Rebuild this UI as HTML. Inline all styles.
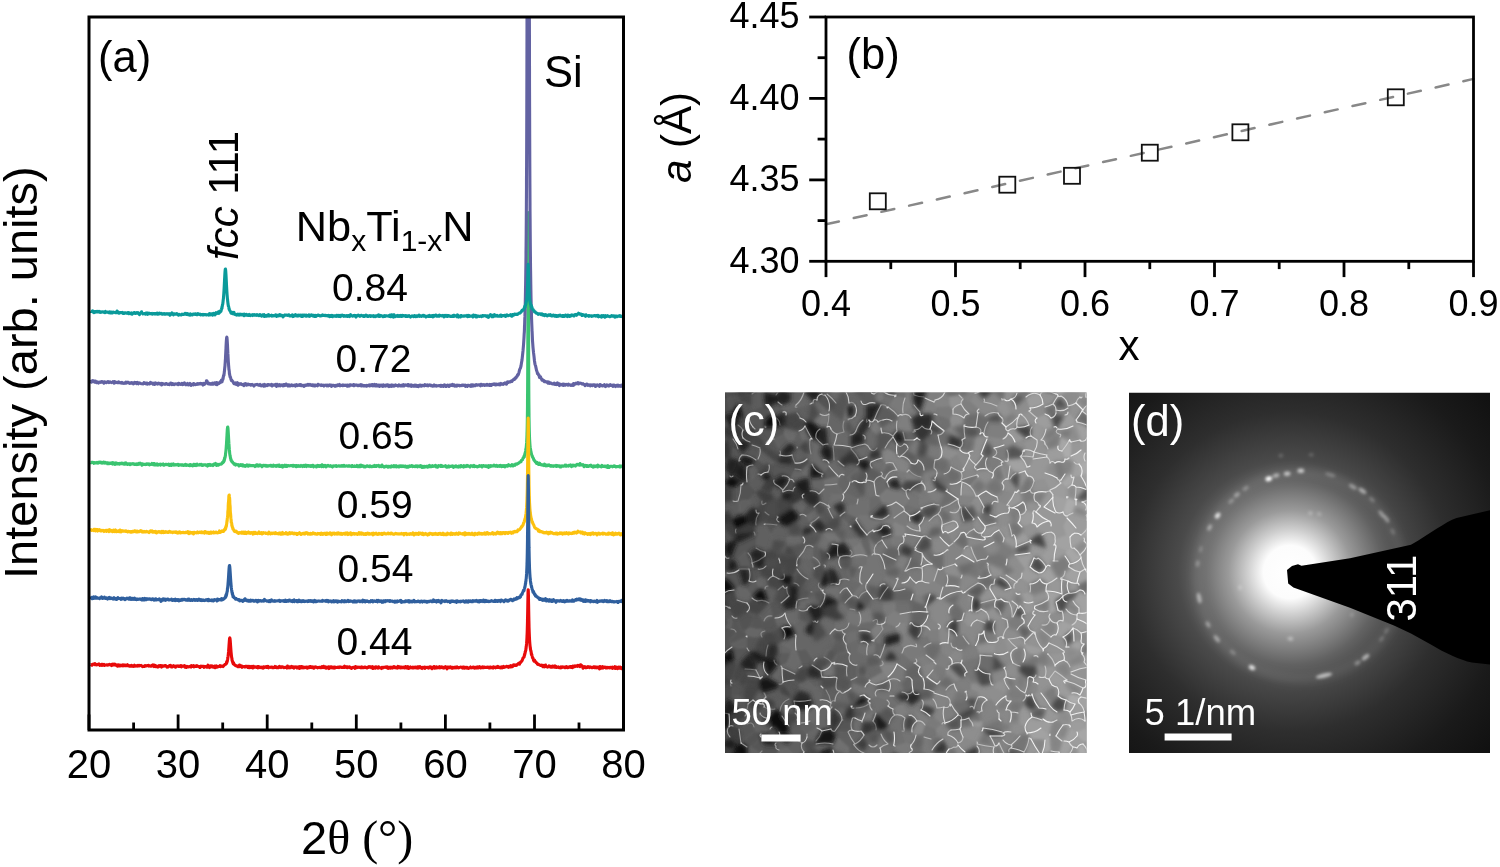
<!DOCTYPE html>
<html><head><meta charset="utf-8"><style>
html,body{margin:0;padding:0;background:#fff;}
svg{display:block;}
text{font-family:"Liberation Sans",Arial,sans-serif;}
</style></head><body>
<svg width="1500" height="867" viewBox="0 0 1500 867">
<rect width="1500" height="867" fill="#fff"/>
<defs>
<clipPath id="ca"><rect x="89" y="17" width="534.5" height="713"/></clipPath>
<clipPath id="cc"><rect x="725" y="392.5" width="361.5" height="360.5"/></clipPath>
<clipPath id="cd"><rect x="1129" y="392.5" width="361" height="360.5"/></clipPath>
<filter id="tb" x="0" y="0" width="1" height="1"><feGaussianBlur stdDeviation="1.2"/></filter>
<filter id="tb2" x="-5%" y="-5%" width="110%" height="110%"><feGaussianBlur stdDeviation="2.2"/></filter>
<filter id="tb3" x="-5%" y="-5%" width="110%" height="110%"><feGaussianBlur stdDeviation="0.5"/></filter>
<filter id="sb" x="-10%" y="-10%" width="120%" height="120%"><feGaussianBlur stdDeviation="1.4"/></filter>
<filter id="rb" x="-20%" y="-20%" width="140%" height="140%"><feGaussianBlur stdDeviation="3.5"/></filter>
<radialGradient id="glow" gradientUnits="userSpaceOnUse" cx="1290" cy="572" r="280">
<stop offset="0" stop-color="#fff"/>
<stop offset="0.095" stop-color="#fcfcfc"/>
<stop offset="0.15" stop-color="#d0d0d0"/>
<stop offset="0.22" stop-color="#9a9a9a"/>
<stop offset="0.33" stop-color="#626262"/>
<stop offset="0.40" stop-color="#4a4a4a"/>
<stop offset="0.571" stop-color="#2e2e2e"/>
<stop offset="0.786" stop-color="#1a1a1a"/>
<stop offset="1" stop-color="#0e0e0e"/>
</radialGradient>
</defs>
<!-- panel a -->
<g clip-path="url(#ca)" fill="none" stroke-width="3.1" stroke-linejoin="round">
<path d="M90.5,462.6 L91.0,462.8 L91.5,462.5 L92.0,462.3 L92.5,462.5 L93.0,462.3 L93.5,462.8 L94.0,463.4 L94.5,462.5 L95.0,462.5 L95.5,463.0 L96.0,463.0 L96.5,462.9 L97.0,462.4 L97.5,462.9 L98.0,463.2 L98.5,462.3 L99.0,462.7 L99.5,462.1 L100.0,462.4 L100.5,462.2 L101.0,462.9 L101.5,462.4 L102.0,463.2 L102.5,463.1 L103.0,463.0 L103.5,462.0 L104.0,462.9 L104.5,463.1 L105.0,463.2 L105.5,462.5 L106.0,463.0 L106.5,462.7 L107.0,462.8 L107.5,463.7 L108.0,462.9 L108.5,463.2 L109.0,463.7 L109.5,463.0 L110.0,463.3 L110.5,463.4 L111.0,463.4 L111.5,462.8 L112.0,463.4 L112.5,464.0 L113.0,462.7 L113.5,463.8 L114.0,463.5 L114.5,463.2 L115.0,464.4 L115.5,463.8 L116.0,462.9 L116.5,463.5 L117.0,463.8 L117.5,463.4 L118.0,463.9 L118.5,463.5 L119.0,463.9 L119.5,464.2 L120.0,463.3 L120.5,463.7 L121.0,463.4 L121.5,463.7 L122.0,463.1 L122.5,463.4 L123.0,463.6 L123.5,464.1 L124.0,464.2 L124.5,463.1 L125.0,463.4 L125.5,464.1 L126.0,462.9 L126.5,463.6 L127.0,463.8 L127.5,464.4 L128.0,464.1 L128.5,463.7 L129.0,463.7 L129.5,463.8 L130.0,464.6 L130.5,463.7 L131.0,463.8 L131.5,464.1 L132.0,463.9 L132.5,463.9 L133.0,463.5 L133.5,464.0 L134.0,463.8 L134.5,464.5 L135.0,464.3 L135.5,464.0 L136.0,464.3 L136.5,463.9 L137.0,464.5 L137.5,464.1 L138.0,464.3 L138.5,463.5 L139.0,464.3 L139.5,463.4 L140.0,463.2 L140.5,464.0 L141.0,463.7 L141.5,464.2 L142.0,465.2 L142.5,463.8 L143.0,463.9 L143.5,464.3 L144.0,464.4 L144.5,464.2 L145.0,464.2 L145.5,464.6 L146.0,464.5 L146.5,463.8 L147.0,464.3 L147.5,464.3 L148.0,463.8 L148.5,464.4 L149.0,463.9 L149.5,464.8 L150.0,464.4 L150.5,464.4 L151.0,464.1 L151.5,464.3 L152.0,463.5 L152.5,463.9 L153.0,464.6 L153.5,463.5 L154.0,464.8 L154.5,463.7 L155.0,464.8 L155.5,464.1 L156.0,464.8 L156.5,464.5 L157.0,463.8 L157.5,465.1 L158.0,465.2 L158.5,464.5 L159.0,464.4 L159.5,464.5 L160.0,464.1 L160.5,465.1 L161.0,464.3 L161.5,464.6 L162.0,464.2 L162.5,464.3 L163.0,464.0 L163.5,465.2 L164.0,464.6 L164.5,465.1 L165.0,464.7 L165.5,464.3 L166.0,464.5 L166.5,464.4 L167.0,464.7 L167.5,464.5 L168.0,464.6 L168.5,464.1 L169.0,464.4 L169.5,465.5 L170.0,464.4 L170.5,464.3 L171.0,464.9 L171.5,465.4 L172.0,464.1 L172.5,464.7 L173.0,464.5 L173.5,464.0 L174.0,465.1 L174.5,464.8 L175.0,464.8 L175.5,464.5 L176.0,465.0 L176.5,464.6 L177.0,464.8 L177.5,464.4 L178.0,464.3 L178.5,465.5 L179.0,464.6 L179.5,465.0 L180.0,464.9 L180.5,464.7 L181.0,464.7 L181.5,465.2 L182.0,464.8 L182.5,464.9 L183.0,464.9 L183.5,465.5 L184.0,465.3 L184.5,465.1 L185.0,464.7 L185.5,464.3 L186.0,465.4 L186.5,465.4 L187.0,464.9 L187.5,465.2 L188.0,465.3 L188.5,465.4 L189.0,465.4 L189.5,464.8 L190.0,465.7 L190.5,464.5 L191.0,465.4 L191.5,465.3 L192.0,465.4 L192.5,465.9 L193.0,465.7 L193.5,464.5 L194.0,464.3 L194.5,465.4 L195.0,464.6 L195.5,465.1 L196.0,465.5 L196.5,464.3 L197.0,464.1 L197.5,465.2 L198.0,465.1 L198.5,465.0 L199.0,465.1 L199.5,464.7 L200.0,464.4 L200.5,465.0 L201.0,464.7 L201.5,464.4 L202.0,465.4 L202.5,465.1 L203.0,465.3 L203.5,464.7 L204.0,464.8 L204.5,464.7 L205.0,464.7 L205.5,465.2 L206.0,464.8 L206.5,465.3 L207.0,465.3 L207.5,466.0 L208.0,464.5 L208.5,465.5 L209.0,465.1 L209.5,465.1 L210.0,464.4 L210.5,464.9 L211.0,465.4 L211.5,465.0 L212.0,465.1 L212.5,464.9 L213.0,465.5 L213.5,465.0 L214.0,464.0 L214.5,464.6 L215.0,464.0 L215.5,463.4 L216.0,464.6 L216.5,465.4 L217.0,464.8 L217.5,464.2 L218.0,464.2 L218.5,465.1 L219.0,464.5 L219.5,464.4 L220.0,464.2 L220.5,464.1 L221.0,464.2 L221.5,463.9 L222.0,463.4 L222.5,462.4 L223.0,462.6 L223.5,461.4 L223.7,461.8 L223.8,460.5 L223.9,460.8 L224.0,460.7 L224.0,460.1 L224.1,461.2 L224.2,460.8 L224.3,459.7 L224.4,460.0 L224.5,459.6 L224.5,458.1 L224.6,459.1 L224.7,458.6 L224.8,458.3 L224.9,457.3 L225.0,457.4 L225.0,457.3 L225.1,457.4 L225.2,456.5 L225.3,455.7 L225.4,455.8 L225.5,454.4 L225.5,454.2 L225.6,452.8 L225.7,452.8 L225.8,451.9 L225.9,451.0 L226.0,450.3 L226.0,449.9 L226.1,448.8 L226.2,447.6 L226.3,446.2 L226.4,444.8 L226.5,443.8 L226.5,443.3 L226.6,441.7 L226.7,440.0 L226.8,438.3 L226.9,436.5 L227.0,435.2 L227.0,434.7 L227.1,433.0 L227.2,431.4 L227.3,429.9 L227.4,428.7 L227.5,428.0 L227.5,427.8 L227.6,427.2 L227.7,427.0 L227.8,427.2 L227.9,427.8 L228.0,428.4 L228.0,428.7 L228.1,430.0 L228.2,431.4 L228.3,433.0 L228.4,434.8 L228.5,436.0 L228.5,436.5 L228.6,438.3 L228.7,440.1 L228.8,441.8 L228.9,443.4 L229.0,444.4 L229.0,444.9 L229.1,446.3 L229.2,447.6 L229.3,448.9 L229.4,450.0 L229.5,450.7 L229.5,451.0 L229.6,452.0 L229.7,453.6 L229.8,454.1 L229.9,454.9 L230.0,455.2 L230.0,455.2 L230.1,455.9 L230.2,456.3 L230.3,456.8 L230.4,457.4 L230.5,458.4 L230.5,458.1 L230.6,458.3 L230.7,458.4 L230.8,458.8 L230.9,460.1 L231.0,459.8 L231.0,459.7 L231.1,459.8 L231.2,459.8 L231.3,460.5 L231.4,461.1 L231.5,460.7 L231.5,460.9 L231.6,461.1 L232.0,461.9 L232.5,461.8 L233.0,462.9 L233.5,463.1 L234.0,464.2 L234.5,463.7 L235.0,464.5 L235.5,465.1 L236.0,464.4 L236.5,464.4 L237.0,464.8 L237.5,464.8 L238.0,464.5 L238.5,465.2 L239.0,466.0 L239.5,465.0 L240.0,465.1 L240.5,464.7 L241.0,465.4 L241.5,464.7 L242.0,464.8 L242.5,465.9 L243.0,464.9 L243.5,465.9 L244.0,466.1 L244.5,465.5 L245.0,465.7 L245.5,466.3 L246.0,465.4 L246.5,465.2 L247.0,464.9 L247.5,465.5 L248.0,466.2 L248.5,466.0 L249.0,465.1 L249.5,465.2 L250.0,465.3 L250.5,465.7 L251.0,465.5 L251.5,465.7 L252.0,465.7 L252.5,465.5 L253.0,465.6 L253.5,465.7 L254.0,465.6 L254.5,465.9 L255.0,466.5 L255.5,465.9 L256.0,465.7 L256.5,464.9 L257.0,465.9 L257.5,464.8 L258.0,465.1 L258.5,466.1 L259.0,466.0 L259.5,465.7 L260.0,465.0 L260.5,465.6 L261.0,465.4 L261.5,466.0 L262.0,466.8 L262.5,465.9 L263.0,465.4 L263.5,465.2 L264.0,465.7 L264.5,465.7 L265.0,465.3 L265.5,465.8 L266.0,465.3 L266.5,466.3 L267.0,466.3 L267.5,466.3 L268.0,465.6 L268.5,466.0 L269.0,465.8 L269.5,465.6 L270.0,465.7 L270.5,465.2 L271.0,465.2 L271.5,466.2 L272.0,465.8 L272.5,465.9 L273.0,466.3 L273.5,465.1 L274.0,465.5 L274.5,465.9 L275.0,466.0 L275.5,465.7 L276.0,466.3 L276.5,466.0 L277.0,465.3 L277.5,465.5 L278.0,466.2 L278.5,466.1 L279.0,465.0 L279.5,466.5 L280.0,466.2 L280.5,466.5 L281.0,465.7 L281.5,465.8 L282.0,465.4 L282.5,467.1 L283.0,465.8 L283.5,466.6 L284.0,465.6 L284.5,466.0 L285.0,465.2 L285.5,465.8 L286.0,466.4 L286.5,465.4 L287.0,466.4 L287.5,466.1 L288.0,465.5 L288.5,465.7 L289.0,465.7 L289.5,465.9 L290.0,465.7 L290.5,465.6 L291.0,465.8 L291.5,465.5 L292.0,465.4 L292.5,466.0 L293.0,466.4 L293.5,465.3 L294.0,466.0 L294.5,465.7 L295.0,465.6 L295.5,466.4 L296.0,465.8 L296.5,466.7 L297.0,465.7 L297.5,466.2 L298.0,465.9 L298.5,465.7 L299.0,466.3 L299.5,465.9 L300.0,466.3 L300.5,466.0 L301.0,465.5 L301.5,466.0 L302.0,466.1 L302.5,466.5 L303.0,465.6 L303.5,466.0 L304.0,465.3 L304.5,466.3 L305.0,465.6 L305.5,465.2 L306.0,466.0 L306.5,466.5 L307.0,465.4 L307.5,465.6 L308.0,465.7 L308.5,465.6 L309.0,466.2 L309.5,465.7 L310.0,465.7 L310.5,466.3 L311.0,465.7 L311.5,466.3 L312.0,465.6 L312.5,465.5 L313.0,465.3 L313.5,466.9 L314.0,465.9 L314.5,466.2 L315.0,466.1 L315.5,466.2 L316.0,466.1 L316.5,467.0 L317.0,465.6 L317.5,465.4 L318.0,465.6 L318.5,465.5 L319.0,466.4 L319.5,466.5 L320.0,465.7 L320.5,465.5 L321.0,466.0 L321.5,466.7 L322.0,464.8 L322.5,466.4 L323.0,465.6 L323.5,466.6 L324.0,465.6 L324.5,466.0 L325.0,465.4 L325.5,465.7 L326.0,466.8 L326.5,466.5 L327.0,466.0 L327.5,465.7 L328.0,465.3 L328.5,466.0 L329.0,466.1 L329.5,466.1 L330.0,466.1 L330.5,465.6 L331.0,466.1 L331.5,466.1 L332.0,466.7 L332.5,467.0 L333.0,466.1 L333.5,465.8 L334.0,466.1 L334.5,465.9 L335.0,465.8 L335.5,466.1 L336.0,465.7 L336.5,466.4 L337.0,466.1 L337.5,466.3 L338.0,466.1 L338.5,465.8 L339.0,465.8 L339.5,466.1 L340.0,465.9 L340.5,466.3 L341.0,466.2 L341.5,465.6 L342.0,466.2 L342.5,465.6 L343.0,465.9 L343.5,466.1 L344.0,465.3 L344.5,466.2 L345.0,466.3 L345.5,466.1 L346.0,466.0 L346.5,466.0 L347.0,465.8 L347.5,466.1 L348.0,466.0 L348.5,466.2 L349.0,465.7 L349.5,466.3 L350.0,466.3 L350.5,466.1 L351.0,466.0 L351.5,466.5 L352.0,465.5 L352.5,466.4 L353.0,466.3 L353.5,466.3 L354.0,466.4 L354.5,465.9 L355.0,466.1 L355.5,466.5 L356.0,466.4 L356.5,466.3 L357.0,465.5 L357.5,466.5 L358.0,466.8 L358.5,466.7 L359.0,466.3 L359.5,465.5 L360.0,466.7 L360.5,466.2 L361.0,465.1 L361.5,466.4 L362.0,465.6 L362.5,465.7 L363.0,466.0 L363.5,466.8 L364.0,466.1 L364.5,466.4 L365.0,467.0 L365.5,467.0 L366.0,466.2 L366.5,466.1 L367.0,465.7 L367.5,465.9 L368.0,466.4 L368.5,466.4 L369.0,466.3 L369.5,466.7 L370.0,465.9 L370.5,466.2 L371.0,466.6 L371.5,466.5 L372.0,466.7 L372.5,466.4 L373.0,466.1 L373.5,466.4 L374.0,465.8 L374.5,465.5 L375.0,466.5 L375.5,466.2 L376.0,466.4 L376.5,465.5 L377.0,466.1 L377.5,466.0 L378.0,465.9 L378.5,465.3 L379.0,466.1 L379.5,466.7 L380.0,466.5 L380.5,466.0 L381.0,466.3 L381.5,466.6 L382.0,465.0 L382.5,466.2 L383.0,466.5 L383.5,466.6 L384.0,467.1 L384.5,466.8 L385.0,466.4 L385.5,466.4 L386.0,466.6 L386.5,466.1 L387.0,466.3 L387.5,466.7 L388.0,467.2 L388.5,466.2 L389.0,466.3 L389.5,466.4 L390.0,466.9 L390.5,466.3 L391.0,467.0 L391.5,465.9 L392.0,466.2 L392.5,466.2 L393.0,466.7 L393.5,466.8 L394.0,465.6 L394.5,465.9 L395.0,466.5 L395.5,466.0 L396.0,465.6 L396.5,466.8 L397.0,466.5 L397.5,466.5 L398.0,466.1 L398.5,466.8 L399.0,466.2 L399.5,466.8 L400.0,465.9 L400.5,465.9 L401.0,466.4 L401.5,466.0 L402.0,466.6 L402.5,466.4 L403.0,465.9 L403.5,466.4 L404.0,466.2 L404.5,466.7 L405.0,466.0 L405.5,466.1 L406.0,466.9 L406.5,467.3 L407.0,467.2 L407.5,466.4 L408.0,466.4 L408.5,467.0 L409.0,466.3 L409.5,465.9 L410.0,466.4 L410.5,466.5 L411.0,466.0 L411.5,465.6 L412.0,465.7 L412.5,466.6 L413.0,466.0 L413.5,466.3 L414.0,466.4 L414.5,466.6 L415.0,466.2 L415.5,466.6 L416.0,465.9 L416.5,466.2 L417.0,465.9 L417.5,466.8 L418.0,466.3 L418.5,466.0 L419.0,466.2 L419.5,466.2 L420.0,466.7 L420.5,465.6 L421.0,465.9 L421.5,466.2 L422.0,467.5 L422.5,466.8 L423.0,466.3 L423.5,466.7 L424.0,467.3 L424.5,466.2 L425.0,466.2 L425.5,466.9 L426.0,466.6 L426.5,466.6 L427.0,466.1 L427.5,467.2 L428.0,467.1 L428.5,466.6 L429.0,466.7 L429.5,465.4 L430.0,466.6 L430.5,466.3 L431.0,466.5 L431.5,466.7 L432.0,466.2 L432.5,465.6 L433.0,466.5 L433.5,466.0 L434.0,466.2 L434.5,466.1 L435.0,466.2 L435.5,465.3 L436.0,466.9 L436.5,466.5 L437.0,466.8 L437.5,467.2 L438.0,466.4 L438.5,465.5 L439.0,465.9 L439.5,465.8 L440.0,466.1 L440.5,466.4 L441.0,465.4 L441.5,466.5 L442.0,465.7 L442.5,466.5 L443.0,466.3 L443.5,466.2 L444.0,466.3 L444.5,466.1 L445.0,466.1 L445.5,465.6 L446.0,466.3 L446.5,467.2 L447.0,467.2 L447.5,466.9 L448.0,466.7 L448.5,466.0 L449.0,467.0 L449.5,466.3 L450.0,466.3 L450.5,466.2 L451.0,466.4 L451.5,466.1 L452.0,466.3 L452.5,465.9 L453.0,466.2 L453.5,467.4 L454.0,466.3 L454.5,466.2 L455.0,466.6 L455.5,466.7 L456.0,465.8 L456.5,466.2 L457.0,466.8 L457.5,466.5 L458.0,466.4 L458.5,467.0 L459.0,466.0 L459.5,466.4 L460.0,466.1 L460.5,467.0 L461.0,465.5 L461.5,466.0 L462.0,466.1 L462.5,466.6 L463.0,466.6 L463.5,467.0 L464.0,465.6 L464.5,466.7 L465.0,466.2 L465.5,466.0 L466.0,466.6 L466.5,465.9 L467.0,465.4 L467.5,466.2 L468.0,465.6 L468.5,466.0 L469.0,466.5 L469.5,466.5 L470.0,467.0 L470.5,466.2 L471.0,465.6 L471.5,466.0 L472.0,465.9 L472.5,465.8 L473.0,466.5 L473.5,466.0 L474.0,465.4 L474.5,466.6 L475.0,466.2 L475.5,466.5 L476.0,466.3 L476.5,466.6 L477.0,466.3 L477.5,466.8 L478.0,466.5 L478.5,466.5 L479.0,466.5 L479.5,465.6 L480.0,466.2 L480.5,466.2 L481.0,466.4 L481.5,465.7 L482.0,467.0 L482.5,466.3 L483.0,465.7 L483.5,465.5 L484.0,466.1 L484.5,466.2 L485.0,465.9 L485.5,466.3 L486.0,465.9 L486.5,466.5 L487.0,465.9 L487.5,466.2 L488.0,466.6 L488.5,467.4 L489.0,465.7 L489.5,466.0 L490.0,465.8 L490.5,466.5 L491.0,465.7 L491.5,465.9 L492.0,466.1 L492.5,465.7 L493.0,465.7 L493.5,465.9 L494.0,465.2 L494.5,465.5 L495.0,465.9 L495.5,466.2 L496.0,466.0 L496.5,465.3 L497.0,465.9 L497.5,466.4 L498.0,466.3 L498.5,466.0 L499.0,465.6 L499.5,466.3 L500.0,465.7 L500.5,465.4 L501.0,465.6 L501.5,466.6 L502.0,466.0 L502.5,466.4 L503.0,465.7 L503.5,466.3 L504.0,465.6 L504.5,465.7 L505.0,466.9 L505.5,466.1 L506.0,465.5 L506.5,465.6 L507.0,465.8 L507.5,466.2 L508.0,465.3 L508.5,464.7 L509.0,465.4 L509.5,465.4 L510.0,465.4 L510.5,465.9 L511.0,465.4 L511.5,465.6 L512.0,464.6 L512.5,465.4 L513.0,465.9 L513.5,465.2 L514.0,464.9 L514.5,464.7 L515.0,465.3 L515.5,464.0 L516.0,464.2 L516.5,464.3 L517.0,464.2 L517.5,463.5 L518.0,463.6 L518.5,463.1 L519.0,463.0 L519.5,462.5 L520.0,461.7 L520.5,461.8 L521.0,461.7 L521.5,460.3 L522.0,460.0 L522.5,459.7 L523.0,458.1 L523.5,457.7 L524.0,456.1 L524.2,456.6 L524.3,456.9 L524.4,456.5 L524.5,455.2 L524.5,455.5 L524.6,455.1 L524.7,454.7 L524.8,455.1 L524.9,453.5 L525.0,454.2 L525.0,453.6 L525.1,454.0 L525.2,453.0 L525.3,452.2 L525.4,452.2 L525.5,452.0 L525.5,451.5 L525.6,451.4 L525.7,450.4 L525.8,449.1 L525.9,449.9 L526.0,449.1 L526.0,448.7 L526.1,448.1 L526.2,447.8 L526.3,446.4 L526.4,445.4 L526.5,444.2 L526.5,443.8 L526.6,442.9 L526.7,441.3 L526.8,439.4 L526.9,437.2 L527.0,434.5 L527.0,433.6 L527.1,431.2 L527.2,427.0 L527.3,421.6 L527.4,414.6 L527.5,405.2 L527.5,401.7 L527.6,392.3 L527.7,374.5 L527.8,349.6 L527.9,315.7 L528.0,273.3 L528.0,260.0 L528.1,231.9 L528.2,212.5 L528.3,229.3 L528.4,269.8 L528.5,312.6 L528.5,324.0 L528.6,347.3 L528.7,372.8 L528.8,391.1 L528.9,404.3 L529.0,413.9 L529.0,416.3 L529.1,421.1 L529.2,426.6 L529.3,430.9 L529.4,434.3 L529.5,437.0 L529.5,437.7 L529.6,439.3 L529.7,441.2 L529.8,442.7 L529.9,444.1 L530.0,445.3 L530.0,445.6 L530.1,446.3 L530.2,447.2 L530.3,447.8 L530.4,448.5 L530.5,449.4 L530.5,450.2 L530.6,449.4 L530.7,451.2 L530.8,450.9 L530.9,451.1 L531.0,452.7 L531.0,452.2 L531.1,451.9 L531.2,452.8 L531.3,453.7 L531.4,454.2 L531.5,453.8 L531.5,454.3 L531.6,454.7 L531.7,454.4 L531.8,455.1 L531.9,455.3 L532.0,455.3 L532.0,455.4 L532.1,455.9 L532.5,456.9 L533.0,457.7 L533.5,458.7 L534.0,460.2 L534.5,460.4 L535.0,461.3 L535.5,462.0 L536.0,462.2 L536.5,463.3 L537.0,462.3 L537.5,463.4 L538.0,463.1 L538.5,464.4 L539.0,464.5 L539.5,463.1 L540.0,463.7 L540.5,464.6 L541.0,464.8 L541.5,464.9 L542.0,464.6 L542.5,465.0 L543.0,465.2 L543.5,464.9 L544.0,465.5 L544.5,464.1 L545.0,465.5 L545.5,464.8 L546.0,465.8 L546.5,465.3 L547.0,465.0 L547.5,465.7 L548.0,465.1 L548.5,465.2 L549.0,464.9 L549.5,465.6 L550.0,465.9 L550.5,466.2 L551.0,465.7 L551.5,466.2 L552.0,465.8 L552.5,465.8 L553.0,466.1 L553.5,466.3 L554.0,465.7 L554.5,465.8 L555.0,465.8 L555.5,466.0 L556.0,465.5 L556.5,466.4 L557.0,465.8 L557.5,466.2 L558.0,465.6 L558.5,466.2 L559.0,466.2 L559.5,465.8 L560.0,466.9 L560.5,466.2 L561.0,466.8 L561.5,466.5 L562.0,465.8 L562.5,465.9 L563.0,466.3 L563.5,466.1 L564.0,466.1 L564.5,465.9 L565.0,465.2 L565.5,466.0 L566.0,465.1 L566.5,466.2 L567.0,465.7 L567.5,465.7 L568.0,465.9 L568.5,466.1 L569.0,465.3 L569.5,465.2 L570.0,465.5 L570.5,465.0 L571.0,465.5 L571.5,466.6 L572.0,465.3 L572.5,466.0 L573.0,465.1 L573.5,465.8 L574.0,465.4 L574.5,465.4 L575.0,465.6 L575.5,466.0 L576.0,465.1 L576.5,465.0 L577.0,464.3 L577.5,464.9 L578.0,464.4 L578.5,464.8 L579.0,464.3 L579.5,465.2 L580.0,463.6 L580.5,464.5 L581.0,465.1 L581.5,464.7 L582.0,464.7 L582.5,465.1 L583.0,464.7 L583.5,465.5 L584.0,466.7 L584.5,466.2 L585.0,465.3 L585.5,465.4 L586.0,465.7 L586.5,466.4 L587.0,465.6 L587.5,465.7 L588.0,466.5 L588.5,466.5 L589.0,465.9 L589.5,465.6 L590.0,465.5 L590.5,465.9 L591.0,465.2 L591.5,466.5 L592.0,465.9 L592.5,466.5 L593.0,467.1 L593.5,466.8 L594.0,465.8 L594.5,466.7 L595.0,466.8 L595.5,466.0 L596.0,465.9 L596.5,466.3 L597.0,465.6 L597.5,467.0 L598.0,465.2 L598.5,465.8 L599.0,466.2 L599.5,466.2 L600.0,466.4 L600.5,466.5 L601.0,466.3 L601.5,466.9 L602.0,465.4 L602.5,466.4 L603.0,466.1 L603.5,466.4 L604.0,466.5 L604.5,466.0 L605.0,466.1 L605.5,466.7 L606.0,466.5 L606.5,466.1 L607.0,467.3 L607.5,467.4 L608.0,465.7 L608.5,466.5 L609.0,467.5 L609.5,466.8 L610.0,466.5 L610.5,466.3 L611.0,466.2 L611.5,466.3 L612.0,466.2 L612.5,466.8 L613.0,466.2 L613.5,466.2 L614.0,465.9 L614.5,466.4 L615.0,466.0 L615.5,466.3 L616.0,466.9 L616.5,466.6 L617.0,466.7 L617.5,466.6 L618.0,466.5 L618.5,466.4 L619.0,466.3 L619.5,466.8 L620.0,465.9 L620.5,467.0 L621.0,466.5 L621.5,466.1 L622.0,466.2 L622.5,466.1" stroke="#3ac470"/><path d="M90.5,381.7 L91.0,381.3 L91.5,382.2 L92.0,381.3 L92.5,380.7 L93.0,381.4 L93.5,380.8 L94.0,381.7 L94.5,382.2 L95.0,382.1 L95.5,381.2 L96.0,381.5 L96.5,382.7 L97.0,382.0 L97.5,381.9 L98.0,382.4 L98.5,383.0 L99.0,382.5 L99.5,382.0 L100.0,382.1 L100.5,382.3 L101.0,381.7 L101.5,381.6 L102.0,382.1 L102.5,381.7 L103.0,382.1 L103.5,382.2 L104.0,383.2 L104.5,381.8 L105.0,382.1 L105.5,382.1 L106.0,382.4 L106.5,382.7 L107.0,382.0 L107.5,381.9 L108.0,381.5 L108.5,381.9 L109.0,382.6 L109.5,382.4 L110.0,381.9 L110.5,382.2 L111.0,382.4 L111.5,382.6 L112.0,382.2 L112.5,382.3 L113.0,381.6 L113.5,381.9 L114.0,383.2 L114.5,381.5 L115.0,382.4 L115.5,382.6 L116.0,382.4 L116.5,382.2 L117.0,382.6 L117.5,382.6 L118.0,382.6 L118.5,381.8 L119.0,382.6 L119.5,382.3 L120.0,382.4 L120.5,382.8 L121.0,383.0 L121.5,383.1 L122.0,382.5 L122.5,383.2 L123.0,383.3 L123.5,383.3 L124.0,383.4 L124.5,382.7 L125.0,382.7 L125.5,383.2 L126.0,382.2 L126.5,383.0 L127.0,382.6 L127.5,382.7 L128.0,382.1 L128.5,382.5 L129.0,382.9 L129.5,383.4 L130.0,383.4 L130.5,382.9 L131.0,382.9 L131.5,382.6 L132.0,383.2 L132.5,382.9 L133.0,383.3 L133.5,383.9 L134.0,383.1 L134.5,382.4 L135.0,382.7 L135.5,382.5 L136.0,382.6 L136.5,383.7 L137.0,383.3 L137.5,382.5 L138.0,383.5 L138.5,383.8 L139.0,383.0 L139.5,382.9 L140.0,383.1 L140.5,383.4 L141.0,383.6 L141.5,383.8 L142.0,383.8 L142.5,383.8 L143.0,383.9 L143.5,383.6 L144.0,382.6 L144.5,383.3 L145.0,383.5 L145.5,383.2 L146.0,383.8 L146.5,383.2 L147.0,383.0 L147.5,384.1 L148.0,383.7 L148.5,383.5 L149.0,383.9 L149.5,383.9 L150.0,383.6 L150.5,382.4 L151.0,383.2 L151.5,383.3 L152.0,383.1 L152.5,383.6 L153.0,384.1 L153.5,383.3 L154.0,383.1 L154.5,384.5 L155.0,383.4 L155.5,383.0 L156.0,383.7 L156.5,383.8 L157.0,383.3 L157.5,384.0 L158.0,383.4 L158.5,383.2 L159.0,383.8 L159.5,384.0 L160.0,383.4 L160.5,383.8 L161.0,383.7 L161.5,385.0 L162.0,383.4 L162.5,384.4 L163.0,383.7 L163.5,383.7 L164.0,384.1 L164.5,384.2 L165.0,384.4 L165.5,383.9 L166.0,383.5 L166.5,383.6 L167.0,384.1 L167.5,384.1 L168.0,384.5 L168.5,384.0 L169.0,384.3 L169.5,384.6 L170.0,384.0 L170.5,383.2 L171.0,383.4 L171.5,383.3 L172.0,384.6 L172.5,383.5 L173.0,384.5 L173.5,384.2 L174.0,384.7 L174.5,384.4 L175.0,383.9 L175.5,383.9 L176.0,384.0 L176.5,384.1 L177.0,383.8 L177.5,384.0 L178.0,384.7 L178.5,383.3 L179.0,384.1 L179.5,383.6 L180.0,384.1 L180.5,384.4 L181.0,384.0 L181.5,384.4 L182.0,383.4 L182.5,384.6 L183.0,383.8 L183.5,384.4 L184.0,384.2 L184.5,382.9 L185.0,383.8 L185.5,384.2 L186.0,384.8 L186.5,384.3 L187.0,384.3 L187.5,383.5 L188.0,384.8 L188.5,385.0 L189.0,384.2 L189.5,384.1 L190.0,383.4 L190.5,384.6 L191.0,385.4 L191.5,384.5 L192.0,384.8 L192.5,384.4 L193.0,383.8 L193.5,384.8 L194.0,383.7 L194.5,384.1 L195.0,384.3 L195.5,384.6 L196.0,384.4 L196.5,384.4 L197.0,383.9 L197.5,383.6 L198.0,384.3 L198.5,383.9 L199.0,383.6 L199.5,383.7 L200.0,384.0 L200.5,383.4 L201.0,383.6 L201.5,383.5 L202.0,384.3 L202.5,384.3 L203.0,385.0 L203.5,383.4 L204.0,383.7 L204.5,384.3 L205.0,383.6 L205.5,383.1 L206.0,383.0 L206.5,380.7 L207.0,381.0 L207.5,382.3 L208.0,383.7 L208.5,383.9 L209.0,383.3 L209.5,383.5 L210.0,384.3 L210.5,384.3 L211.0,383.7 L211.5,384.3 L212.0,384.3 L212.5,383.2 L213.0,383.8 L213.5,384.1 L214.0,383.7 L214.5,382.9 L215.0,383.7 L215.5,384.1 L216.0,384.4 L216.5,382.6 L217.0,384.7 L217.5,382.9 L218.0,383.7 L218.5,383.7 L219.0,383.4 L219.5,382.8 L220.0,381.9 L220.5,382.4 L221.0,381.4 L221.5,380.1 L222.0,381.8 L222.5,379.9 L222.8,379.6 L222.9,378.1 L223.0,379.0 L223.0,379.0 L223.1,378.7 L223.2,377.6 L223.3,376.8 L223.4,376.9 L223.5,375.7 L223.5,375.8 L223.6,376.2 L223.7,375.2 L223.8,375.1 L223.9,374.6 L224.0,375.2 L224.0,374.7 L224.1,373.5 L224.2,373.4 L224.3,371.8 L224.4,371.2 L224.5,371.3 L224.5,369.9 L224.6,369.5 L224.7,368.0 L224.8,367.6 L224.9,366.4 L225.0,365.7 L225.0,365.2 L225.1,363.9 L225.2,362.5 L225.3,360.9 L225.4,359.3 L225.5,358.3 L225.5,357.5 L225.6,355.7 L225.7,353.8 L225.8,351.8 L225.9,349.7 L226.0,348.5 L226.0,347.7 L226.1,345.7 L226.2,343.7 L226.3,341.9 L226.4,340.3 L226.5,339.5 L226.5,339.0 L226.6,338.0 L226.7,337.4 L226.8,337.2 L226.9,337.4 L227.0,337.8 L227.0,338.1 L227.1,339.1 L227.2,340.4 L227.3,342.0 L227.4,343.8 L227.5,345.0 L227.5,345.8 L227.6,347.8 L227.7,349.9 L227.8,351.9 L227.9,353.9 L228.0,355.1 L228.0,355.8 L228.1,357.7 L228.2,359.4 L228.3,361.0 L228.4,362.6 L228.5,363.4 L228.5,364.0 L228.6,365.3 L228.7,366.5 L228.8,367.7 L228.9,369.5 L229.0,369.0 L229.0,369.8 L229.1,370.2 L229.2,370.9 L229.3,371.6 L229.4,373.6 L229.5,374.4 L229.5,373.8 L229.6,373.9 L229.7,375.1 L229.8,375.1 L229.9,376.1 L230.0,376.2 L230.0,376.3 L230.1,376.9 L230.2,376.8 L230.3,377.2 L230.4,377.0 L230.5,377.7 L230.5,377.4 L230.6,378.3 L230.7,378.2 L231.0,379.4 L231.5,380.5 L232.0,380.4 L232.5,381.3 L233.0,381.7 L233.5,382.8 L234.0,383.6 L234.5,383.4 L235.0,383.1 L235.5,384.1 L236.0,382.9 L236.5,384.4 L237.0,383.5 L237.5,382.7 L238.0,385.2 L238.5,384.8 L239.0,383.7 L239.5,384.3 L240.0,384.2 L240.5,384.3 L241.0,383.7 L241.5,384.1 L242.0,384.6 L242.5,384.6 L243.0,385.0 L243.5,384.5 L244.0,385.6 L244.5,384.2 L245.0,384.7 L245.5,383.7 L246.0,384.1 L246.5,385.2 L247.0,384.2 L247.5,384.9 L248.0,384.7 L248.5,384.2 L249.0,384.6 L249.5,384.5 L250.0,384.5 L250.5,385.1 L251.0,385.1 L251.5,384.5 L252.0,384.4 L252.5,384.9 L253.0,384.8 L253.5,385.3 L254.0,386.0 L254.5,385.2 L255.0,384.8 L255.5,384.8 L256.0,384.5 L256.5,384.5 L257.0,384.4 L257.5,384.7 L258.0,384.7 L258.5,385.2 L259.0,384.7 L259.5,384.8 L260.0,384.4 L260.5,385.7 L261.0,385.2 L261.5,385.8 L262.0,385.3 L262.5,385.6 L263.0,384.9 L263.5,385.3 L264.0,386.2 L264.5,384.4 L265.0,385.5 L265.5,385.8 L266.0,385.2 L266.5,385.4 L267.0,385.6 L267.5,384.7 L268.0,385.2 L268.5,384.6 L269.0,384.7 L269.5,384.8 L270.0,385.0 L270.5,385.1 L271.0,385.3 L271.5,384.4 L272.0,386.0 L272.5,385.6 L273.0,385.4 L273.5,384.9 L274.0,385.0 L274.5,385.3 L275.0,385.3 L275.5,384.3 L276.0,385.4 L276.5,386.4 L277.0,384.3 L277.5,385.6 L278.0,385.3 L278.5,385.1 L279.0,385.8 L279.5,384.6 L280.0,385.2 L280.5,385.8 L281.0,385.0 L281.5,384.9 L282.0,385.2 L282.5,384.9 L283.0,385.9 L283.5,384.7 L284.0,385.6 L284.5,384.6 L285.0,385.5 L285.5,385.1 L286.0,384.0 L286.5,385.2 L287.0,384.7 L287.5,385.0 L288.0,385.9 L288.5,384.7 L289.0,384.7 L289.5,385.9 L290.0,385.3 L290.5,385.9 L291.0,385.4 L291.5,384.8 L292.0,385.2 L292.5,385.8 L293.0,385.7 L293.5,385.2 L294.0,385.2 L294.5,385.2 L295.0,385.0 L295.5,386.1 L296.0,385.2 L296.5,384.7 L297.0,385.0 L297.5,385.6 L298.0,385.5 L298.5,385.2 L299.0,384.9 L299.5,385.3 L300.0,384.5 L300.5,384.7 L301.0,385.6 L301.5,385.0 L302.0,385.4 L302.5,385.8 L303.0,385.6 L303.5,385.3 L304.0,386.3 L304.5,385.6 L305.0,385.1 L305.5,385.6 L306.0,385.5 L306.5,384.9 L307.0,385.3 L307.5,385.2 L308.0,384.4 L308.5,385.2 L309.0,385.2 L309.5,385.1 L310.0,384.5 L310.5,385.1 L311.0,385.3 L311.5,385.4 L312.0,384.8 L312.5,385.6 L313.0,384.8 L313.5,385.2 L314.0,385.9 L314.5,385.0 L315.0,385.1 L315.5,385.8 L316.0,385.2 L316.5,385.2 L317.0,385.4 L317.5,385.8 L318.0,384.3 L318.5,385.0 L319.0,384.9 L319.5,384.9 L320.0,385.0 L320.5,385.0 L321.0,385.5 L321.5,384.9 L322.0,385.4 L322.5,385.5 L323.0,385.0 L323.5,385.4 L324.0,386.1 L324.5,385.5 L325.0,385.1 L325.5,385.3 L326.0,385.0 L326.5,385.5 L327.0,385.8 L327.5,385.0 L328.0,385.3 L328.5,385.9 L329.0,385.2 L329.5,385.5 L330.0,384.9 L330.5,385.0 L331.0,385.2 L331.5,386.4 L332.0,385.2 L332.5,385.2 L333.0,385.2 L333.5,385.3 L334.0,385.7 L334.5,385.5 L335.0,386.3 L335.5,385.5 L336.0,386.1 L336.5,385.5 L337.0,385.7 L337.5,384.8 L338.0,385.4 L338.5,385.4 L339.0,385.3 L339.5,384.5 L340.0,385.8 L340.5,385.3 L341.0,385.2 L341.5,385.3 L342.0,385.3 L342.5,385.6 L343.0,384.9 L343.5,385.0 L344.0,385.6 L344.5,385.5 L345.0,385.3 L345.5,385.2 L346.0,385.1 L346.5,385.4 L347.0,386.0 L347.5,385.0 L348.0,386.1 L348.5,385.8 L349.0,385.3 L349.5,385.8 L350.0,384.8 L350.5,384.7 L351.0,384.9 L351.5,385.3 L352.0,385.3 L352.5,385.2 L353.0,385.5 L353.5,384.5 L354.0,385.7 L354.5,384.8 L355.0,385.2 L355.5,385.3 L356.0,385.0 L356.5,384.9 L357.0,385.0 L357.5,385.5 L358.0,385.7 L358.5,385.7 L359.0,385.0 L359.5,385.1 L360.0,385.1 L360.5,385.7 L361.0,384.6 L361.5,386.0 L362.0,385.3 L362.5,385.1 L363.0,385.6 L363.5,386.0 L364.0,385.6 L364.5,386.0 L365.0,385.6 L365.5,386.0 L366.0,386.1 L366.5,385.5 L367.0,386.1 L367.5,385.6 L368.0,385.5 L368.5,385.1 L369.0,385.4 L369.5,385.9 L370.0,384.9 L370.5,385.8 L371.0,385.7 L371.5,385.6 L372.0,384.5 L372.5,385.5 L373.0,385.8 L373.5,385.2 L374.0,385.6 L374.5,384.4 L375.0,385.8 L375.5,385.2 L376.0,385.9 L376.5,384.7 L377.0,385.8 L377.5,385.4 L378.0,385.9 L378.5,385.1 L379.0,385.2 L379.5,386.5 L380.0,385.1 L380.5,385.2 L381.0,385.4 L381.5,385.1 L382.0,386.1 L382.5,386.3 L383.0,385.2 L383.5,384.8 L384.0,386.1 L384.5,386.0 L385.0,385.9 L385.5,386.1 L386.0,385.1 L386.5,385.5 L387.0,384.9 L387.5,384.9 L388.0,386.0 L388.5,385.2 L389.0,386.6 L389.5,385.6 L390.0,385.2 L390.5,385.9 L391.0,386.3 L391.5,385.8 L392.0,385.0 L392.5,385.7 L393.0,386.2 L393.5,385.3 L394.0,385.2 L394.5,386.0 L395.0,385.6 L395.5,385.0 L396.0,385.4 L396.5,385.2 L397.0,385.7 L397.5,385.6 L398.0,386.1 L398.5,385.9 L399.0,384.8 L399.5,385.7 L400.0,385.9 L400.5,385.8 L401.0,386.0 L401.5,385.3 L402.0,385.1 L402.5,386.0 L403.0,385.1 L403.5,384.6 L404.0,386.0 L404.5,385.2 L405.0,385.4 L405.5,384.9 L406.0,385.0 L406.5,385.0 L407.0,385.4 L407.5,385.7 L408.0,384.5 L408.5,385.9 L409.0,385.0 L409.5,385.1 L410.0,385.9 L410.5,385.5 L411.0,384.9 L411.5,386.4 L412.0,385.2 L412.5,385.7 L413.0,385.6 L413.5,386.2 L414.0,385.3 L414.5,386.0 L415.0,385.2 L415.5,386.1 L416.0,385.2 L416.5,385.4 L417.0,386.4 L417.5,385.7 L418.0,385.6 L418.5,386.6 L419.0,385.7 L419.5,385.2 L420.0,385.9 L420.5,385.0 L421.0,386.1 L421.5,386.1 L422.0,385.3 L422.5,385.3 L423.0,385.6 L423.5,385.6 L424.0,385.1 L424.5,385.8 L425.0,384.6 L425.5,385.3 L426.0,385.4 L426.5,385.4 L427.0,385.7 L427.5,385.0 L428.0,385.8 L428.5,385.5 L429.0,385.2 L429.5,384.9 L430.0,385.0 L430.5,385.7 L431.0,385.1 L431.5,385.6 L432.0,386.0 L432.5,386.0 L433.0,386.2 L433.5,385.4 L434.0,385.0 L434.5,386.0 L435.0,385.7 L435.5,386.0 L436.0,385.5 L436.5,386.1 L437.0,385.9 L437.5,385.8 L438.0,385.8 L438.5,385.7 L439.0,385.6 L439.5,385.6 L440.0,386.0 L440.5,385.3 L441.0,386.3 L441.5,385.5 L442.0,386.0 L442.5,385.5 L443.0,385.4 L443.5,386.4 L444.0,385.4 L444.5,384.9 L445.0,385.2 L445.5,385.4 L446.0,386.5 L446.5,385.6 L447.0,385.9 L447.5,385.0 L448.0,385.7 L448.5,385.8 L449.0,386.3 L449.5,385.2 L450.0,385.8 L450.5,385.6 L451.0,385.0 L451.5,385.5 L452.0,385.4 L452.5,384.4 L453.0,385.7 L453.5,385.7 L454.0,385.3 L454.5,384.9 L455.0,386.1 L455.5,385.6 L456.0,385.9 L456.5,386.1 L457.0,385.2 L457.5,385.8 L458.0,385.3 L458.5,385.4 L459.0,385.4 L459.5,385.4 L460.0,385.9 L460.5,385.5 L461.0,385.4 L461.5,385.3 L462.0,385.6 L462.5,385.0 L463.0,385.2 L463.5,385.4 L464.0,385.1 L464.5,385.3 L465.0,385.1 L465.5,386.3 L466.0,386.0 L466.5,385.6 L467.0,385.3 L467.5,386.3 L468.0,385.5 L468.5,385.3 L469.0,385.5 L469.5,385.5 L470.0,386.0 L470.5,385.3 L471.0,386.3 L471.5,384.9 L472.0,385.6 L472.5,384.8 L473.0,386.1 L473.5,385.1 L474.0,385.3 L474.5,385.7 L475.0,385.8 L475.5,384.8 L476.0,385.1 L476.5,384.6 L477.0,385.3 L477.5,385.2 L478.0,385.1 L478.5,384.9 L479.0,385.0 L479.5,384.8 L480.0,385.4 L480.5,385.8 L481.0,384.3 L481.5,385.1 L482.0,384.9 L482.5,385.3 L483.0,384.7 L483.5,385.0 L484.0,384.6 L484.5,385.4 L485.0,385.1 L485.5,384.9 L486.0,385.2 L486.5,384.9 L487.0,384.3 L487.5,385.2 L488.0,385.1 L488.5,384.8 L489.0,385.3 L489.5,385.4 L490.0,384.4 L490.5,384.5 L491.0,385.5 L491.5,385.4 L492.0,384.4 L492.5,384.2 L493.0,384.4 L493.5,384.4 L494.0,383.9 L494.5,384.6 L495.0,384.0 L495.5,384.0 L496.0,384.9 L496.5,384.1 L497.0,384.4 L497.5,384.6 L498.0,384.7 L498.5,384.1 L499.0,384.2 L499.5,383.8 L500.0,384.9 L500.5,384.3 L501.0,383.5 L501.5,383.9 L502.0,384.2 L502.5,384.0 L503.0,384.5 L503.5,384.2 L504.0,383.3 L504.5,383.4 L505.0,382.8 L505.5,383.4 L506.0,383.2 L506.5,384.2 L507.0,382.9 L507.5,381.8 L508.0,382.3 L508.5,382.5 L509.0,381.7 L509.5,381.7 L510.0,381.8 L510.5,381.9 L511.0,381.4 L511.5,380.8 L512.0,381.3 L512.5,380.4 L513.0,380.1 L513.5,379.4 L514.0,379.3 L514.5,379.5 L515.0,378.0 L515.5,378.2 L516.0,378.0 L516.5,376.8 L517.0,376.4 L517.5,374.9 L518.0,375.1 L518.5,374.0 L519.0,372.4 L519.5,370.1 L520.0,368.8 L520.5,367.9 L521.0,366.0 L521.5,362.8 L522.0,360.1 L522.5,355.5 L523.0,350.9 L523.5,345.1 L524.0,337.5 L524.2,333.5 L524.3,332.6 L524.4,330.6 L524.5,327.1 L524.5,326.3 L524.6,325.3 L524.7,322.2 L524.8,318.6 L524.9,316.9 L525.0,313.3 L525.0,311.9 L525.1,310.5 L525.2,305.7 L525.3,300.9 L525.4,296.6 L525.5,290.9 L525.5,289.3 L525.6,285.7 L525.7,278.9 L525.8,271.8 L525.9,264.8 L526.0,255.4 L526.0,252.4 L526.1,245.0 L526.2,233.3 L526.3,219.7 L526.4,204.2 L526.5,186.2 L526.5,180.1 L526.6,164.9 L526.7,139.6 L526.8,109.3 L526.9,72.5 L527.0,27.2 L527.0,11.6 L527.1,10.0 L527.2,10.0 L527.3,10.0 L527.4,10.0 L527.5,10.0 L527.5,10.0 L527.6,10.0 L527.7,10.0 L527.8,10.0 L527.9,10.0 L528.0,10.0 L528.0,10.0 L528.1,10.0 L528.2,10.0 L528.3,10.0 L528.4,10.0 L528.5,10.0 L528.5,10.0 L528.6,10.0 L528.7,10.0 L528.8,10.0 L528.9,10.0 L529.0,10.0 L529.0,10.0 L529.1,10.0 L529.2,10.0 L529.3,10.0 L529.4,23.2 L529.5,69.3 L529.5,81.3 L529.6,106.7 L529.7,137.5 L529.8,163.1 L529.9,184.6 L530.0,202.9 L530.0,207.9 L530.1,218.6 L530.2,232.1 L530.3,244.6 L530.4,254.2 L530.5,264.2 L530.5,265.5 L530.6,271.3 L530.7,278.0 L530.8,284.9 L530.9,291.1 L531.0,296.8 L531.0,297.3 L531.1,300.9 L531.2,305.1 L531.3,308.9 L531.4,312.4 L531.5,316.3 L531.5,316.5 L531.6,319.5 L531.7,322.3 L531.8,324.7 L531.9,327.0 L532.0,329.2 L532.0,331.3 L532.1,331.4 L532.5,340.6 L533.0,347.3 L533.5,352.4 L534.0,356.4 L534.5,361.0 L535.0,364.3 L535.5,365.5 L536.0,367.9 L536.5,370.3 L537.0,371.5 L537.5,373.6 L538.0,373.6 L538.5,375.1 L539.0,375.1 L539.5,377.4 L540.0,376.9 L540.5,376.8 L541.0,378.3 L541.5,378.8 L542.0,380.2 L542.5,379.6 L543.0,380.1 L543.5,380.7 L544.0,381.5 L544.5,381.0 L545.0,381.8 L545.5,381.8 L546.0,381.6 L546.5,382.0 L547.0,382.2 L547.5,381.9 L548.0,383.1 L548.5,382.0 L549.0,383.3 L549.5,383.4 L550.0,383.0 L550.5,382.8 L551.0,383.2 L551.5,383.6 L552.0,383.8 L552.5,383.7 L553.0,384.1 L553.5,383.5 L554.0,383.9 L554.5,383.2 L555.0,384.3 L555.5,384.1 L556.0,383.9 L556.5,384.6 L557.0,384.5 L557.5,382.9 L558.0,384.3 L558.5,383.6 L559.0,384.8 L559.5,385.5 L560.0,384.2 L560.5,384.5 L561.0,384.4 L561.5,384.7 L562.0,384.8 L562.5,385.1 L563.0,384.1 L563.5,385.3 L564.0,384.2 L564.5,384.8 L565.0,385.2 L565.5,385.0 L566.0,384.3 L566.5,384.4 L567.0,384.5 L567.5,384.7 L568.0,385.2 L568.5,384.1 L569.0,384.9 L569.5,385.0 L570.0,385.0 L570.5,384.9 L571.0,385.4 L571.5,384.9 L572.0,385.0 L572.5,384.8 L573.0,385.3 L573.5,383.6 L574.0,385.0 L574.5,384.2 L575.0,384.1 L575.5,383.6 L576.0,383.1 L576.5,383.6 L577.0,383.3 L577.5,383.7 L578.0,382.7 L578.5,384.0 L579.0,383.4 L579.5,383.2 L580.0,383.1 L580.5,383.2 L581.0,383.2 L581.5,383.6 L582.0,384.0 L582.5,384.1 L583.0,383.7 L583.5,384.3 L584.0,384.2 L584.5,384.7 L585.0,385.6 L585.5,385.1 L586.0,384.8 L586.5,384.2 L587.0,384.4 L587.5,384.3 L588.0,385.4 L588.5,384.8 L589.0,385.2 L589.5,384.9 L590.0,385.3 L590.5,385.9 L591.0,384.9 L591.5,385.1 L592.0,384.9 L592.5,385.7 L593.0,384.9 L593.5,384.8 L594.0,384.7 L594.5,384.7 L595.0,385.6 L595.5,386.5 L596.0,385.0 L596.5,385.8 L597.0,385.5 L597.5,384.9 L598.0,385.3 L598.5,385.3 L599.0,385.1 L599.5,386.3 L600.0,384.6 L600.5,385.6 L601.0,385.6 L601.5,385.2 L602.0,385.6 L602.5,385.9 L603.0,385.6 L603.5,385.7 L604.0,385.8 L604.5,384.6 L605.0,386.2 L605.5,386.6 L606.0,386.0 L606.5,386.0 L607.0,384.9 L607.5,385.5 L608.0,385.2 L608.5,385.3 L609.0,386.0 L609.5,385.2 L610.0,385.5 L610.5,384.7 L611.0,385.5 L611.5,385.6 L612.0,385.3 L612.5,385.3 L613.0,386.4 L613.5,385.0 L614.0,385.1 L614.5,385.2 L615.0,386.1 L615.5,386.5 L616.0,385.8 L616.5,385.3 L617.0,385.4 L617.5,386.1 L618.0,385.2 L618.5,386.3 L619.0,386.3 L619.5,385.7 L620.0,385.9 L620.5,386.0 L621.0,386.3 L621.5,385.2 L622.0,386.2 L622.5,385.5" stroke="#6262a2"/><path d="M90.5,311.2 L91.0,311.6 L91.5,311.5 L92.0,311.1 L92.5,310.9 L93.0,311.2 L93.5,312.3 L94.0,312.6 L94.5,312.0 L95.0,312.3 L95.5,311.5 L96.0,311.7 L96.5,311.9 L97.0,311.3 L97.5,311.4 L98.0,311.9 L98.5,311.7 L99.0,311.4 L99.5,312.1 L100.0,311.8 L100.5,312.4 L101.0,312.0 L101.5,311.9 L102.0,312.1 L102.5,312.0 L103.0,311.8 L103.5,311.9 L104.0,312.4 L104.5,312.4 L105.0,312.7 L105.5,311.4 L106.0,312.0 L106.5,312.0 L107.0,312.3 L107.5,312.0 L108.0,312.0 L108.5,312.6 L109.0,312.4 L109.5,311.8 L110.0,312.9 L110.5,312.8 L111.0,312.1 L111.5,312.8 L112.0,312.1 L112.5,312.9 L113.0,312.4 L113.5,312.1 L114.0,312.3 L114.5,312.2 L115.0,312.6 L115.5,312.6 L116.0,312.6 L116.5,312.3 L117.0,311.0 L117.5,312.7 L118.0,311.8 L118.5,312.8 L119.0,313.2 L119.5,312.8 L120.0,312.5 L120.5,312.6 L121.0,312.7 L121.5,312.5 L122.0,312.5 L122.5,312.4 L123.0,313.4 L123.5,312.8 L124.0,313.3 L124.5,312.8 L125.0,312.9 L125.5,312.8 L126.0,313.1 L126.5,313.3 L127.0,313.1 L127.5,312.7 L128.0,312.6 L128.5,313.7 L129.0,312.9 L129.5,312.9 L130.0,313.7 L130.5,313.5 L131.0,313.3 L131.5,312.9 L132.0,314.2 L132.5,313.3 L133.0,313.4 L133.5,313.1 L134.0,312.5 L134.5,312.6 L135.0,313.4 L135.5,313.4 L136.0,313.1 L136.5,312.7 L137.0,312.6 L137.5,313.1 L138.0,312.6 L138.5,313.7 L139.0,313.8 L139.5,314.6 L140.0,313.7 L140.5,313.1 L141.0,313.0 L141.5,311.8 L142.0,313.1 L142.5,313.3 L143.0,313.9 L143.5,313.7 L144.0,313.7 L144.5,313.6 L145.0,313.8 L145.5,314.1 L146.0,313.0 L146.5,313.3 L147.0,312.9 L147.5,314.3 L148.0,314.1 L148.5,313.9 L149.0,313.0 L149.5,313.7 L150.0,313.5 L150.5,313.7 L151.0,313.6 L151.5,313.9 L152.0,313.5 L152.5,314.1 L153.0,313.8 L153.5,313.6 L154.0,313.7 L154.5,313.5 L155.0,314.1 L155.5,313.6 L156.0,313.9 L156.5,313.6 L157.0,313.1 L157.5,314.2 L158.0,313.3 L158.5,314.1 L159.0,314.0 L159.5,313.1 L160.0,313.4 L160.5,313.6 L161.0,313.5 L161.5,313.4 L162.0,314.2 L162.5,313.8 L163.0,314.1 L163.5,313.7 L164.0,314.1 L164.5,313.6 L165.0,313.9 L165.5,314.2 L166.0,314.0 L166.5,313.8 L167.0,313.5 L167.5,314.1 L168.0,314.2 L168.5,313.9 L169.0,313.7 L169.5,314.3 L170.0,315.2 L170.5,313.9 L171.0,314.2 L171.5,314.3 L172.0,312.9 L172.5,314.2 L173.0,313.8 L173.5,314.8 L174.0,314.0 L174.5,313.8 L175.0,314.1 L175.5,314.2 L176.0,313.9 L176.5,314.2 L177.0,313.6 L177.5,314.1 L178.0,314.6 L178.5,315.1 L179.0,314.6 L179.5,314.4 L180.0,314.8 L180.5,314.7 L181.0,315.0 L181.5,314.8 L182.0,314.2 L182.5,314.4 L183.0,314.4 L183.5,314.4 L184.0,314.4 L184.5,314.0 L185.0,313.4 L185.5,314.0 L186.0,313.4 L186.5,314.4 L187.0,314.4 L187.5,313.6 L188.0,314.7 L188.5,314.8 L189.0,314.4 L189.5,315.1 L190.0,315.2 L190.5,313.9 L191.0,314.9 L191.5,314.6 L192.0,314.6 L192.5,314.9 L193.0,314.1 L193.5,314.2 L194.0,314.1 L194.5,314.1 L195.0,314.4 L195.5,313.8 L196.0,314.0 L196.5,314.7 L197.0,314.4 L197.5,314.6 L198.0,313.6 L198.5,314.1 L199.0,314.2 L199.5,314.5 L200.0,314.2 L200.5,314.9 L201.0,314.5 L201.5,314.5 L202.0,314.5 L202.5,314.8 L203.0,314.3 L203.5,315.0 L204.0,314.7 L204.5,314.6 L205.0,314.5 L205.5,314.7 L206.0,314.9 L206.5,314.9 L207.0,314.6 L207.5,314.8 L208.0,314.5 L208.5,315.0 L209.0,314.4 L209.5,313.5 L210.0,315.0 L210.5,314.4 L211.0,313.8 L211.5,314.2 L212.0,313.9 L212.5,315.2 L213.0,314.4 L213.5,313.4 L214.0,314.3 L214.5,313.8 L215.0,314.8 L215.5,313.4 L216.0,312.7 L216.5,313.6 L217.0,313.3 L217.5,313.1 L218.0,312.1 L218.5,313.0 L219.0,313.3 L219.5,311.3 L220.0,312.2 L220.5,310.8 L221.0,311.2 L221.4,309.5 L221.5,309.0 L221.5,309.5 L221.6,309.0 L221.7,308.2 L221.8,308.5 L221.9,307.6 L222.0,306.7 L222.0,308.4 L222.1,306.9 L222.2,306.4 L222.3,306.4 L222.4,305.1 L222.5,304.7 L222.5,305.0 L222.6,304.5 L222.7,304.2 L222.8,304.0 L222.9,302.6 L223.0,302.4 L223.0,302.3 L223.1,300.8 L223.2,300.5 L223.3,299.0 L223.4,298.9 L223.5,297.5 L223.5,297.3 L223.6,296.2 L223.7,294.9 L223.8,293.5 L223.9,292.0 L224.0,290.6 L224.0,290.4 L224.1,288.8 L224.2,287.0 L224.3,285.1 L224.4,283.2 L224.5,281.4 L224.5,281.2 L224.6,279.2 L224.7,277.3 L224.8,275.4 L224.9,273.6 L225.0,272.2 L225.0,272.1 L225.1,270.8 L225.2,269.8 L225.3,269.2 L225.4,269.0 L225.5,269.2 L225.5,269.2 L225.6,269.8 L225.7,270.7 L225.8,272.0 L225.9,273.6 L226.0,275.1 L226.0,275.3 L226.1,277.2 L226.2,279.2 L226.3,281.1 L226.4,283.1 L226.5,284.9 L226.5,285.1 L226.6,286.9 L226.7,288.7 L226.8,290.4 L226.9,292.0 L227.0,293.3 L227.0,293.5 L227.1,294.9 L227.2,296.1 L227.3,297.3 L227.4,298.4 L227.5,299.6 L227.5,299.5 L227.6,299.8 L227.7,301.3 L227.8,301.7 L227.9,303.2 L228.0,303.4 L228.0,303.2 L228.1,304.6 L228.2,305.1 L228.3,305.0 L228.4,306.3 L228.5,306.1 L228.5,306.2 L228.6,306.8 L228.7,306.8 L228.8,307.3 L228.9,307.8 L229.0,308.9 L229.0,308.9 L229.1,308.4 L229.2,309.6 L229.3,309.1 L229.5,309.8 L230.0,311.0 L230.5,311.5 L231.0,313.1 L231.5,312.5 L232.0,312.3 L232.5,313.7 L233.0,313.2 L233.5,313.4 L234.0,312.4 L234.5,314.3 L235.0,314.4 L235.5,314.5 L236.0,314.7 L236.5,315.1 L237.0,314.4 L237.5,314.9 L238.0,314.2 L238.5,314.4 L239.0,315.1 L239.5,314.8 L240.0,314.1 L240.5,314.9 L241.0,314.7 L241.5,314.4 L242.0,315.0 L242.5,314.7 L243.0,314.2 L243.5,314.4 L244.0,315.7 L244.5,314.2 L245.0,315.0 L245.5,315.2 L246.0,315.3 L246.5,314.4 L247.0,314.9 L247.5,315.1 L248.0,315.4 L248.5,314.8 L249.0,314.5 L249.5,315.5 L250.0,315.6 L250.5,315.3 L251.0,314.8 L251.5,315.3 L252.0,315.2 L252.5,315.5 L253.0,314.6 L253.5,315.2 L254.0,315.1 L254.5,314.7 L255.0,315.3 L255.5,315.2 L256.0,315.0 L256.5,315.4 L257.0,314.6 L257.5,315.2 L258.0,315.4 L258.5,315.4 L259.0,315.7 L259.5,314.7 L260.0,314.6 L260.5,315.4 L261.0,315.5 L261.5,316.2 L262.0,315.6 L262.5,314.9 L263.0,315.7 L263.5,314.9 L264.0,314.7 L264.5,316.5 L265.0,315.5 L265.5,315.7 L266.0,315.6 L266.5,316.2 L267.0,315.5 L267.5,315.9 L268.0,314.9 L268.5,314.7 L269.0,316.0 L269.5,316.0 L270.0,315.6 L270.5,315.5 L271.0,315.5 L271.5,315.1 L272.0,316.1 L272.5,315.7 L273.0,315.6 L273.5,315.6 L274.0,315.9 L274.5,315.7 L275.0,315.8 L275.5,314.9 L276.0,315.7 L276.5,316.4 L277.0,315.2 L277.5,315.4 L278.0,315.9 L278.5,315.9 L279.0,315.7 L279.5,314.7 L280.0,315.7 L280.5,314.9 L281.0,315.1 L281.5,315.7 L282.0,315.4 L282.5,315.9 L283.0,316.9 L283.5,315.9 L284.0,315.8 L284.5,315.1 L285.0,315.2 L285.5,315.0 L286.0,315.3 L286.5,315.0 L287.0,315.2 L287.5,315.4 L288.0,315.1 L288.5,314.9 L289.0,314.9 L289.5,315.8 L290.0,315.6 L290.5,316.0 L291.0,316.0 L291.5,315.4 L292.0,315.9 L292.5,314.9 L293.0,316.6 L293.5,316.1 L294.0,315.5 L294.5,315.1 L295.0,315.8 L295.5,314.7 L296.0,315.2 L296.5,315.9 L297.0,315.6 L297.5,315.4 L298.0,316.0 L298.5,315.1 L299.0,315.7 L299.5,315.4 L300.0,315.2 L300.5,315.8 L301.0,315.2 L301.5,316.5 L302.0,315.4 L302.5,316.5 L303.0,315.1 L303.5,315.9 L304.0,315.1 L304.5,315.0 L305.0,315.7 L305.5,316.0 L306.0,315.1 L306.5,316.2 L307.0,315.3 L307.5,315.7 L308.0,315.8 L308.5,315.9 L309.0,314.9 L309.5,316.4 L310.0,315.9 L310.5,315.5 L311.0,315.2 L311.5,314.9 L312.0,315.1 L312.5,315.9 L313.0,315.5 L313.5,315.2 L314.0,315.5 L314.5,316.4 L315.0,315.6 L315.5,315.4 L316.0,316.3 L316.5,315.9 L317.0,315.7 L317.5,315.4 L318.0,315.0 L318.5,315.2 L319.0,315.5 L319.5,315.6 L320.0,315.9 L320.5,316.0 L321.0,315.8 L321.5,315.8 L322.0,315.3 L322.5,314.8 L323.0,315.5 L323.5,315.3 L324.0,315.5 L324.5,315.6 L325.0,315.2 L325.5,315.3 L326.0,315.7 L326.5,315.8 L327.0,315.5 L327.5,316.0 L328.0,315.7 L328.5,315.3 L329.0,315.8 L329.5,316.6 L330.0,315.5 L330.5,316.3 L331.0,316.4 L331.5,316.5 L332.0,315.4 L332.5,316.7 L333.0,315.8 L333.5,315.7 L334.0,315.7 L334.5,316.1 L335.0,315.8 L335.5,315.7 L336.0,316.4 L336.5,315.5 L337.0,315.3 L337.5,316.2 L338.0,316.1 L338.5,316.3 L339.0,315.3 L339.5,316.3 L340.0,316.0 L340.5,316.6 L341.0,315.3 L341.5,315.9 L342.0,315.7 L342.5,315.1 L343.0,315.5 L343.5,316.3 L344.0,315.6 L344.5,315.5 L345.0,316.2 L345.5,316.3 L346.0,316.3 L346.5,315.5 L347.0,315.8 L347.5,316.3 L348.0,315.6 L348.5,315.5 L349.0,316.2 L349.5,316.6 L350.0,315.3 L350.5,314.7 L351.0,315.2 L351.5,315.4 L352.0,315.8 L352.5,316.1 L353.0,315.8 L353.5,315.6 L354.0,315.9 L354.5,315.4 L355.0,315.9 L355.5,315.6 L356.0,317.1 L356.5,316.2 L357.0,315.5 L357.5,315.4 L358.0,315.7 L358.5,315.1 L359.0,315.6 L359.5,315.6 L360.0,316.3 L360.5,315.7 L361.0,315.5 L361.5,315.3 L362.0,315.4 L362.5,315.9 L363.0,315.8 L363.5,316.4 L364.0,315.6 L364.5,316.4 L365.0,316.0 L365.5,315.9 L366.0,315.0 L366.5,315.3 L367.0,316.2 L367.5,316.5 L368.0,316.0 L368.5,316.3 L369.0,315.7 L369.5,315.7 L370.0,315.6 L370.5,316.4 L371.0,316.1 L371.5,315.8 L372.0,315.8 L372.5,316.2 L373.0,316.1 L373.5,315.6 L374.0,316.7 L374.5,316.0 L375.0,315.9 L375.5,316.6 L376.0,316.4 L376.5,315.9 L377.0,316.2 L377.5,315.5 L378.0,315.7 L378.5,314.9 L379.0,316.5 L379.5,315.1 L380.0,316.3 L380.5,315.6 L381.0,315.5 L381.5,315.9 L382.0,316.1 L382.5,316.2 L383.0,316.7 L383.5,316.1 L384.0,316.3 L384.5,315.7 L385.0,316.3 L385.5,316.0 L386.0,315.7 L386.5,315.9 L387.0,315.9 L387.5,316.0 L388.0,316.1 L388.5,315.7 L389.0,315.6 L389.5,316.3 L390.0,315.2 L390.5,315.7 L391.0,316.7 L391.5,314.8 L392.0,315.7 L392.5,316.3 L393.0,315.2 L393.5,317.1 L394.0,314.8 L394.5,316.6 L395.0,316.7 L395.5,316.4 L396.0,315.9 L396.5,316.1 L397.0,315.6 L397.5,316.3 L398.0,315.5 L398.5,315.9 L399.0,316.4 L399.5,315.5 L400.0,315.8 L400.5,316.1 L401.0,315.4 L401.5,316.5 L402.0,316.1 L402.5,315.3 L403.0,316.0 L403.5,315.6 L404.0,315.7 L404.5,316.0 L405.0,315.7 L405.5,316.4 L406.0,315.7 L406.5,316.4 L407.0,316.0 L407.5,316.4 L408.0,315.8 L408.5,315.8 L409.0,315.5 L409.5,316.3 L410.0,316.4 L410.5,317.0 L411.0,316.6 L411.5,316.1 L412.0,315.9 L412.5,316.2 L413.0,316.0 L413.5,316.7 L414.0,316.4 L414.5,315.6 L415.0,315.7 L415.5,316.6 L416.0,316.2 L416.5,315.9 L417.0,316.5 L417.5,315.8 L418.0,315.9 L418.5,315.8 L419.0,315.1 L419.5,316.4 L420.0,315.5 L420.5,315.8 L421.0,315.7 L421.5,316.3 L422.0,316.0 L422.5,316.0 L423.0,315.3 L423.5,316.0 L424.0,315.4 L424.5,316.2 L425.0,316.2 L425.5,316.0 L426.0,316.9 L426.5,316.3 L427.0,316.3 L427.5,316.1 L428.0,315.9 L428.5,316.5 L429.0,316.5 L429.5,315.4 L430.0,316.5 L430.5,316.3 L431.0,316.5 L431.5,316.2 L432.0,315.5 L432.5,315.5 L433.0,316.9 L433.5,316.1 L434.0,315.4 L434.5,316.2 L435.0,315.9 L435.5,315.2 L436.0,315.0 L436.5,315.3 L437.0,316.2 L437.5,316.0 L438.0,315.9 L438.5,316.2 L439.0,316.3 L439.5,315.1 L440.0,315.9 L440.5,315.7 L441.0,315.5 L441.5,315.8 L442.0,316.0 L442.5,315.9 L443.0,315.4 L443.5,315.8 L444.0,316.9 L444.5,315.6 L445.0,315.3 L445.5,316.2 L446.0,316.3 L446.5,316.2 L447.0,315.5 L447.5,316.5 L448.0,315.7 L448.5,315.5 L449.0,315.8 L449.5,316.0 L450.0,316.4 L450.5,316.3 L451.0,316.0 L451.5,316.5 L452.0,316.1 L452.5,316.4 L453.0,315.4 L453.5,315.3 L454.0,316.4 L454.5,315.4 L455.0,315.9 L455.5,316.0 L456.0,315.8 L456.5,315.8 L457.0,316.7 L457.5,314.9 L458.0,316.4 L458.5,317.1 L459.0,316.0 L459.5,316.0 L460.0,316.4 L460.5,316.9 L461.0,315.5 L461.5,316.1 L462.0,315.9 L462.5,316.3 L463.0,316.1 L463.5,316.3 L464.0,315.8 L464.5,316.1 L465.0,315.7 L465.5,315.7 L466.0,316.0 L466.5,316.0 L467.0,315.5 L467.5,316.7 L468.0,316.0 L468.5,315.4 L469.0,316.5 L469.5,315.7 L470.0,316.2 L470.5,316.0 L471.0,316.1 L471.5,316.1 L472.0,315.8 L472.5,316.0 L473.0,316.9 L473.5,315.0 L474.0,316.0 L474.5,316.2 L475.0,315.5 L475.5,315.4 L476.0,317.0 L476.5,315.8 L477.0,316.9 L477.5,316.2 L478.0,316.0 L478.5,316.2 L479.0,316.3 L479.5,316.5 L480.0,316.2 L480.5,316.1 L481.0,316.1 L481.5,316.6 L482.0,316.3 L482.5,315.5 L483.0,315.7 L483.5,316.1 L484.0,315.7 L484.5,315.8 L485.0,315.5 L485.5,315.8 L486.0,316.1 L486.5,316.4 L487.0,315.9 L487.5,316.9 L488.0,315.9 L488.5,317.4 L489.0,316.4 L489.5,316.1 L490.0,315.7 L490.5,314.6 L491.0,315.8 L491.5,316.0 L492.0,316.8 L492.5,315.3 L493.0,316.7 L493.5,315.8 L494.0,316.2 L494.5,314.7 L495.0,315.9 L495.5,315.7 L496.0,316.1 L496.5,315.9 L497.0,315.3 L497.5,316.2 L498.0,316.1 L498.5,316.1 L499.0,316.2 L499.5,316.3 L500.0,315.7 L500.5,315.1 L501.0,315.1 L501.5,316.3 L502.0,316.0 L502.5,315.7 L503.0,315.5 L503.5,315.7 L504.0,315.6 L504.5,315.5 L505.0,315.3 L505.5,316.5 L506.0,315.6 L506.5,315.2 L507.0,314.9 L507.5,315.1 L508.0,315.7 L508.5,315.7 L509.0,315.2 L509.5,315.3 L510.0,315.1 L510.5,314.7 L511.0,315.7 L511.5,315.3 L512.0,316.2 L512.5,314.6 L513.0,314.8 L513.5,315.2 L514.0,314.6 L514.5,314.0 L515.0,314.1 L515.5,314.5 L516.0,314.5 L516.5,314.1 L517.0,314.5 L517.5,314.3 L518.0,313.8 L518.5,313.5 L519.0,313.1 L519.5,313.2 L520.0,313.1 L520.5,312.4 L521.0,312.2 L521.5,311.4 L522.0,310.4 L522.5,310.0 L523.0,310.2 L523.5,309.3 L524.0,309.0 L524.2,308.0 L524.3,308.2 L524.4,308.2 L524.5,307.8 L524.5,307.0 L524.6,307.1 L524.7,307.0 L524.8,306.3 L524.9,306.7 L525.0,306.7 L525.0,306.0 L525.1,306.9 L525.2,305.7 L525.3,305.4 L525.4,305.2 L525.5,304.7 L525.5,305.1 L525.6,304.7 L525.7,305.1 L525.8,304.3 L525.9,304.0 L526.0,303.2 L526.0,302.6 L526.1,302.9 L526.2,302.1 L526.3,302.1 L526.4,301.5 L526.5,301.0 L526.5,300.8 L526.6,300.4 L526.7,299.7 L526.8,298.8 L526.9,297.9 L527.0,296.8 L527.0,296.5 L527.1,295.6 L527.2,294.1 L527.3,292.3 L527.4,290.1 L527.5,287.6 L527.5,286.7 L527.6,284.5 L527.7,280.8 L527.8,276.7 L527.9,272.4 L528.0,268.3 L528.0,267.3 L528.1,265.3 L528.2,264.2 L528.3,265.2 L528.4,268.0 L528.5,272.0 L528.5,273.3 L528.6,276.4 L528.7,280.5 L528.8,284.2 L528.9,287.3 L529.0,290.0 L529.0,290.7 L529.1,292.1 L529.2,294.0 L529.3,295.5 L529.4,296.8 L529.5,297.8 L529.5,298.1 L529.6,298.8 L529.7,299.6 L529.8,300.3 L529.9,300.9 L530.0,301.5 L530.0,301.7 L530.1,302.0 L530.2,302.5 L530.3,303.3 L530.4,303.3 L530.5,304.4 L530.5,304.1 L530.6,304.4 L530.7,304.5 L530.8,304.8 L530.9,305.3 L531.0,305.7 L531.0,305.0 L531.1,305.7 L531.2,307.0 L531.3,306.0 L531.4,306.2 L531.5,306.2 L531.5,305.9 L531.6,307.3 L531.7,307.0 L531.8,307.3 L531.9,308.2 L532.0,308.7 L532.0,307.2 L532.1,308.2 L532.5,308.8 L533.0,309.5 L533.5,310.2 L534.0,310.6 L534.5,311.9 L535.0,311.9 L535.5,312.2 L536.0,313.0 L536.5,313.2 L537.0,313.3 L537.5,313.5 L538.0,314.3 L538.5,314.0 L539.0,313.9 L539.5,313.7 L540.0,314.1 L540.5,313.9 L541.0,314.5 L541.5,314.7 L542.0,313.8 L542.5,314.8 L543.0,315.1 L543.5,315.0 L544.0,314.6 L544.5,315.6 L545.0,314.8 L545.5,314.6 L546.0,314.7 L546.5,315.3 L547.0,315.8 L547.5,315.9 L548.0,315.5 L548.5,314.9 L549.0,315.2 L549.5,315.1 L550.0,315.4 L550.5,314.7 L551.0,315.6 L551.5,315.9 L552.0,315.5 L552.5,315.8 L553.0,315.2 L553.5,315.0 L554.0,315.4 L554.5,316.2 L555.0,316.2 L555.5,315.5 L556.0,316.3 L556.5,315.6 L557.0,316.4 L557.5,316.0 L558.0,315.6 L558.5,316.1 L559.0,315.4 L559.5,315.4 L560.0,315.1 L560.5,315.9 L561.0,315.8 L561.5,315.8 L562.0,315.6 L562.5,316.5 L563.0,315.6 L563.5,315.5 L564.0,316.4 L564.5,316.4 L565.0,316.0 L565.5,315.0 L566.0,315.5 L566.5,316.1 L567.0,315.8 L567.5,316.5 L568.0,315.1 L568.5,316.0 L569.0,315.4 L569.5,316.3 L570.0,315.6 L570.5,316.1 L571.0,315.3 L571.5,314.9 L572.0,315.0 L572.5,315.2 L573.0,315.0 L573.5,315.9 L574.0,315.9 L574.5,315.3 L575.0,314.6 L575.5,314.9 L576.0,314.5 L576.5,315.3 L577.0,314.6 L577.5,314.5 L578.0,314.0 L578.5,313.2 L579.0,313.7 L579.5,313.6 L580.0,314.3 L580.5,314.3 L581.0,314.1 L581.5,314.4 L582.0,315.5 L582.5,314.5 L583.0,314.7 L583.5,315.1 L584.0,315.0 L584.5,315.2 L585.0,315.7 L585.5,316.3 L586.0,314.8 L586.5,315.6 L587.0,315.7 L587.5,315.7 L588.0,315.7 L588.5,315.6 L589.0,316.3 L589.5,315.6 L590.0,315.8 L590.5,315.9 L591.0,316.0 L591.5,315.8 L592.0,316.4 L592.5,315.9 L593.0,316.0 L593.5,316.0 L594.0,315.5 L594.5,315.6 L595.0,315.5 L595.5,316.1 L596.0,315.7 L596.5,315.5 L597.0,316.1 L597.5,316.3 L598.0,315.3 L598.5,316.8 L599.0,316.1 L599.5,316.0 L600.0,316.5 L600.5,316.1 L601.0,315.8 L601.5,317.1 L602.0,315.6 L602.5,316.0 L603.0,316.5 L603.5,315.6 L604.0,316.0 L604.5,316.3 L605.0,317.2 L605.5,315.7 L606.0,316.1 L606.5,316.4 L607.0,316.1 L607.5,315.6 L608.0,316.3 L608.5,316.2 L609.0,316.3 L609.5,316.6 L610.0,316.6 L610.5,316.3 L611.0,316.3 L611.5,315.6 L612.0,316.1 L612.5,316.2 L613.0,315.9 L613.5,316.2 L614.0,315.8 L614.5,316.8 L615.0,317.1 L615.5,316.0 L616.0,316.3 L616.5,316.0 L617.0,316.7 L617.5,316.3 L618.0,316.2 L618.5,316.0 L619.0,316.2 L619.5,315.7 L620.0,316.4 L620.5,315.8 L621.0,316.4 L621.5,316.2 L622.0,316.6 L622.5,316.1" stroke="#0a9a9a"/><path d="M90.5,530.6 L91.0,529.7 L91.5,530.4 L92.0,530.1 L92.5,530.3 L93.0,530.2 L93.5,530.6 L94.0,529.3 L94.5,530.4 L95.0,529.6 L95.5,530.8 L96.0,529.4 L96.5,529.9 L97.0,529.6 L97.5,531.1 L98.0,529.8 L98.5,530.5 L99.0,530.2 L99.5,529.6 L100.0,530.3 L100.5,530.8 L101.0,530.4 L101.5,530.9 L102.0,530.4 L102.5,530.6 L103.0,530.4 L103.5,530.7 L104.0,531.5 L104.5,530.8 L105.0,530.7 L105.5,530.4 L106.0,530.3 L106.5,531.3 L107.0,530.2 L107.5,530.3 L108.0,530.7 L108.5,530.6 L109.0,531.7 L109.5,529.7 L110.0,531.0 L110.5,531.1 L111.0,530.3 L111.5,530.6 L112.0,531.1 L112.5,531.6 L113.0,530.5 L113.5,530.2 L114.0,531.4 L114.5,531.6 L115.0,530.8 L115.5,530.0 L116.0,531.6 L116.5,530.9 L117.0,531.5 L117.5,531.0 L118.0,530.9 L118.5,530.9 L119.0,531.7 L119.5,531.7 L120.0,530.1 L120.5,530.7 L121.0,531.9 L121.5,531.0 L122.0,530.6 L122.5,531.2 L123.0,531.1 L123.5,531.2 L124.0,531.0 L124.5,531.1 L125.0,531.0 L125.5,531.4 L126.0,530.9 L126.5,531.2 L127.0,531.2 L127.5,531.9 L128.0,531.5 L128.5,531.3 L129.0,531.6 L129.5,531.6 L130.0,531.9 L130.5,531.6 L131.0,532.2 L131.5,532.0 L132.0,531.4 L132.5,531.3 L133.0,531.9 L133.5,531.7 L134.0,531.4 L134.5,530.8 L135.0,530.7 L135.5,531.7 L136.0,531.9 L136.5,531.9 L137.0,531.0 L137.5,532.0 L138.0,531.3 L138.5,531.8 L139.0,531.8 L139.5,531.3 L140.0,531.4 L140.5,530.7 L141.0,531.2 L141.5,530.9 L142.0,531.9 L142.5,531.7 L143.0,532.1 L143.5,531.9 L144.0,531.4 L144.5,531.9 L145.0,531.6 L145.5,532.0 L146.0,531.9 L146.5,531.3 L147.0,531.8 L147.5,531.8 L148.0,531.7 L148.5,532.2 L149.0,532.6 L149.5,531.7 L150.0,531.7 L150.5,530.9 L151.0,531.8 L151.5,531.7 L152.0,530.9 L152.5,532.0 L153.0,532.2 L153.5,531.6 L154.0,531.8 L154.5,531.5 L155.0,532.3 L155.5,531.3 L156.0,531.8 L156.5,532.9 L157.0,532.0 L157.5,532.2 L158.0,531.9 L158.5,531.5 L159.0,532.0 L159.5,532.2 L160.0,531.6 L160.5,532.2 L161.0,532.6 L161.5,532.6 L162.0,531.4 L162.5,531.7 L163.0,531.4 L163.5,532.6 L164.0,532.4 L164.5,532.5 L165.0,531.8 L165.5,531.6 L166.0,532.2 L166.5,532.2 L167.0,531.8 L167.5,532.3 L168.0,532.5 L168.5,532.3 L169.0,531.7 L169.5,531.3 L170.0,532.1 L170.5,532.3 L171.0,532.1 L171.5,532.1 L172.0,532.0 L172.5,532.6 L173.0,532.3 L173.5,532.3 L174.0,531.9 L174.5,532.0 L175.0,532.4 L175.5,531.9 L176.0,531.8 L176.5,532.2 L177.0,532.9 L177.5,532.4 L178.0,533.0 L178.5,532.3 L179.0,532.2 L179.5,531.8 L180.0,532.1 L180.5,533.0 L181.0,532.6 L181.5,532.7 L182.0,532.7 L182.5,532.4 L183.0,532.3 L183.5,532.5 L184.0,532.7 L184.5,532.7 L185.0,532.7 L185.5,532.5 L186.0,532.1 L186.5,532.4 L187.0,532.1 L187.5,532.9 L188.0,531.6 L188.5,532.4 L189.0,533.6 L189.5,532.4 L190.0,532.0 L190.5,532.5 L191.0,533.1 L191.5,532.5 L192.0,532.8 L192.5,532.6 L193.0,532.4 L193.5,534.0 L194.0,532.6 L194.5,532.3 L195.0,532.4 L195.5,532.8 L196.0,532.8 L196.5,532.9 L197.0,532.7 L197.5,532.0 L198.0,532.8 L198.5,532.5 L199.0,532.5 L199.5,532.0 L200.0,532.4 L200.5,532.3 L201.0,532.6 L201.5,532.0 L202.0,532.7 L202.5,532.7 L203.0,532.1 L203.5,532.4 L204.0,532.3 L204.5,533.1 L205.0,531.5 L205.5,532.5 L206.0,531.9 L206.5,532.5 L207.0,533.0 L207.5,532.4 L208.0,532.7 L208.5,532.3 L209.0,533.5 L209.5,533.0 L210.0,533.1 L210.5,532.0 L211.0,532.1 L211.5,533.1 L212.0,532.5 L212.5,532.5 L213.0,532.7 L213.5,532.0 L214.0,532.9 L214.5,532.6 L215.0,532.7 L215.5,532.2 L216.0,532.7 L216.5,532.1 L217.0,532.8 L217.5,532.9 L218.0,532.7 L218.5,532.5 L219.0,532.5 L219.5,530.9 L220.0,532.5 L220.5,531.9 L221.0,531.9 L221.5,531.6 L222.0,530.9 L222.5,531.1 L223.0,531.4 L223.5,531.4 L224.0,530.1 L224.5,529.4 L225.0,529.8 L225.2,528.5 L225.2,529.6 L225.3,528.5 L225.4,527.9 L225.5,528.6 L225.6,528.8 L225.7,527.1 L225.8,528.2 L225.8,527.1 L225.9,527.6 L226.0,526.6 L226.1,525.9 L226.2,526.5 L226.2,526.3 L226.3,526.4 L226.4,525.8 L226.5,525.1 L226.6,524.4 L226.7,523.7 L226.8,523.3 L226.8,522.4 L226.9,522.0 L227.0,520.6 L227.1,521.4 L227.2,520.5 L227.2,519.7 L227.3,518.7 L227.4,517.7 L227.5,517.2 L227.6,516.6 L227.7,515.4 L227.8,514.1 L227.8,512.7 L227.9,511.2 L228.0,510.4 L228.1,509.6 L228.2,507.9 L228.2,506.2 L228.3,504.5 L228.4,502.7 L228.5,501.8 L228.6,501.0 L228.7,499.4 L228.8,498.0 L228.8,496.8 L228.9,495.8 L229.0,495.5 L229.1,495.2 L229.2,495.0 L229.2,495.2 L229.3,495.8 L229.4,496.7 L229.5,497.2 L229.6,497.9 L229.7,499.3 L229.8,500.9 L229.8,502.6 L229.9,504.3 L230.0,505.2 L230.1,506.1 L230.2,507.8 L230.2,509.5 L230.3,511.1 L230.4,512.6 L230.5,513.3 L230.6,514.0 L230.7,515.3 L230.8,516.5 L230.8,517.7 L230.9,518.7 L231.0,519.2 L231.1,519.6 L231.2,520.5 L231.2,522.5 L231.3,522.4 L231.4,522.5 L231.5,523.3 L231.6,522.8 L231.7,523.7 L231.8,523.7 L231.8,525.6 L231.9,525.7 L232.0,525.1 L232.1,525.8 L232.2,526.7 L232.2,526.8 L232.3,527.1 L232.4,526.9 L232.5,527.1 L232.6,527.6 L232.7,528.2 L232.8,527.7 L232.8,527.8 L232.9,529.0 L233.0,528.2 L233.1,529.2 L233.5,529.6 L234.0,530.6 L234.5,531.4 L235.0,531.3 L235.5,531.7 L236.0,531.2 L236.5,531.5 L237.0,532.2 L237.5,532.8 L238.0,532.8 L238.5,533.3 L239.0,532.5 L239.5,532.5 L240.0,533.0 L240.5,532.6 L241.0,532.6 L241.5,532.2 L242.0,533.2 L242.5,532.3 L243.0,533.0 L243.5,532.2 L244.0,533.3 L244.5,532.4 L245.0,533.3 L245.5,532.2 L246.0,532.7 L246.5,533.5 L247.0,532.6 L247.5,533.0 L248.0,532.8 L248.5,532.0 L249.0,533.2 L249.5,533.2 L250.0,532.6 L250.5,533.3 L251.0,532.7 L251.5,532.6 L252.0,533.1 L252.5,532.8 L253.0,534.1 L253.5,532.4 L254.0,533.5 L254.5,533.6 L255.0,532.3 L255.5,532.4 L256.0,533.4 L256.5,533.0 L257.0,533.4 L257.5,533.7 L258.0,533.0 L258.5,532.7 L259.0,532.0 L259.5,533.3 L260.0,532.8 L260.5,533.4 L261.0,533.3 L261.5,532.6 L262.0,534.0 L262.5,533.7 L263.0,533.6 L263.5,532.7 L264.0,533.1 L264.5,533.0 L265.0,533.1 L265.5,532.8 L266.0,533.5 L266.5,533.4 L267.0,533.5 L267.5,533.1 L268.0,533.9 L268.5,533.4 L269.0,532.1 L269.5,533.0 L270.0,533.3 L270.5,533.8 L271.0,533.2 L271.5,533.2 L272.0,533.0 L272.5,533.6 L273.0,533.1 L273.5,533.1 L274.0,533.0 L274.5,533.6 L275.0,533.1 L275.5,532.6 L276.0,533.6 L276.5,533.1 L277.0,533.5 L277.5,533.5 L278.0,533.9 L278.5,533.9 L279.0,533.1 L279.5,533.3 L280.0,532.8 L280.5,534.2 L281.0,533.6 L281.5,534.0 L282.0,533.3 L282.5,532.5 L283.0,534.1 L283.5,533.5 L284.0,533.5 L284.5,533.5 L285.0,533.7 L285.5,533.7 L286.0,532.7 L286.5,533.9 L287.0,533.2 L287.5,533.2 L288.0,534.2 L288.5,533.9 L289.0,533.3 L289.5,532.6 L290.0,533.5 L290.5,533.7 L291.0,533.4 L291.5,532.9 L292.0,533.1 L292.5,532.9 L293.0,533.6 L293.5,533.8 L294.0,533.9 L294.5,533.2 L295.0,533.6 L295.5,533.7 L296.0,533.3 L296.5,533.4 L297.0,534.5 L297.5,533.6 L298.0,533.9 L298.5,533.3 L299.0,533.5 L299.5,532.7 L300.0,533.5 L300.5,534.1 L301.0,534.5 L301.5,534.1 L302.0,533.8 L302.5,533.6 L303.0,533.3 L303.5,533.5 L304.0,533.8 L304.5,533.2 L305.0,534.0 L305.5,533.1 L306.0,532.7 L306.5,533.1 L307.0,532.8 L307.5,532.9 L308.0,534.1 L308.5,533.5 L309.0,533.7 L309.5,534.1 L310.0,534.1 L310.5,533.3 L311.0,534.2 L311.5,533.7 L312.0,533.6 L312.5,533.8 L313.0,532.9 L313.5,533.2 L314.0,533.5 L314.5,533.9 L315.0,533.4 L315.5,533.5 L316.0,534.0 L316.5,534.2 L317.0,533.9 L317.5,534.2 L318.0,533.4 L318.5,533.5 L319.0,533.7 L319.5,533.5 L320.0,533.4 L320.5,534.4 L321.0,533.5 L321.5,533.2 L322.0,533.8 L322.5,534.4 L323.0,533.7 L323.5,534.2 L324.0,533.4 L324.5,533.4 L325.0,533.3 L325.5,533.6 L326.0,534.5 L326.5,533.1 L327.0,534.4 L327.5,533.2 L328.0,533.5 L328.5,534.0 L329.0,533.9 L329.5,533.8 L330.0,532.9 L330.5,533.8 L331.0,533.2 L331.5,534.8 L332.0,533.6 L332.5,533.7 L333.0,533.1 L333.5,533.4 L334.0,533.1 L334.5,534.1 L335.0,533.5 L335.5,533.9 L336.0,533.4 L336.5,533.4 L337.0,534.2 L337.5,533.2 L338.0,532.9 L338.5,533.9 L339.0,533.2 L339.5,533.5 L340.0,534.1 L340.5,533.3 L341.0,534.1 L341.5,533.4 L342.0,534.4 L342.5,534.3 L343.0,533.5 L343.5,533.6 L344.0,533.3 L344.5,533.8 L345.0,534.2 L345.5,533.0 L346.0,534.1 L346.5,533.1 L347.0,533.3 L347.5,532.9 L348.0,534.6 L348.5,533.7 L349.0,533.8 L349.5,533.4 L350.0,534.2 L350.5,532.8 L351.0,533.7 L351.5,534.7 L352.0,533.5 L352.5,533.7 L353.0,534.0 L353.5,533.4 L354.0,533.7 L354.5,534.2 L355.0,533.8 L355.5,533.9 L356.0,533.6 L356.5,533.9 L357.0,533.8 L357.5,534.4 L358.0,534.1 L358.5,533.6 L359.0,532.6 L359.5,534.1 L360.0,534.1 L360.5,533.3 L361.0,532.8 L361.5,533.2 L362.0,534.2 L362.5,533.3 L363.0,533.5 L363.5,533.8 L364.0,534.3 L364.5,533.7 L365.0,533.7 L365.5,533.5 L366.0,534.5 L366.5,534.2 L367.0,533.7 L367.5,533.1 L368.0,533.4 L368.5,534.0 L369.0,533.4 L369.5,534.2 L370.0,533.9 L370.5,533.9 L371.0,534.1 L371.5,534.0 L372.0,533.4 L372.5,533.6 L373.0,534.8 L373.5,533.2 L374.0,533.6 L374.5,534.2 L375.0,533.7 L375.5,533.4 L376.0,533.2 L376.5,534.0 L377.0,534.2 L377.5,534.4 L378.0,533.8 L378.5,534.2 L379.0,533.3 L379.5,533.9 L380.0,533.5 L380.5,533.9 L381.0,534.1 L381.5,534.3 L382.0,533.3 L382.5,534.4 L383.0,533.6 L383.5,533.3 L384.0,533.7 L384.5,533.1 L385.0,533.8 L385.5,533.9 L386.0,533.7 L386.5,534.0 L387.0,533.7 L387.5,533.8 L388.0,533.1 L388.5,533.8 L389.0,533.4 L389.5,533.6 L390.0,533.8 L390.5,533.9 L391.0,533.1 L391.5,533.1 L392.0,533.7 L392.5,534.0 L393.0,534.0 L393.5,534.2 L394.0,534.4 L394.5,534.0 L395.0,533.8 L395.5,533.3 L396.0,533.4 L396.5,533.6 L397.0,533.9 L397.5,533.9 L398.0,533.8 L398.5,533.7 L399.0,534.1 L399.5,533.9 L400.0,533.9 L400.5,534.0 L401.0,533.6 L401.5,533.4 L402.0,534.0 L402.5,534.0 L403.0,533.7 L403.5,533.6 L404.0,534.8 L404.5,533.5 L405.0,533.7 L405.5,533.9 L406.0,533.3 L406.5,533.9 L407.0,534.6 L407.5,534.2 L408.0,534.1 L408.5,534.1 L409.0,533.9 L409.5,534.3 L410.0,533.8 L410.5,533.6 L411.0,533.9 L411.5,534.2 L412.0,534.0 L412.5,534.1 L413.0,532.9 L413.5,534.4 L414.0,534.9 L414.5,534.4 L415.0,533.7 L415.5,533.4 L416.0,534.0 L416.5,533.4 L417.0,534.2 L417.5,533.6 L418.0,534.3 L418.5,534.4 L419.0,532.9 L419.5,534.0 L420.0,533.5 L420.5,533.2 L421.0,533.6 L421.5,533.7 L422.0,534.3 L422.5,533.2 L423.0,534.3 L423.5,534.7 L424.0,534.1 L424.5,534.1 L425.0,533.8 L425.5,533.3 L426.0,534.1 L426.5,534.0 L427.0,534.2 L427.5,535.0 L428.0,534.2 L428.5,534.0 L429.0,534.5 L429.5,533.2 L430.0,533.3 L430.5,533.7 L431.0,533.5 L431.5,534.2 L432.0,533.7 L432.5,534.6 L433.0,534.5 L433.5,534.2 L434.0,533.7 L434.5,534.1 L435.0,534.2 L435.5,533.4 L436.0,534.0 L436.5,534.2 L437.0,533.9 L437.5,534.5 L438.0,534.4 L438.5,533.5 L439.0,533.9 L439.5,533.5 L440.0,534.1 L440.5,533.5 L441.0,534.3 L441.5,534.0 L442.0,534.3 L442.5,533.8 L443.0,533.2 L443.5,534.6 L444.0,533.8 L444.5,534.5 L445.0,534.0 L445.5,534.1 L446.0,534.7 L446.5,534.0 L447.0,534.5 L447.5,533.2 L448.0,534.2 L448.5,533.7 L449.0,533.8 L449.5,533.8 L450.0,534.0 L450.5,534.6 L451.0,533.0 L451.5,533.9 L452.0,533.5 L452.5,534.4 L453.0,533.6 L453.5,534.0 L454.0,533.7 L454.5,534.1 L455.0,534.3 L455.5,533.7 L456.0,533.9 L456.5,533.2 L457.0,534.0 L457.5,534.2 L458.0,533.6 L458.5,534.3 L459.0,532.9 L459.5,533.0 L460.0,533.2 L460.5,533.6 L461.0,533.8 L461.5,533.8 L462.0,533.8 L462.5,534.1 L463.0,533.6 L463.5,533.2 L464.0,533.3 L464.5,534.8 L465.0,532.8 L465.5,533.7 L466.0,534.5 L466.5,534.0 L467.0,533.4 L467.5,533.8 L468.0,534.2 L468.5,534.3 L469.0,533.4 L469.5,534.1 L470.0,533.9 L470.5,534.3 L471.0,534.4 L471.5,533.6 L472.0,533.1 L472.5,534.0 L473.0,534.6 L473.5,534.1 L474.0,533.9 L474.5,534.9 L475.0,533.3 L475.5,534.2 L476.0,533.5 L476.5,533.8 L477.0,533.8 L477.5,534.4 L478.0,533.3 L478.5,533.5 L479.0,533.0 L479.5,534.0 L480.0,533.5 L480.5,533.9 L481.0,533.3 L481.5,533.6 L482.0,534.2 L482.5,533.7 L483.0,534.0 L483.5,534.0 L484.0,533.6 L484.5,533.0 L485.0,534.2 L485.5,533.8 L486.0,534.1 L486.5,532.8 L487.0,532.9 L487.5,532.7 L488.0,533.3 L488.5,534.1 L489.0,533.9 L489.5,533.6 L490.0,533.7 L490.5,534.0 L491.0,533.5 L491.5,533.8 L492.0,533.7 L492.5,532.6 L493.0,533.4 L493.5,534.2 L494.0,533.4 L494.5,533.5 L495.0,533.3 L495.5,533.3 L496.0,534.0 L496.5,533.4 L497.0,533.0 L497.5,532.1 L498.0,533.2 L498.5,532.6 L499.0,532.6 L499.5,533.8 L500.0,533.7 L500.5,532.5 L501.0,533.8 L501.5,533.6 L502.0,533.0 L502.5,533.6 L503.0,532.6 L503.5,532.7 L504.0,532.6 L504.5,532.7 L505.0,533.6 L505.5,532.5 L506.0,532.6 L506.5,532.6 L507.0,533.1 L507.5,532.8 L508.0,533.3 L508.5,532.6 L509.0,532.3 L509.5,532.6 L510.0,532.7 L510.5,532.2 L511.0,532.7 L511.5,533.3 L512.0,532.2 L512.5,532.3 L513.0,532.8 L513.5,531.8 L514.0,531.6 L514.5,531.4 L515.0,531.9 L515.5,531.8 L516.0,531.3 L516.5,531.2 L517.0,531.6 L517.5,531.1 L518.0,529.9 L518.5,530.2 L519.0,529.9 L519.5,529.8 L520.0,529.0 L520.5,528.3 L521.0,527.8 L521.5,526.6 L522.0,526.7 L522.5,525.6 L523.0,525.1 L523.5,523.3 L524.0,522.3 L524.2,521.6 L524.3,521.2 L524.4,521.7 L524.5,520.8 L524.5,521.2 L524.6,520.2 L524.7,520.4 L524.8,519.2 L524.9,519.4 L525.0,519.0 L525.0,519.3 L525.1,518.9 L525.2,518.3 L525.3,518.3 L525.4,517.5 L525.5,517.1 L525.5,517.0 L525.6,516.3 L525.7,515.6 L525.8,515.2 L525.9,514.2 L526.0,513.8 L526.0,513.9 L526.1,513.2 L526.2,511.8 L526.3,510.9 L526.4,509.8 L526.5,508.6 L526.5,508.2 L526.6,507.2 L526.7,505.6 L526.8,503.7 L526.9,501.5 L527.0,498.9 L527.0,498.1 L527.1,495.9 L527.2,492.3 L527.3,487.9 L527.4,482.6 L527.5,476.2 L527.5,474.0 L527.6,468.5 L527.7,459.5 L527.8,449.2 L527.9,438.4 L528.0,428.3 L528.0,425.7 L528.1,420.9 L528.2,418.0 L528.3,420.5 L528.4,427.6 L528.5,437.6 L528.5,440.8 L528.6,448.4 L528.7,458.7 L528.8,467.9 L528.9,475.6 L529.0,482.1 L529.0,483.8 L529.1,487.5 L529.2,491.9 L529.3,495.6 L529.4,498.7 L529.5,501.3 L529.5,502.0 L529.6,503.5 L529.7,505.4 L529.8,507.1 L529.9,508.5 L530.0,509.7 L530.0,510.1 L530.1,510.9 L530.2,511.9 L530.3,512.2 L530.4,513.6 L530.5,514.3 L530.5,515.0 L530.6,514.9 L530.7,515.6 L530.8,516.6 L530.9,516.6 L531.0,517.3 L531.0,518.3 L531.1,518.5 L531.2,518.6 L531.3,518.9 L531.4,518.7 L531.5,519.8 L531.5,519.7 L531.6,520.1 L531.7,520.1 L531.8,520.7 L531.9,520.9 L532.0,521.5 L532.0,522.1 L532.1,521.8 L532.5,522.2 L533.0,523.7 L533.5,524.5 L534.0,525.7 L534.5,527.1 L535.0,527.8 L535.5,527.9 L536.0,528.8 L536.5,528.8 L537.0,528.9 L537.5,529.3 L538.0,529.9 L538.5,531.2 L539.0,530.2 L539.5,531.6 L540.0,531.8 L540.5,531.4 L541.0,531.6 L541.5,531.5 L542.0,531.9 L542.5,532.3 L543.0,532.1 L543.5,532.7 L544.0,532.9 L544.5,532.6 L545.0,532.6 L545.5,532.5 L546.0,532.8 L546.5,532.2 L547.0,533.0 L547.5,532.9 L548.0,532.5 L548.5,533.9 L549.0,532.5 L549.5,532.6 L550.0,533.2 L550.5,532.2 L551.0,532.8 L551.5,532.5 L552.0,532.7 L552.5,533.1 L553.0,533.4 L553.5,533.7 L554.0,533.6 L554.5,533.8 L555.0,533.6 L555.5,533.1 L556.0,533.9 L556.5,533.1 L557.0,533.1 L557.5,534.1 L558.0,533.8 L558.5,533.5 L559.0,533.8 L559.5,533.8 L560.0,532.8 L560.5,533.4 L561.0,532.9 L561.5,533.5 L562.0,533.2 L562.5,534.1 L563.0,533.7 L563.5,533.1 L564.0,533.5 L564.5,532.9 L565.0,533.5 L565.5,533.7 L566.0,533.6 L566.5,532.6 L567.0,533.3 L567.5,533.7 L568.0,533.6 L568.5,534.0 L569.0,532.9 L569.5,533.6 L570.0,533.1 L570.5,533.4 L571.0,533.5 L571.5,533.6 L572.0,533.0 L572.5,533.3 L573.0,532.6 L573.5,532.4 L574.0,533.2 L574.5,532.9 L575.0,532.0 L575.5,532.3 L576.0,532.5 L576.5,533.1 L577.0,532.7 L577.5,532.4 L578.0,531.1 L578.5,531.8 L579.0,532.0 L579.5,532.0 L580.0,532.1 L580.5,531.9 L581.0,533.0 L581.5,533.0 L582.0,532.5 L582.5,532.2 L583.0,533.7 L583.5,532.7 L584.0,533.6 L584.5,534.0 L585.0,532.8 L585.5,533.4 L586.0,533.2 L586.5,533.6 L587.0,533.6 L587.5,534.4 L588.0,533.8 L588.5,533.5 L589.0,534.1 L589.5,533.5 L590.0,533.5 L590.5,534.6 L591.0,533.3 L591.5,533.5 L592.0,533.7 L592.5,533.2 L593.0,532.8 L593.5,534.2 L594.0,533.4 L594.5,533.5 L595.0,533.6 L595.5,533.3 L596.0,533.3 L596.5,533.8 L597.0,534.9 L597.5,534.1 L598.0,534.1 L598.5,533.1 L599.0,533.8 L599.5,533.3 L600.0,534.2 L600.5,533.7 L601.0,533.8 L601.5,533.8 L602.0,533.6 L602.5,533.1 L603.0,534.1 L603.5,533.2 L604.0,533.3 L604.5,533.7 L605.0,533.5 L605.5,534.0 L606.0,534.3 L606.5,534.0 L607.0,533.9 L607.5,533.9 L608.0,534.3 L608.5,533.0 L609.0,534.0 L609.5,533.5 L610.0,533.3 L610.5,533.9 L611.0,533.7 L611.5,534.1 L612.0,534.4 L612.5,532.8 L613.0,533.9 L613.5,534.8 L614.0,534.3 L614.5,534.5 L615.0,533.9 L615.5,533.2 L616.0,533.4 L616.5,534.2 L617.0,534.3 L617.5,533.6 L618.0,533.8 L618.5,534.0 L619.0,533.1 L619.5,533.7 L620.0,534.6 L620.5,534.9 L621.0,533.9 L621.5,534.7 L622.0,533.7 L622.5,533.5" stroke="#fcc10e"/><path d="M90.5,596.6 L91.0,598.0 L91.5,597.5 L92.0,598.7 L92.5,597.8 L93.0,597.8 L93.5,596.9 L94.0,598.4 L94.5,597.6 L95.0,597.7 L95.5,596.8 L96.0,598.2 L96.5,598.3 L97.0,597.6 L97.5,597.9 L98.0,598.0 L98.5,598.3 L99.0,598.0 L99.5,598.7 L100.0,597.8 L100.5,597.7 L101.0,597.8 L101.5,596.9 L102.0,597.6 L102.5,598.5 L103.0,598.2 L103.5,597.7 L104.0,598.2 L104.5,597.2 L105.0,598.0 L105.5,598.4 L106.0,598.5 L106.5,597.8 L107.0,598.6 L107.5,599.0 L108.0,598.0 L108.5,598.6 L109.0,597.5 L109.5,597.4 L110.0,598.6 L110.5,598.3 L111.0,598.4 L111.5,598.1 L112.0,598.2 L112.5,598.7 L113.0,599.1 L113.5,598.3 L114.0,597.7 L114.5,599.0 L115.0,598.7 L115.5,598.8 L116.0,598.5 L116.5,599.5 L117.0,598.5 L117.5,598.7 L118.0,597.7 L118.5,598.3 L119.0,598.2 L119.5,598.6 L120.0,598.7 L120.5,598.3 L121.0,599.4 L121.5,598.1 L122.0,598.4 L122.5,598.8 L123.0,598.1 L123.5,598.9 L124.0,599.0 L124.5,598.6 L125.0,599.6 L125.5,598.8 L126.0,598.9 L126.5,598.3 L127.0,598.0 L127.5,598.5 L128.0,598.7 L128.5,598.6 L129.0,599.2 L129.5,597.8 L130.0,598.3 L130.5,598.0 L131.0,599.5 L131.5,598.6 L132.0,598.7 L132.5,598.4 L133.0,599.3 L133.5,598.8 L134.0,599.1 L134.5,598.1 L135.0,599.5 L135.5,599.2 L136.0,599.3 L136.5,599.6 L137.0,598.9 L137.5,599.0 L138.0,599.4 L138.5,599.3 L139.0,599.0 L139.5,599.1 L140.0,598.9 L140.5,599.4 L141.0,599.6 L141.5,599.1 L142.0,600.0 L142.5,598.5 L143.0,599.1 L143.5,600.0 L144.0,599.0 L144.5,598.5 L145.0,599.9 L145.5,599.5 L146.0,598.7 L146.5,599.6 L147.0,598.8 L147.5,598.7 L148.0,599.2 L148.5,599.1 L149.0,598.8 L149.5,599.2 L150.0,598.9 L150.5,599.4 L151.0,599.3 L151.5,599.7 L152.0,599.2 L152.5,598.8 L153.0,598.8 L153.5,599.3 L154.0,600.1 L154.5,599.8 L155.0,599.1 L155.5,599.9 L156.0,598.9 L156.5,599.9 L157.0,599.3 L157.5,599.8 L158.0,599.8 L158.5,599.4 L159.0,599.7 L159.5,599.0 L160.0,599.5 L160.5,600.0 L161.0,601.4 L161.5,599.9 L162.0,599.6 L162.5,599.1 L163.0,600.1 L163.5,598.9 L164.0,599.2 L164.5,599.8 L165.0,599.1 L165.5,600.3 L166.0,600.1 L166.5,599.4 L167.0,599.4 L167.5,599.1 L168.0,599.0 L168.5,599.9 L169.0,600.0 L169.5,599.9 L170.0,599.8 L170.5,599.5 L171.0,599.9 L171.5,599.1 L172.0,599.8 L172.5,600.4 L173.0,600.4 L173.5,599.6 L174.0,599.6 L174.5,600.4 L175.0,600.6 L175.5,599.1 L176.0,599.6 L176.5,599.9 L177.0,600.4 L177.5,599.5 L178.0,600.1 L178.5,599.7 L179.0,600.9 L179.5,600.1 L180.0,599.8 L180.5,599.7 L181.0,600.4 L181.5,600.2 L182.0,599.4 L182.5,600.0 L183.0,599.3 L183.5,599.6 L184.0,599.3 L184.5,599.3 L185.0,599.6 L185.5,599.5 L186.0,600.2 L186.5,600.3 L187.0,599.9 L187.5,599.5 L188.0,600.3 L188.5,599.1 L189.0,599.1 L189.5,600.3 L190.0,600.3 L190.5,600.5 L191.0,599.9 L191.5,599.5 L192.0,599.8 L192.5,600.3 L193.0,599.7 L193.5,599.7 L194.0,599.4 L194.5,599.5 L195.0,600.4 L195.5,600.3 L196.0,599.6 L196.5,599.6 L197.0,599.8 L197.5,600.3 L198.0,599.6 L198.5,600.0 L199.0,599.1 L199.5,599.5 L200.0,600.3 L200.5,600.5 L201.0,599.6 L201.5,599.8 L202.0,600.5 L202.5,600.0 L203.0,599.9 L203.5,600.4 L204.0,600.2 L204.5,600.6 L205.0,600.5 L205.5,599.9 L206.0,600.1 L206.5,600.1 L207.0,599.5 L207.5,599.7 L208.0,600.6 L208.5,599.4 L209.0,600.6 L209.5,600.3 L210.0,600.1 L210.5,600.4 L211.0,600.3 L211.5,600.7 L212.0,599.9 L212.5,600.0 L213.0,600.0 L213.5,600.9 L214.0,600.5 L214.5,599.6 L215.0,599.9 L215.5,599.7 L216.0,600.0 L216.5,600.1 L217.0,601.0 L217.5,599.1 L218.0,600.4 L218.5,600.1 L219.0,599.5 L219.5,599.7 L220.0,599.5 L220.5,599.6 L221.0,600.0 L221.5,598.7 L222.0,599.9 L222.5,598.9 L223.0,599.6 L223.5,598.9 L224.0,598.9 L224.5,598.2 L225.0,597.9 L225.5,596.7 L225.5,596.3 L225.6,596.8 L225.7,596.6 L225.8,597.1 L225.9,595.0 L226.0,595.6 L226.0,596.1 L226.1,594.9 L226.2,595.1 L226.3,595.8 L226.4,595.2 L226.5,593.9 L226.5,594.9 L226.6,594.4 L226.7,593.9 L226.8,593.3 L226.9,592.7 L227.0,591.8 L227.0,591.9 L227.1,592.0 L227.2,591.1 L227.3,591.3 L227.4,589.6 L227.5,588.0 L227.5,588.9 L227.6,588.2 L227.7,587.3 L227.8,586.4 L227.9,585.4 L228.0,584.4 L228.0,584.2 L228.1,583.0 L228.2,581.7 L228.3,580.4 L228.4,578.9 L228.5,577.5 L228.5,577.4 L228.6,575.8 L228.7,574.2 L228.8,572.5 L228.9,571.0 L229.0,569.6 L229.0,569.5 L229.1,568.2 L229.2,567.1 L229.3,566.2 L229.4,565.7 L229.5,565.5 L229.5,565.5 L229.6,565.7 L229.7,566.2 L229.8,567.1 L229.9,568.2 L230.0,569.4 L230.0,569.5 L230.1,571.0 L230.2,572.5 L230.3,574.2 L230.4,575.8 L230.5,577.2 L230.5,577.4 L230.6,578.9 L230.7,580.4 L230.8,581.8 L230.9,583.0 L231.0,584.1 L231.0,584.3 L231.1,585.4 L231.2,586.4 L231.3,587.4 L231.4,588.2 L231.5,589.0 L231.5,589.0 L231.6,589.9 L231.7,590.6 L231.8,591.1 L231.9,591.3 L232.0,592.8 L232.0,591.9 L232.1,593.0 L232.2,593.0 L232.3,593.0 L232.4,594.6 L232.5,593.1 L232.5,593.9 L232.6,594.8 L232.7,594.8 L232.8,595.6 L232.9,595.4 L233.0,595.5 L233.0,596.7 L233.1,595.9 L233.2,596.1 L233.3,595.9 L233.4,596.2 L233.5,597.0 L234.0,597.7 L234.5,598.0 L235.0,598.1 L235.5,599.1 L236.0,598.3 L236.5,599.1 L237.0,599.3 L237.5,599.2 L238.0,599.8 L238.5,599.5 L239.0,599.5 L239.5,600.8 L240.0,600.4 L240.5,600.6 L241.0,600.2 L241.5,600.6 L242.0,600.6 L242.5,600.8 L243.0,601.4 L243.5,600.2 L244.0,600.5 L244.5,600.3 L245.0,598.8 L245.5,599.8 L246.0,600.4 L246.5,600.7 L247.0,600.2 L247.5,601.0 L248.0,601.1 L248.5,600.3 L249.0,601.2 L249.5,601.3 L250.0,600.8 L250.5,600.1 L251.0,601.2 L251.5,600.5 L252.0,600.4 L252.5,600.7 L253.0,600.4 L253.5,601.1 L254.0,601.0 L254.5,601.2 L255.0,600.9 L255.5,600.3 L256.0,600.6 L256.5,601.1 L257.0,600.5 L257.5,602.0 L258.0,600.6 L258.5,600.4 L259.0,601.2 L259.5,601.1 L260.0,600.7 L260.5,600.6 L261.0,600.9 L261.5,601.1 L262.0,601.1 L262.5,600.6 L263.0,601.0 L263.5,601.1 L264.0,601.1 L264.5,599.4 L265.0,600.4 L265.5,600.4 L266.0,600.7 L266.5,600.9 L267.0,601.2 L267.5,601.1 L268.0,600.7 L268.5,600.8 L269.0,601.6 L269.5,600.5 L270.0,601.0 L270.5,601.5 L271.0,601.0 L271.5,599.9 L272.0,601.0 L272.5,600.7 L273.0,600.8 L273.5,601.3 L274.0,601.1 L274.5,600.7 L275.0,601.3 L275.5,601.1 L276.0,600.9 L276.5,601.0 L277.0,601.0 L277.5,600.7 L278.0,600.7 L278.5,600.9 L279.0,600.5 L279.5,600.3 L280.0,601.5 L280.5,600.8 L281.0,600.9 L281.5,600.8 L282.0,600.9 L282.5,600.9 L283.0,600.9 L283.5,600.6 L284.0,601.3 L284.5,600.6 L285.0,601.4 L285.5,600.1 L286.0,600.5 L286.5,601.4 L287.0,600.9 L287.5,600.6 L288.0,601.1 L288.5,600.5 L289.0,601.0 L289.5,600.0 L290.0,600.8 L290.5,600.7 L291.0,601.2 L291.5,601.4 L292.0,600.6 L292.5,601.7 L293.0,600.7 L293.5,600.1 L294.0,599.9 L294.5,601.7 L295.0,601.0 L295.5,600.7 L296.0,600.7 L296.5,600.5 L297.0,601.6 L297.5,601.0 L298.0,601.8 L298.5,600.9 L299.0,600.0 L299.5,601.4 L300.0,600.9 L300.5,600.9 L301.0,601.7 L301.5,600.9 L302.0,601.5 L302.5,601.0 L303.0,600.7 L303.5,601.3 L304.0,600.8 L304.5,601.6 L305.0,601.5 L305.5,601.1 L306.0,601.3 L306.5,601.3 L307.0,600.9 L307.5,601.5 L308.0,601.0 L308.5,601.3 L309.0,600.6 L309.5,601.1 L310.0,601.3 L310.5,600.7 L311.0,600.9 L311.5,600.8 L312.0,601.4 L312.5,600.8 L313.0,601.3 L313.5,601.8 L314.0,601.2 L314.5,600.4 L315.0,601.1 L315.5,601.6 L316.0,601.0 L316.5,601.6 L317.0,601.4 L317.5,601.3 L318.0,601.0 L318.5,600.9 L319.0,601.0 L319.5,601.1 L320.0,601.3 L320.5,601.3 L321.0,601.0 L321.5,601.1 L322.0,601.3 L322.5,600.4 L323.0,600.8 L323.5,600.8 L324.0,601.0 L324.5,601.0 L325.0,601.0 L325.5,600.7 L326.0,601.4 L326.5,601.3 L327.0,600.4 L327.5,601.1 L328.0,600.6 L328.5,601.9 L329.0,600.9 L329.5,601.0 L330.0,601.2 L330.5,601.1 L331.0,601.1 L331.5,601.9 L332.0,601.3 L332.5,601.5 L333.0,601.7 L333.5,600.7 L334.0,601.9 L334.5,601.5 L335.0,601.6 L335.5,600.8 L336.0,601.5 L336.5,601.4 L337.0,600.9 L337.5,602.2 L338.0,601.4 L338.5,601.1 L339.0,601.3 L339.5,601.6 L340.0,601.7 L340.5,601.5 L341.0,601.7 L341.5,601.9 L342.0,600.6 L342.5,601.0 L343.0,600.8 L343.5,601.2 L344.0,601.8 L344.5,601.5 L345.0,600.7 L345.5,601.1 L346.0,601.7 L346.5,601.0 L347.0,601.2 L347.5,601.3 L348.0,600.4 L348.5,601.6 L349.0,601.4 L349.5,601.5 L350.0,600.8 L350.5,600.9 L351.0,601.0 L351.5,601.3 L352.0,601.3 L352.5,601.3 L353.0,602.0 L353.5,601.8 L354.0,600.9 L354.5,600.9 L355.0,602.0 L355.5,601.1 L356.0,601.9 L356.5,602.0 L357.0,601.0 L357.5,601.1 L358.0,601.3 L358.5,600.9 L359.0,600.8 L359.5,601.1 L360.0,601.6 L360.5,601.0 L361.0,601.2 L361.5,601.0 L362.0,600.6 L362.5,601.9 L363.0,600.2 L363.5,601.0 L364.0,601.5 L364.5,600.6 L365.0,601.5 L365.5,601.8 L366.0,600.9 L366.5,601.4 L367.0,600.8 L367.5,601.5 L368.0,601.3 L368.5,601.4 L369.0,601.9 L369.5,601.5 L370.0,601.9 L370.5,601.6 L371.0,600.7 L371.5,601.4 L372.0,601.5 L372.5,600.6 L373.0,601.9 L373.5,601.3 L374.0,601.4 L374.5,600.9 L375.0,601.3 L375.5,601.4 L376.0,601.1 L376.5,601.3 L377.0,600.3 L377.5,601.9 L378.0,600.8 L378.5,600.3 L379.0,600.9 L379.5,600.9 L380.0,601.5 L380.5,600.9 L381.0,601.4 L381.5,600.9 L382.0,602.3 L382.5,601.5 L383.0,602.2 L383.5,600.8 L384.0,601.6 L384.5,600.9 L385.0,601.6 L385.5,601.6 L386.0,600.6 L386.5,600.8 L387.0,600.8 L387.5,600.6 L388.0,601.0 L388.5,600.9 L389.0,600.7 L389.5,601.3 L390.0,601.5 L390.5,600.7 L391.0,601.1 L391.5,601.3 L392.0,601.2 L392.5,601.0 L393.0,601.7 L393.5,601.7 L394.0,601.6 L394.5,601.2 L395.0,602.2 L395.5,602.1 L396.0,601.1 L396.5,601.3 L397.0,601.8 L397.5,601.0 L398.0,601.5 L398.5,601.3 L399.0,601.0 L399.5,601.2 L400.0,600.6 L400.5,601.1 L401.0,600.4 L401.5,602.3 L402.0,602.0 L402.5,601.9 L403.0,601.5 L403.5,601.8 L404.0,601.9 L404.5,601.8 L405.0,601.7 L405.5,600.9 L406.0,601.5 L406.5,601.1 L407.0,600.8 L407.5,600.8 L408.0,601.5 L408.5,601.8 L409.0,600.7 L409.5,602.1 L410.0,602.0 L410.5,601.2 L411.0,601.1 L411.5,601.3 L412.0,601.8 L412.5,601.2 L413.0,600.8 L413.5,601.5 L414.0,600.4 L414.5,601.4 L415.0,601.9 L415.5,601.5 L416.0,601.7 L416.5,601.6 L417.0,601.7 L417.5,601.4 L418.0,601.0 L418.5,601.2 L419.0,601.3 L419.5,601.9 L420.0,602.1 L420.5,601.5 L421.0,601.0 L421.5,601.0 L422.0,601.3 L422.5,602.0 L423.0,601.5 L423.5,601.3 L424.0,601.0 L424.5,601.7 L425.0,601.5 L425.5,601.3 L426.0,601.4 L426.5,602.1 L427.0,601.3 L427.5,602.1 L428.0,601.9 L428.5,601.4 L429.0,601.7 L429.5,601.3 L430.0,601.0 L430.5,601.2 L431.0,600.9 L431.5,601.6 L432.0,601.3 L432.5,601.6 L433.0,601.7 L433.5,599.9 L434.0,601.5 L434.5,600.5 L435.0,601.4 L435.5,600.9 L436.0,601.4 L436.5,602.0 L437.0,600.6 L437.5,601.4 L438.0,601.3 L438.5,600.5 L439.0,601.6 L439.5,601.4 L440.0,601.1 L440.5,601.0 L441.0,602.8 L441.5,601.2 L442.0,600.5 L442.5,600.9 L443.0,601.2 L443.5,601.2 L444.0,601.3 L444.5,600.9 L445.0,601.6 L445.5,601.1 L446.0,600.7 L446.5,601.0 L447.0,601.2 L447.5,601.7 L448.0,601.6 L448.5,601.2 L449.0,601.3 L449.5,601.4 L450.0,602.3 L450.5,601.1 L451.0,601.5 L451.5,601.7 L452.0,600.9 L452.5,601.4 L453.0,601.4 L453.5,601.1 L454.0,601.6 L454.5,601.8 L455.0,601.8 L455.5,601.2 L456.0,601.4 L456.5,602.4 L457.0,600.8 L457.5,601.4 L458.0,601.7 L458.5,601.4 L459.0,601.6 L459.5,601.4 L460.0,601.7 L460.5,601.9 L461.0,601.2 L461.5,601.4 L462.0,601.3 L462.5,601.1 L463.0,601.3 L463.5,600.8 L464.0,601.7 L464.5,602.1 L465.0,602.1 L465.5,601.9 L466.0,600.9 L466.5,602.0 L467.0,601.0 L467.5,601.3 L468.0,602.1 L468.5,600.8 L469.0,601.7 L469.5,601.4 L470.0,601.2 L470.5,600.9 L471.0,601.5 L471.5,601.1 L472.0,601.8 L472.5,601.8 L473.0,600.7 L473.5,601.1 L474.0,601.1 L474.5,600.7 L475.0,600.8 L475.5,601.3 L476.0,601.2 L476.5,600.5 L477.0,601.0 L477.5,601.5 L478.0,600.7 L478.5,600.8 L479.0,602.0 L479.5,601.8 L480.0,600.5 L480.5,600.6 L481.0,601.4 L481.5,600.7 L482.0,601.1 L482.5,601.0 L483.0,601.5 L483.5,600.1 L484.0,600.2 L484.5,600.7 L485.0,601.7 L485.5,601.1 L486.0,600.4 L486.5,601.4 L487.0,601.5 L487.5,601.1 L488.0,601.0 L488.5,601.4 L489.0,601.7 L489.5,601.2 L490.0,601.4 L490.5,601.1 L491.0,601.0 L491.5,600.7 L492.0,601.2 L492.5,601.0 L493.0,601.0 L493.5,601.5 L494.0,601.3 L494.5,601.5 L495.0,600.3 L495.5,601.3 L496.0,600.8 L496.5,600.7 L497.0,600.6 L497.5,601.5 L498.0,601.3 L498.5,600.6 L499.0,600.4 L499.5,600.9 L500.0,600.7 L500.5,601.6 L501.0,600.2 L501.5,600.0 L502.0,600.7 L502.5,600.8 L503.0,600.8 L503.5,601.1 L504.0,601.7 L504.5,600.5 L505.0,600.4 L505.5,599.8 L506.0,600.7 L506.5,600.9 L507.0,600.4 L507.5,601.0 L508.0,600.4 L508.5,601.1 L509.0,600.5 L509.5,599.8 L510.0,599.9 L510.5,599.5 L511.0,599.3 L511.5,600.1 L512.0,600.3 L512.5,600.7 L513.0,599.7 L513.5,599.5 L514.0,599.0 L514.5,599.8 L515.0,599.4 L515.5,598.8 L516.0,599.2 L516.5,598.9 L517.0,597.6 L517.5,598.6 L518.0,598.0 L518.5,597.5 L519.0,597.1 L519.5,597.7 L520.0,597.2 L520.5,596.8 L521.0,594.9 L521.5,594.5 L522.0,594.5 L522.5,592.7 L523.0,591.9 L523.5,590.3 L524.0,590.6 L524.2,589.8 L524.3,589.2 L524.4,588.8 L524.5,588.1 L524.5,588.0 L524.6,588.2 L524.7,587.3 L524.8,587.8 L524.9,586.6 L525.0,586.0 L525.0,586.8 L525.1,585.9 L525.2,585.7 L525.3,584.8 L525.4,583.5 L525.5,584.2 L525.5,583.1 L525.6,583.8 L525.7,582.0 L525.8,581.2 L525.9,581.4 L526.0,580.7 L526.0,580.3 L526.1,579.0 L526.2,579.0 L526.3,577.5 L526.4,576.3 L526.5,575.0 L526.5,574.5 L526.6,573.4 L526.7,571.7 L526.8,569.6 L526.9,567.3 L527.0,564.4 L527.0,563.5 L527.1,561.1 L527.2,557.1 L527.3,552.3 L527.4,546.5 L527.5,539.5 L527.5,537.1 L527.6,531.0 L527.7,521.1 L527.8,509.9 L527.9,498.0 L528.0,486.9 L528.0,484.0 L528.1,478.7 L528.2,475.5 L528.3,478.2 L528.4,486.1 L528.5,497.1 L528.5,500.6 L528.6,508.9 L528.7,520.3 L528.8,530.3 L528.9,538.9 L529.0,546.0 L529.0,547.9 L529.1,551.9 L529.2,556.8 L529.3,560.8 L529.4,564.2 L529.5,567.1 L529.5,567.8 L529.6,569.5 L529.7,571.5 L529.8,573.3 L529.9,574.9 L530.0,576.2 L530.0,576.6 L530.1,577.5 L530.2,578.5 L530.3,578.9 L530.4,580.2 L530.5,580.9 L530.5,581.3 L530.6,582.3 L530.7,582.4 L530.8,583.5 L530.9,584.2 L531.0,583.7 L531.0,584.1 L531.1,584.8 L531.2,585.2 L531.3,586.0 L531.4,585.5 L531.5,587.1 L531.5,587.2 L531.6,587.1 L531.7,586.9 L531.8,587.9 L531.9,588.0 L532.0,588.9 L532.0,588.7 L532.1,589.3 L532.5,590.0 L533.0,592.1 L533.5,591.5 L534.0,593.1 L534.5,594.5 L535.0,594.3 L535.5,596.0 L536.0,595.6 L536.5,596.7 L537.0,596.7 L537.5,597.2 L538.0,597.8 L538.5,598.0 L539.0,598.1 L539.5,599.5 L540.0,598.7 L540.5,598.5 L541.0,599.5 L541.5,599.6 L542.0,599.9 L542.5,600.3 L543.0,599.2 L543.5,600.2 L544.0,600.4 L544.5,599.9 L545.0,600.1 L545.5,598.7 L546.0,599.9 L546.5,601.0 L547.0,599.5 L547.5,600.1 L548.0,600.5 L548.5,600.7 L549.0,601.2 L549.5,599.7 L550.0,600.6 L550.5,601.0 L551.0,600.0 L551.5,600.6 L552.0,601.5 L552.5,601.3 L553.0,601.0 L553.5,599.6 L554.0,600.7 L554.5,601.0 L555.0,600.7 L555.5,600.8 L556.0,602.3 L556.5,600.8 L557.0,600.5 L557.5,601.0 L558.0,600.8 L558.5,600.8 L559.0,600.9 L559.5,601.3 L560.0,601.1 L560.5,600.4 L561.0,600.9 L561.5,601.2 L562.0,600.8 L562.5,601.5 L563.0,601.4 L563.5,600.6 L564.0,601.2 L564.5,601.9 L565.0,601.7 L565.5,601.0 L566.0,601.4 L566.5,600.7 L567.0,600.3 L567.5,601.2 L568.0,601.1 L568.5,601.2 L569.0,600.9 L569.5,601.1 L570.0,600.7 L570.5,601.1 L571.0,601.2 L571.5,600.8 L572.0,601.1 L572.5,599.9 L573.0,600.3 L573.5,601.2 L574.0,601.3 L574.5,600.5 L575.0,600.3 L575.5,599.6 L576.0,600.2 L576.5,600.2 L577.0,599.1 L577.5,599.8 L578.0,599.7 L578.5,599.6 L579.0,598.8 L579.5,599.6 L580.0,598.8 L580.5,600.2 L581.0,599.8 L581.5,599.4 L582.0,600.6 L582.5,600.7 L583.0,600.0 L583.5,601.4 L584.0,600.1 L584.5,600.8 L585.0,601.3 L585.5,599.8 L586.0,601.3 L586.5,600.9 L587.0,601.0 L587.5,600.5 L588.0,601.2 L588.5,600.6 L589.0,600.7 L589.5,600.9 L590.0,600.6 L590.5,601.9 L591.0,600.6 L591.5,600.9 L592.0,601.1 L592.5,601.2 L593.0,601.6 L593.5,601.6 L594.0,601.1 L594.5,601.1 L595.0,601.3 L595.5,601.7 L596.0,601.6 L596.5,601.1 L597.0,600.4 L597.5,602.3 L598.0,601.7 L598.5,601.4 L599.0,601.5 L599.5,601.1 L600.0,600.9 L600.5,601.2 L601.0,601.2 L601.5,601.1 L602.0,600.7 L602.5,601.2 L603.0,601.6 L603.5,601.1 L604.0,601.4 L604.5,600.4 L605.0,601.3 L605.5,601.3 L606.0,600.8 L606.5,600.6 L607.0,601.6 L607.5,601.0 L608.0,601.6 L608.5,601.2 L609.0,601.7 L609.5,601.2 L610.0,600.7 L610.5,601.4 L611.0,601.3 L611.5,601.7 L612.0,601.2 L612.5,601.2 L613.0,601.8 L613.5,601.9 L614.0,601.8 L614.5,601.9 L615.0,601.6 L615.5,601.8 L616.0,601.8 L616.5,601.6 L617.0,601.4 L617.5,601.5 L618.0,602.5 L618.5,601.4 L619.0,601.3 L619.5,601.3 L620.0,601.4 L620.5,601.5 L621.0,600.9 L621.5,600.5 L622.0,601.6 L622.5,600.7" stroke="#2f5f9e"/><path d="M90.5,664.5 L91.0,664.5 L91.5,665.0 L92.0,665.2 L92.5,664.6 L93.0,664.2 L93.5,664.0 L94.0,664.2 L94.5,664.6 L95.0,663.6 L95.5,664.6 L96.0,664.6 L96.5,664.9 L97.0,664.5 L97.5,664.7 L98.0,664.3 L98.5,664.5 L99.0,663.9 L99.5,664.8 L100.0,665.4 L100.5,664.8 L101.0,664.9 L101.5,664.3 L102.0,665.4 L102.5,664.4 L103.0,665.2 L103.5,664.9 L104.0,664.4 L104.5,665.3 L105.0,664.9 L105.5,665.0 L106.0,665.1 L106.5,664.9 L107.0,664.7 L107.5,665.1 L108.0,664.8 L108.5,665.0 L109.0,664.7 L109.5,664.3 L110.0,664.7 L110.5,664.8 L111.0,665.0 L111.5,665.6 L112.0,664.3 L112.5,665.1 L113.0,664.1 L113.5,664.6 L114.0,664.9 L114.5,664.1 L115.0,664.3 L115.5,665.2 L116.0,665.2 L116.5,665.1 L117.0,664.8 L117.5,666.2 L118.0,665.1 L118.5,664.8 L119.0,666.0 L119.5,665.5 L120.0,665.1 L120.5,665.8 L121.0,665.3 L121.5,665.6 L122.0,665.4 L122.5,664.9 L123.0,665.8 L123.5,665.4 L124.0,664.9 L124.5,665.0 L125.0,665.8 L125.5,665.2 L126.0,665.4 L126.5,665.7 L127.0,665.5 L127.5,664.7 L128.0,665.7 L128.5,665.9 L129.0,665.9 L129.5,666.2 L130.0,665.6 L130.5,665.8 L131.0,666.2 L131.5,665.4 L132.0,666.3 L132.5,666.3 L133.0,665.9 L133.5,666.4 L134.0,666.0 L134.5,665.2 L135.0,666.1 L135.5,665.8 L136.0,665.8 L136.5,665.7 L137.0,666.2 L137.5,665.9 L138.0,665.3 L138.5,665.9 L139.0,666.0 L139.5,665.4 L140.0,665.5 L140.5,665.5 L141.0,665.4 L141.5,665.9 L142.0,666.2 L142.5,666.6 L143.0,666.3 L143.5,666.2 L144.0,666.3 L144.5,666.4 L145.0,665.6 L145.5,666.1 L146.0,666.0 L146.5,665.8 L147.0,665.6 L147.5,665.6 L148.0,665.7 L148.5,665.3 L149.0,666.1 L149.5,665.9 L150.0,665.9 L150.5,666.0 L151.0,666.2 L151.5,665.6 L152.0,665.9 L152.5,665.2 L153.0,664.9 L153.5,665.1 L154.0,666.6 L154.5,665.1 L155.0,666.2 L155.5,666.6 L156.0,665.8 L156.5,666.7 L157.0,666.8 L157.5,666.4 L158.0,667.1 L158.5,666.3 L159.0,665.7 L159.5,666.3 L160.0,665.9 L160.5,665.5 L161.0,665.5 L161.5,667.1 L162.0,665.8 L162.5,666.1 L163.0,665.8 L163.5,666.2 L164.0,666.0 L164.5,665.9 L165.0,665.6 L165.5,665.5 L166.0,665.8 L166.5,666.3 L167.0,667.1 L167.5,666.7 L168.0,667.0 L168.5,666.4 L169.0,666.2 L169.5,665.6 L170.0,666.2 L170.5,665.3 L171.0,666.1 L171.5,667.0 L172.0,666.4 L172.5,666.8 L173.0,666.1 L173.5,665.6 L174.0,666.1 L174.5,666.1 L175.0,666.8 L175.5,667.2 L176.0,666.0 L176.5,666.1 L177.0,666.3 L177.5,666.2 L178.0,665.8 L178.5,666.4 L179.0,666.5 L179.5,666.5 L180.0,665.8 L180.5,666.3 L181.0,665.6 L181.5,666.8 L182.0,665.9 L182.5,666.3 L183.0,666.2 L183.5,666.1 L184.0,665.9 L184.5,665.6 L185.0,667.2 L185.5,666.5 L186.0,666.5 L186.5,667.4 L187.0,666.4 L187.5,666.7 L188.0,666.5 L188.5,667.0 L189.0,666.7 L189.5,666.6 L190.0,666.4 L190.5,666.6 L191.0,667.0 L191.5,665.6 L192.0,666.4 L192.5,666.3 L193.0,666.4 L193.5,665.6 L194.0,666.8 L194.5,666.1 L195.0,666.4 L195.5,666.3 L196.0,665.8 L196.5,666.3 L197.0,665.7 L197.5,666.1 L198.0,666.4 L198.5,666.6 L199.0,666.6 L199.5,666.5 L200.0,667.5 L200.5,666.8 L201.0,666.0 L201.5,666.3 L202.0,666.3 L202.5,666.5 L203.0,666.3 L203.5,666.2 L204.0,667.3 L204.5,666.6 L205.0,666.4 L205.5,666.5 L206.0,666.5 L206.5,667.2 L207.0,666.8 L207.5,667.1 L208.0,665.2 L208.5,666.8 L209.0,667.1 L209.5,667.5 L210.0,666.6 L210.5,665.8 L211.0,666.9 L211.5,666.3 L212.0,665.8 L212.5,666.3 L213.0,667.1 L213.5,667.1 L214.0,666.9 L214.5,666.1 L215.0,667.7 L215.5,666.0 L216.0,666.5 L216.5,665.9 L217.0,667.1 L217.5,666.7 L218.0,666.9 L218.5,666.5 L219.0,666.4 L219.5,666.4 L220.0,665.5 L220.5,666.7 L221.0,666.6 L221.5,666.0 L222.0,666.0 L222.5,666.1 L223.0,666.5 L223.5,665.9 L224.0,665.5 L224.5,665.0 L225.0,664.2 L225.5,664.2 L225.8,664.1 L225.9,663.9 L226.0,663.9 L226.0,664.1 L226.1,663.9 L226.2,663.7 L226.3,663.7 L226.4,663.3 L226.5,663.0 L226.5,663.2 L226.6,662.0 L226.7,663.1 L226.8,661.7 L226.9,662.4 L227.0,661.7 L227.0,662.2 L227.1,661.4 L227.2,660.7 L227.3,661.2 L227.4,660.4 L227.5,659.9 L227.5,659.8 L227.6,659.8 L227.7,659.2 L227.8,658.2 L227.9,657.6 L228.0,656.9 L228.0,656.8 L228.1,656.2 L228.2,655.3 L228.3,654.4 L228.4,653.4 L228.5,652.4 L228.5,652.1 L228.6,651.2 L228.7,650.0 L228.8,648.6 L228.9,647.3 L229.0,645.8 L229.0,645.5 L229.1,644.4 L229.2,643.0 L229.3,641.6 L229.4,640.4 L229.5,639.3 L229.5,639.2 L229.6,638.5 L229.7,638.1 L229.8,637.9 L229.9,638.1 L230.0,638.6 L230.0,638.7 L230.1,639.4 L230.2,640.4 L230.3,641.7 L230.4,643.0 L230.5,644.4 L230.5,644.7 L230.6,645.9 L230.7,647.3 L230.8,648.7 L230.9,650.0 L231.0,651.3 L231.0,651.5 L231.1,652.4 L231.2,653.5 L231.3,654.5 L231.4,655.4 L231.5,656.2 L231.5,656.4 L231.6,657.0 L231.7,657.7 L231.8,658.4 L231.9,658.2 L232.0,659.3 L232.0,659.6 L232.1,660.7 L232.2,660.5 L232.3,660.7 L232.4,661.7 L232.5,661.4 L232.5,661.5 L232.6,661.9 L232.7,661.4 L232.8,662.8 L232.9,662.8 L233.0,662.7 L233.0,662.4 L233.1,663.1 L233.2,663.9 L233.3,663.1 L233.4,663.1 L233.5,664.0 L233.5,663.1 L233.6,662.9 L233.7,663.9 L234.0,664.1 L234.5,664.8 L235.0,665.0 L235.5,665.7 L236.0,665.7 L236.5,665.7 L237.0,665.9 L237.5,666.5 L238.0,666.7 L238.5,666.8 L239.0,666.7 L239.5,665.0 L240.0,666.1 L240.5,666.4 L241.0,666.7 L241.5,665.9 L242.0,667.3 L242.5,666.9 L243.0,666.5 L243.5,666.8 L244.0,666.6 L244.5,666.5 L245.0,667.1 L245.5,666.6 L246.0,666.2 L246.5,666.6 L247.0,666.8 L247.5,666.4 L248.0,667.5 L248.5,666.4 L249.0,667.7 L249.5,667.3 L250.0,666.5 L250.5,667.0 L251.0,667.5 L251.5,666.9 L252.0,666.4 L252.5,667.0 L253.0,667.9 L253.5,666.3 L254.0,667.3 L254.5,667.0 L255.0,667.0 L255.5,666.9 L256.0,666.9 L256.5,667.5 L257.0,667.3 L257.5,666.6 L258.0,667.8 L258.5,666.5 L259.0,667.4 L259.5,667.2 L260.0,667.6 L260.5,667.2 L261.0,667.6 L261.5,667.1 L262.0,667.5 L262.5,667.3 L263.0,668.1 L263.5,666.8 L264.0,667.7 L264.5,667.3 L265.0,667.2 L265.5,666.9 L266.0,667.3 L266.5,666.5 L267.0,666.5 L267.5,667.5 L268.0,666.4 L268.5,667.8 L269.0,667.0 L269.5,667.3 L270.0,667.2 L270.5,667.4 L271.0,667.0 L271.5,667.0 L272.0,667.1 L272.5,667.7 L273.0,667.7 L273.5,667.8 L274.0,667.4 L274.5,667.1 L275.0,666.4 L275.5,667.5 L276.0,667.6 L276.5,667.0 L277.0,667.6 L277.5,667.8 L278.0,667.3 L278.5,667.7 L279.0,667.4 L279.5,666.4 L280.0,667.0 L280.5,667.0 L281.0,667.5 L281.5,666.8 L282.0,667.0 L282.5,666.8 L283.0,667.2 L283.5,667.3 L284.0,667.7 L284.5,667.6 L285.0,667.3 L285.5,667.4 L286.0,667.3 L286.5,667.3 L287.0,668.0 L287.5,666.1 L288.0,667.2 L288.5,667.4 L289.0,667.8 L289.5,666.8 L290.0,667.4 L290.5,667.7 L291.0,667.1 L291.5,666.4 L292.0,667.1 L292.5,666.8 L293.0,667.6 L293.5,666.9 L294.0,668.1 L294.5,667.4 L295.0,666.9 L295.5,667.1 L296.0,666.8 L296.5,667.5 L297.0,668.0 L297.5,667.2 L298.0,667.7 L298.5,666.9 L299.0,667.5 L299.5,668.4 L300.0,666.7 L300.5,667.9 L301.0,667.9 L301.5,666.5 L302.0,666.7 L302.5,666.9 L303.0,667.8 L303.5,667.1 L304.0,667.3 L304.5,667.7 L305.0,667.4 L305.5,667.5 L306.0,667.2 L306.5,667.9 L307.0,667.0 L307.5,668.1 L308.0,667.2 L308.5,667.0 L309.0,667.7 L309.5,667.6 L310.0,666.5 L310.5,667.5 L311.0,666.8 L311.5,667.0 L312.0,667.7 L312.5,667.0 L313.0,667.5 L313.5,667.2 L314.0,668.2 L314.5,667.3 L315.0,666.9 L315.5,666.9 L316.0,667.0 L316.5,667.4 L317.0,667.4 L317.5,667.8 L318.0,667.5 L318.5,667.5 L319.0,667.5 L319.5,667.3 L320.0,667.5 L320.5,667.8 L321.0,667.8 L321.5,667.2 L322.0,666.6 L322.5,667.0 L323.0,667.5 L323.5,666.3 L324.0,667.2 L324.5,667.6 L325.0,667.2 L325.5,666.9 L326.0,668.2 L326.5,668.0 L327.0,667.3 L327.5,668.0 L328.0,668.0 L328.5,666.9 L329.0,668.6 L329.5,667.0 L330.0,667.3 L330.5,666.9 L331.0,667.5 L331.5,666.8 L332.0,667.4 L332.5,667.9 L333.0,667.5 L333.5,667.3 L334.0,668.1 L334.5,667.0 L335.0,667.9 L335.5,667.3 L336.0,667.5 L336.5,667.5 L337.0,667.5 L337.5,667.4 L338.0,667.1 L338.5,667.2 L339.0,667.6 L339.5,667.4 L340.0,666.9 L340.5,667.1 L341.0,667.1 L341.5,667.4 L342.0,667.5 L342.5,667.5 L343.0,667.2 L343.5,667.5 L344.0,666.8 L344.5,666.2 L345.0,667.4 L345.5,666.7 L346.0,667.0 L346.5,666.9 L347.0,667.7 L347.5,666.9 L348.0,667.6 L348.5,667.2 L349.0,666.9 L349.5,666.8 L350.0,667.7 L350.5,667.6 L351.0,667.8 L351.5,668.3 L352.0,667.6 L352.5,667.6 L353.0,667.4 L353.5,667.5 L354.0,667.3 L354.5,667.1 L355.0,668.4 L355.5,666.6 L356.0,667.6 L356.5,667.7 L357.0,667.5 L357.5,667.0 L358.0,667.4 L358.5,667.3 L359.0,667.0 L359.5,667.5 L360.0,667.3 L360.5,667.2 L361.0,667.8 L361.5,667.0 L362.0,667.7 L362.5,667.2 L363.0,667.7 L363.5,667.5 L364.0,667.6 L364.5,667.0 L365.0,667.1 L365.5,667.1 L366.0,667.6 L366.5,667.8 L367.0,668.0 L367.5,667.3 L368.0,667.5 L368.5,666.8 L369.0,666.5 L369.5,667.1 L370.0,667.2 L370.5,666.8 L371.0,666.7 L371.5,667.7 L372.0,667.1 L372.5,666.7 L373.0,668.5 L373.5,667.6 L374.0,667.4 L374.5,667.8 L375.0,667.2 L375.5,668.2 L376.0,666.8 L376.5,666.9 L377.0,667.4 L377.5,667.2 L378.0,668.1 L378.5,666.8 L379.0,667.2 L379.5,667.6 L380.0,667.8 L380.5,667.9 L381.0,667.7 L381.5,668.5 L382.0,667.3 L382.5,667.6 L383.0,667.9 L383.5,667.4 L384.0,667.4 L384.5,667.3 L385.0,667.2 L385.5,667.0 L386.0,667.3 L386.5,666.8 L387.0,667.7 L387.5,666.8 L388.0,668.4 L388.5,668.3 L389.0,668.0 L389.5,667.4 L390.0,667.2 L390.5,668.1 L391.0,667.6 L391.5,667.8 L392.0,667.2 L392.5,668.0 L393.0,667.2 L393.5,667.6 L394.0,666.7 L394.5,667.2 L395.0,667.7 L395.5,667.3 L396.0,667.3 L396.5,667.9 L397.0,667.5 L397.5,668.1 L398.0,666.4 L398.5,667.8 L399.0,667.7 L399.5,666.8 L400.0,666.9 L400.5,667.9 L401.0,667.0 L401.5,667.2 L402.0,667.8 L402.5,667.4 L403.0,667.7 L403.5,667.1 L404.0,667.7 L404.5,668.0 L405.0,667.7 L405.5,666.5 L406.0,667.8 L406.5,667.5 L407.0,667.1 L407.5,668.1 L408.0,666.7 L408.5,668.4 L409.0,667.2 L409.5,668.2 L410.0,667.5 L410.5,666.9 L411.0,667.6 L411.5,667.7 L412.0,667.8 L412.5,668.0 L413.0,667.1 L413.5,667.7 L414.0,667.9 L414.5,667.4 L415.0,667.1 L415.5,667.1 L416.0,667.9 L416.5,667.9 L417.0,667.2 L417.5,666.9 L418.0,668.1 L418.5,666.8 L419.0,667.6 L419.5,667.2 L420.0,666.7 L420.5,667.6 L421.0,667.4 L421.5,668.2 L422.0,668.5 L422.5,667.4 L423.0,668.0 L423.5,668.0 L424.0,667.3 L424.5,667.1 L425.0,668.3 L425.5,667.4 L426.0,667.5 L426.5,667.4 L427.0,667.5 L427.5,667.3 L428.0,667.9 L428.5,668.1 L429.0,667.4 L429.5,666.9 L430.0,667.6 L430.5,666.9 L431.0,667.2 L431.5,668.1 L432.0,668.6 L432.5,667.7 L433.0,667.1 L433.5,667.9 L434.0,666.5 L434.5,667.2 L435.0,668.2 L435.5,667.9 L436.0,666.9 L436.5,666.8 L437.0,667.9 L437.5,667.5 L438.0,667.3 L438.5,667.7 L439.0,667.3 L439.5,666.7 L440.0,667.9 L440.5,667.2 L441.0,667.1 L441.5,666.9 L442.0,667.6 L442.5,667.2 L443.0,667.8 L443.5,667.4 L444.0,668.0 L444.5,667.4 L445.0,667.2 L445.5,666.6 L446.0,667.0 L446.5,667.9 L447.0,668.9 L447.5,667.0 L448.0,667.1 L448.5,667.7 L449.0,667.7 L449.5,667.2 L450.0,667.6 L450.5,666.8 L451.0,667.4 L451.5,667.9 L452.0,668.3 L452.5,667.4 L453.0,667.4 L453.5,667.7 L454.0,668.0 L454.5,667.7 L455.0,667.2 L455.5,667.7 L456.0,668.0 L456.5,667.2 L457.0,666.9 L457.5,667.7 L458.0,667.7 L458.5,667.9 L459.0,667.6 L459.5,667.2 L460.0,667.3 L460.5,667.1 L461.0,667.1 L461.5,667.3 L462.0,667.3 L462.5,668.0 L463.0,667.0 L463.5,667.5 L464.0,667.2 L464.5,668.2 L465.0,667.6 L465.5,667.3 L466.0,667.9 L466.5,667.5 L467.0,667.3 L467.5,668.2 L468.0,667.8 L468.5,668.3 L469.0,668.0 L469.5,667.8 L470.0,667.5 L470.5,667.0 L471.0,667.8 L471.5,667.5 L472.0,667.8 L472.5,667.5 L473.0,667.2 L473.5,667.0 L474.0,667.8 L474.5,668.1 L475.0,667.3 L475.5,667.7 L476.0,668.1 L476.5,667.1 L477.0,667.3 L477.5,667.0 L478.0,668.0 L478.5,667.6 L479.0,667.2 L479.5,666.7 L480.0,667.4 L480.5,667.9 L481.0,667.3 L481.5,667.2 L482.0,667.7 L482.5,666.9 L483.0,667.4 L483.5,667.7 L484.0,667.1 L484.5,667.0 L485.0,667.5 L485.5,667.4 L486.0,667.3 L486.5,667.5 L487.0,667.5 L487.5,667.0 L488.0,667.1 L488.5,667.6 L489.0,667.9 L489.5,668.0 L490.0,667.0 L490.5,667.8 L491.0,667.7 L491.5,667.3 L492.0,667.5 L492.5,667.7 L493.0,668.1 L493.5,666.8 L494.0,667.5 L494.5,667.2 L495.0,667.2 L495.5,667.8 L496.0,667.6 L496.5,666.8 L497.0,667.1 L497.5,667.3 L498.0,666.5 L498.5,667.5 L499.0,667.1 L499.5,667.2 L500.0,667.3 L500.5,667.9 L501.0,667.1 L501.5,666.9 L502.0,667.8 L502.5,666.8 L503.0,666.8 L503.5,666.3 L504.0,667.4 L504.5,667.0 L505.0,667.1 L505.5,666.9 L506.0,666.7 L506.5,666.4 L507.0,666.4 L507.5,666.9 L508.0,666.7 L508.5,667.3 L509.0,666.2 L509.5,666.3 L510.0,666.0 L510.5,667.0 L511.0,665.7 L511.5,666.6 L512.0,666.8 L512.5,666.0 L513.0,666.3 L513.5,664.9 L514.0,665.6 L514.5,664.9 L515.0,665.5 L515.5,665.3 L516.0,664.8 L516.5,665.4 L517.0,664.9 L517.5,664.3 L518.0,664.0 L518.5,663.3 L519.0,663.5 L519.5,664.2 L520.0,662.5 L520.5,662.6 L521.0,661.6 L521.5,661.6 L522.0,660.7 L522.5,659.6 L523.0,658.0 L523.5,657.5 L524.0,657.1 L524.2,656.0 L524.3,656.1 L524.4,655.3 L524.5,654.4 L524.5,655.3 L524.6,655.0 L524.7,654.3 L524.8,654.0 L524.9,654.0 L525.0,653.2 L525.0,653.5 L525.1,653.0 L525.2,651.7 L525.3,652.2 L525.4,651.6 L525.5,651.0 L525.5,651.4 L525.6,650.7 L525.7,650.6 L525.8,650.3 L525.9,649.3 L526.0,647.9 L526.0,648.0 L526.1,648.3 L526.2,647.0 L526.3,646.3 L526.4,645.4 L526.5,644.4 L526.5,644.0 L526.6,643.2 L526.7,641.9 L526.8,640.5 L526.9,638.8 L527.0,636.9 L527.0,636.2 L527.1,634.6 L527.2,632.0 L527.3,628.9 L527.4,625.3 L527.5,621.1 L527.5,619.8 L527.6,616.3 L527.7,611.0 L527.8,605.3 L527.9,599.6 L528.0,594.5 L528.0,593.3 L528.1,591.0 L528.2,589.7 L528.3,590.8 L528.4,594.2 L528.5,599.1 L528.5,600.8 L528.6,604.8 L528.7,610.5 L528.8,615.9 L528.9,620.8 L529.0,625.0 L529.0,626.2 L529.1,628.7 L529.2,631.8 L529.3,634.4 L529.4,636.7 L529.5,638.7 L529.5,639.2 L529.6,640.4 L529.7,641.8 L529.8,643.1 L529.9,644.3 L530.0,645.3 L530.0,645.6 L530.1,646.2 L530.2,647.1 L530.3,647.5 L530.4,648.5 L530.5,649.4 L530.5,649.5 L530.6,650.1 L530.7,650.0 L530.8,650.7 L530.9,651.2 L531.0,651.8 L531.0,651.0 L531.1,652.1 L531.2,652.1 L531.3,653.7 L531.4,654.1 L531.5,654.6 L531.5,654.3 L531.6,654.0 L531.7,654.9 L531.8,654.8 L531.9,655.4 L532.0,655.1 L532.0,655.3 L532.1,656.0 L532.5,657.7 L533.0,658.1 L533.5,660.1 L534.0,661.2 L534.5,660.2 L535.0,661.4 L535.5,661.6 L536.0,662.5 L536.5,662.7 L537.0,663.3 L537.5,664.2 L538.0,664.5 L538.5,664.4 L539.0,664.6 L539.5,664.9 L540.0,665.1 L540.5,665.4 L541.0,665.4 L541.5,665.7 L542.0,665.1 L542.5,666.1 L543.0,666.7 L543.5,666.1 L544.0,665.4 L544.5,666.8 L545.0,666.1 L545.5,665.0 L546.0,666.3 L546.5,666.7 L547.0,666.7 L547.5,667.1 L548.0,666.9 L548.5,666.7 L549.0,665.8 L549.5,666.2 L550.0,666.9 L550.5,667.1 L551.0,666.4 L551.5,666.6 L552.0,667.1 L552.5,666.1 L553.0,666.1 L553.5,666.9 L554.0,667.1 L554.5,666.8 L555.0,666.0 L555.5,667.1 L556.0,666.5 L556.5,667.4 L557.0,667.1 L557.5,667.2 L558.0,667.4 L558.5,666.9 L559.0,667.5 L559.5,667.7 L560.0,667.4 L560.5,667.8 L561.0,666.9 L561.5,667.6 L562.0,667.3 L562.5,666.8 L563.0,667.2 L563.5,667.0 L564.0,667.0 L564.5,667.3 L565.0,667.7 L565.5,667.1 L566.0,667.3 L566.5,666.6 L567.0,667.3 L567.5,667.7 L568.0,667.5 L568.5,667.4 L569.0,666.9 L569.5,666.7 L570.0,667.1 L570.5,666.5 L571.0,666.5 L571.5,667.4 L572.0,666.6 L572.5,667.7 L573.0,666.2 L573.5,667.0 L574.0,666.2 L574.5,666.7 L575.0,666.0 L575.5,666.4 L576.0,666.2 L576.5,665.9 L577.0,666.2 L577.5,666.4 L578.0,665.4 L578.5,665.9 L579.0,665.6 L579.5,665.5 L580.0,666.6 L580.5,664.8 L581.0,665.6 L581.5,665.3 L582.0,666.1 L582.5,666.3 L583.0,668.2 L583.5,666.8 L584.0,667.6 L584.5,667.4 L585.0,666.7 L585.5,667.2 L586.0,667.8 L586.5,667.2 L587.0,667.3 L587.5,667.4 L588.0,666.6 L588.5,666.9 L589.0,667.4 L589.5,667.6 L590.0,666.9 L590.5,667.2 L591.0,667.3 L591.5,667.3 L592.0,667.7 L592.5,667.5 L593.0,667.5 L593.5,666.8 L594.0,667.0 L594.5,667.6 L595.0,666.8 L595.5,667.6 L596.0,667.2 L596.5,667.1 L597.0,667.8 L597.5,667.2 L598.0,667.1 L598.5,667.2 L599.0,667.6 L599.5,668.8 L600.0,666.6 L600.5,667.5 L601.0,667.4 L601.5,668.0 L602.0,667.4 L602.5,666.5 L603.0,668.1 L603.5,667.1 L604.0,667.5 L604.5,667.0 L605.0,667.1 L605.5,667.3 L606.0,668.0 L606.5,668.0 L607.0,667.3 L607.5,667.8 L608.0,667.4 L608.5,667.6 L609.0,667.7 L609.5,667.9 L610.0,667.3 L610.5,667.5 L611.0,667.7 L611.5,667.6 L612.0,667.2 L612.5,668.4 L613.0,667.4 L613.5,667.9 L614.0,667.7 L614.5,668.1 L615.0,666.6 L615.5,668.5 L616.0,667.5 L616.5,667.1 L617.0,667.7 L617.5,668.6 L618.0,667.8 L618.5,667.1 L619.0,667.4 L619.5,668.2 L620.0,667.0 L620.5,667.5 L621.0,667.5 L621.5,668.6 L622.0,667.5 L622.5,668.2" stroke="#e80a0a"/>
</g>
<rect x="89" y="17" width="534.5" height="713" fill="none" stroke="#000" stroke-width="3"/>
<g stroke="#000" stroke-width="2.8"><line x1="89.0" y1="730" x2="89.0" y2="714.5"/><line x1="133.6" y1="730" x2="133.6" y2="722.5"/><line x1="178.1" y1="730" x2="178.1" y2="714.5"/><line x1="222.7" y1="730" x2="222.7" y2="722.5"/><line x1="267.2" y1="730" x2="267.2" y2="714.5"/><line x1="311.8" y1="730" x2="311.8" y2="722.5"/><line x1="356.3" y1="730" x2="356.3" y2="714.5"/><line x1="400.9" y1="730" x2="400.9" y2="722.5"/><line x1="445.4" y1="730" x2="445.4" y2="714.5"/><line x1="489.9" y1="730" x2="489.9" y2="722.5"/><line x1="534.5" y1="730" x2="534.5" y2="714.5"/><line x1="579.0" y1="730" x2="579.0" y2="722.5"/><line x1="623.6" y1="730" x2="623.6" y2="714.5"/></g>
<g font-size="40" fill="#000"><text x="89.0" y="778" text-anchor="middle">20</text><text x="178.1" y="778" text-anchor="middle">30</text><text x="267.2" y="778" text-anchor="middle">40</text><text x="356.3" y="778" text-anchor="middle">50</text><text x="445.4" y="778" text-anchor="middle">60</text><text x="534.5" y="778" text-anchor="middle">70</text><text x="623.6" y="778" text-anchor="middle">80</text></g>
<text x="98" y="71.5" font-size="43.5">(a)</text>
<text x="544" y="86.5" font-size="43.5">Si</text>
<text transform="translate(238,260) rotate(-90)" font-size="42"><tspan font-style="italic">fcc</tspan> 111</text>
<text x="295.8" y="240.8" font-size="43.3">Nb<tspan font-size="30" dy="10.5">x</tspan><tspan dy="-10.5">Ti</tspan><tspan font-size="30" dy="10.5">1-x</tspan><tspan dy="-10.5">N</tspan></text>
<g font-size="39" text-anchor="middle">
<text x="370" y="301">0.84</text>
<text x="373.5" y="371.5">0.72</text>
<text x="376.5" y="449">0.65</text>
<text x="374.7" y="518">0.59</text>
<text x="375.5" y="581.5">0.54</text>
<text x="374.5" y="654.5">0.44</text>
</g>
<text transform="translate(37,579) rotate(-90)" font-size="47">Intensity (arb. units)</text>
<text x="301" y="854" font-size="47">2<tspan font-family="Liberation Serif" font-size="48">θ (°)</tspan></text>
<!-- panel b -->
<line x1="826.0" y1="224.3" x2="1473.5" y2="78.9" stroke="#888" stroke-width="2.5" stroke-dasharray="13.2 15.2" stroke-linecap="round"/>
<g fill="none" stroke="#111" stroke-width="1.8"><rect x="869.8" y="193.3" width="16" height="16"/><rect x="999.3" y="176.7" width="16" height="16"/><rect x="1064.0" y="167.8" width="16" height="16"/><rect x="1141.8" y="144.7" width="16" height="16"/><rect x="1232.4" y="124.3" width="16" height="16"/><rect x="1387.8" y="89.3" width="16" height="16"/></g>
<rect x="826" y="17" width="647.5" height="244.3" fill="none" stroke="#000" stroke-width="2.8"/>
<g stroke="#000" stroke-width="2.8"><line x1="826.0" y1="261.3" x2="826.0" y2="277.1"/><line x1="890.8" y1="261.3" x2="890.8" y2="269.1"/><line x1="955.5" y1="261.3" x2="955.5" y2="277.1"/><line x1="1020.2" y1="261.3" x2="1020.2" y2="269.1"/><line x1="1085.0" y1="261.3" x2="1085.0" y2="277.1"/><line x1="1149.8" y1="261.3" x2="1149.8" y2="269.1"/><line x1="1214.5" y1="261.3" x2="1214.5" y2="277.1"/><line x1="1279.2" y1="261.3" x2="1279.2" y2="269.1"/><line x1="1344.0" y1="261.3" x2="1344.0" y2="277.1"/><line x1="1408.8" y1="261.3" x2="1408.8" y2="269.1"/><line x1="1473.5" y1="261.3" x2="1473.5" y2="277.1"/><line x1="826" y1="261.3" x2="809.2" y2="261.3"/><line x1="826" y1="220.6" x2="817.6" y2="220.6"/><line x1="826" y1="179.9" x2="809.2" y2="179.9"/><line x1="826" y1="139.1" x2="817.6" y2="139.1"/><line x1="826" y1="98.4" x2="809.2" y2="98.4"/><line x1="826" y1="57.7" x2="817.6" y2="57.7"/><line x1="826" y1="17.0" x2="809.2" y2="17.0"/></g>
<g font-size="36"><text x="826.0" y="316" text-anchor="middle">0.4</text><text x="955.5" y="316" text-anchor="middle">0.5</text><text x="1085.0" y="316" text-anchor="middle">0.6</text><text x="1214.5" y="316" text-anchor="middle">0.7</text><text x="1344.0" y="316" text-anchor="middle">0.8</text><text x="1473.5" y="316" text-anchor="middle">0.9</text><text x="799.5" y="272.5" text-anchor="end">4.30</text><text x="799.5" y="191.1" text-anchor="end">4.35</text><text x="799.5" y="109.6" text-anchor="end">4.40</text><text x="799.5" y="28.2" text-anchor="end">4.45</text></g>
<text x="846.5" y="69" font-size="43.5">(b)</text>
<text x="1129" y="360" font-size="42" text-anchor="middle">x</text>
<text transform="translate(691,183) rotate(-90)" font-size="42"><tspan font-style="italic">a</tspan> (Å)</text>
<!-- panel c -->
<rect x="725" y="392.5" width="361.5" height="360.5" fill="#888"/>
<g clip-path="url(#cc)"><g filter="url(#tb)"><path fill="#3e3e3e" d="M715 382L710 385L707 395L712 402L722 385Z"/><path fill="#434343" d="M722 385L723 385L727 398L727 399L714 404L713 404L712 402ZM706 694L712 705L712 705L720 699L716 691ZM729 727L728 728L730 737L739 744L741 743L741 743L739 729L733 726ZM720 743L724 749L719 758L717 758L707 751L714 742L715 740Z"/><path fill="#484848" d="M721 457L717 469L713 472L706 461L706 460ZM719 671L731 680L732 683L731 686L721 687L715 675L718 671ZM730 699L731 697L731 686L721 687L717 689L716 691L720 699L727 700ZM721 713L721 713L712 705L720 699L727 700ZM729 714L735 713L738 710L730 699L727 700L721 713ZM721 713L712 705L712 705L705 710L709 719L718 720ZM729 714L729 727L733 726L734 723L735 713ZM730 737L720 743L715 740L715 735L721 727L728 728ZM743 762L747 765L745 776L729 761L731 759Z"/><path fill="#4d4d4d" d="M753 377L753 377L753 373L750 371L739 374L739 384L743 385ZM735 387L738 396L727 398L723 385L726 383ZM789 394L790 395L803 390L796 383L791 386ZM724 415L719 414L714 404L727 399L732 411L732 413ZM744 417L740 403L739 402L732 411L732 413L741 418ZM753 427L743 430L738 425L741 418L744 417L749 417ZM738 449L730 450L729 440L732 439L733 439ZM721 457L718 446L704 452L706 460L721 457ZM725 468L730 476L733 476L739 461L739 461L730 458L728 459ZM743 455L756 460L753 465L747 467L739 461L739 461L742 455ZM760 489L765 482L772 479L774 480L775 484L771 493ZM716 566L718 560L725 556L729 558L726 572ZM719 671L728 663L723 655L718 653L715 656L713 665L718 671ZM735 663L732 647L723 655L728 663ZM766 656L768 658L764 662L757 665L749 653L749 651L754 650L755 651ZM719 671L728 663L735 663L736 664L731 680ZM744 670L739 683L744 685L748 676ZM729 714L729 727L728 728L721 727L718 720L721 713L721 713ZM780 711L776 709L775 709L768 718L772 727L774 727L782 716L782 715ZM735 713L734 723L745 716L744 711L738 710ZM778 738L779 732L774 727L772 727L770 729L763 733L776 743ZM741 743L747 747L747 765L747 765L743 762L734 750L739 744ZM743 762L734 750L733 750L731 759Z"/><path fill="#525252" d="M759 392L755 392L753 377L753 377L761 383ZM732 411L727 399L727 398L738 396L738 396L739 402ZM829 411L817 400L822 394L825 395ZM753 411L754 409L766 405L769 407L770 416L766 420ZM738 425L733 428L728 424L724 415L732 413L741 418ZM714 425L716 427L716 441L708 437L707 435ZM728 424L721 430L726 440L729 440L732 439L733 428ZM721 457L728 459L730 458L730 450L729 440L726 440L719 444L718 446ZM721 457L728 459L725 468L717 469L721 457ZM756 460L758 459L765 465L758 471L753 465ZM739 461L733 476L743 483L747 482L747 467ZM713 495L713 486L722 488L722 502L720 502ZM733 476L730 476L725 480L724 486L733 489L741 485L743 483ZM739 501L738 501L741 485L743 483L747 482L748 482L755 491L755 493L749 500ZM710 526L716 519L716 519L725 523L723 529L715 533L713 532ZM706 538L706 541L714 547L723 544L715 533L713 532ZM715 533L723 544L724 545L732 540L723 529ZM732 540L734 540L737 542L731 558L729 558L725 556L724 545ZM797 565L797 566L797 569L795 574L784 574L781 564ZM711 600L710 599L708 593L714 586L718 585L722 594L722 594L714 600ZM734 590L722 594L722 594L729 607L737 600ZM711 600L710 612L716 614L720 608L714 600ZM747 603L747 612L737 618L732 616L729 608L729 607L737 600ZM769 603L769 603L758 614L756 614L757 601ZM749 628L752 622L752 615L747 612L737 618L742 630L745 631ZM736 632L731 629L724 627L722 629L729 640ZM729 640L718 644L715 630L722 629L729 640ZM729 640L718 644L717 645L718 653L723 655L732 647L733 647L731 644ZM768 645L766 656L755 651L767 645ZM709 679L715 675L721 687L717 689ZM783 682L794 680L795 674L782 668L783 682ZM732 683L739 683L744 685L746 686L744 696L731 697L731 686ZM733 726L739 729L747 724L745 716L734 723ZM741 743L756 731L761 734L761 737L750 747L747 747L741 743ZM739 744L734 750L733 750L724 749L720 743L730 737ZM779 750L776 756L776 757L762 751L764 745L776 746ZM731 759L729 761L726 763L719 758L724 749L733 750ZM775 757L762 762L758 760L760 753L762 751L776 757ZM775 766L775 757L762 762L768 775Z"/><path fill="#575757" d="M731 371L739 374L739 384L735 387L726 383L730 373ZM765 392L764 393L759 392L761 383L767 386ZM767 386L761 383L753 377L753 373L757 371L772 376L773 378ZM753 377L755 392L752 394L747 393L743 385ZM781 385L781 389L789 394L791 386L784 383ZM749 417L753 411L754 409L753 407L740 403L744 417ZM724 415L719 414L713 423L714 425L716 427L721 430L728 424ZM753 427L755 429L765 426L766 420L753 411L749 417ZM765 426L766 427L780 425L775 417L770 416L766 420ZM800 418L797 413L786 415L786 427ZM753 427L755 429L755 430L750 442L743 438L743 430ZM755 429L755 430L766 443L770 439L766 427L765 426ZM785 428L784 434L774 439L770 439L766 427L780 425L785 428ZM743 438L733 439L738 449L742 455L743 455L752 445L750 442ZM764 445L766 443L770 439L774 439L780 451L780 455L780 456ZM742 455L739 461L730 458L730 450L738 449ZM743 455L756 460L758 459L760 449L760 448L752 445ZM760 448L764 445L780 456L777 461L775 462L760 449ZM768 472L769 465L765 465L758 471L758 474L761 475ZM807 459L809 462L801 470L795 469L794 465L795 463ZM713 473L705 482L713 486L722 488L724 486L725 480ZM717 469L713 472L713 473L725 480L730 476L725 468ZM777 461L779 465L782 476L774 480L772 479L768 472L769 465L775 462ZM794 465L779 465L782 476L790 479L795 469ZM783 490L790 479L794 482L795 487L793 491L783 492ZM738 501L733 501L733 489L741 485ZM755 493L762 501L766 503L776 499L771 493L760 489L755 491ZM783 492L793 491L789 501L781 498ZM778 517L777 516L776 500L781 498L789 501L792 504L792 508ZM754 526L749 523L736 529L736 533L754 532ZM771 535L765 524L777 525ZM756 536L755 535L739 543L745 552L748 553L756 548ZM739 543L737 542L731 558L737 560L745 552ZM743 585L739 572L732 585L735 589ZM758 569L753 567L749 569L749 581L756 581L760 577ZM727 573L739 570L739 572L732 585L726 578ZM714 600L722 594L729 607L729 608L720 608ZM781 603L774 601L769 603L769 603L769 603L772 616L775 618L785 613L787 610ZM720 608L729 608L732 616L732 617L727 620L716 617L716 614ZM742 630L737 618L732 616L732 617L731 629L736 632ZM763 624L764 621L758 614L756 614L752 615L752 622ZM722 629L724 627L727 620L716 617L712 628L715 630ZM764 630L763 624L752 622L749 628ZM764 630L763 624L764 621L772 616L775 618L778 627L773 632L765 631ZM745 631L742 630L736 632L729 640L729 640L731 644L747 637L747 636ZM762 637L762 637L754 650L749 651L747 648L747 637L747 636ZM736 664L735 663L732 647L733 647L747 648L749 651L749 653L739 664ZM767 645L762 637L754 650L755 651ZM732 683L739 683L744 670L745 669L739 664L736 664L731 680ZM744 670L745 669L756 670L760 678L748 676ZM794 696L799 690L799 684L794 680L783 682ZM748 704L753 700L759 689L758 686L746 686L744 696ZM730 699L731 697L744 696L748 704L747 709L744 711L738 710ZM763 704L753 700L748 704L747 709L760 713L764 707ZM744 711L745 716L747 724L754 727L759 718L760 714L760 713L747 709ZM764 707L760 713L760 714L768 718L775 709ZM795 713L797 720L789 726L782 716L782 715ZM741 743L756 731L754 727L747 724L739 729ZM776 743L763 733L761 734L761 737L764 745L776 746ZM762 751L764 745L761 737L750 747L760 753Z"/><path fill="#5c5c5c" d="M781 385L773 378L767 386L765 392L776 395L781 389ZM764 393L766 405L754 409L753 407L752 394L755 392L759 392ZM769 407L766 405L764 393L765 392L776 395L778 402ZM789 394L790 395L790 402L782 405L778 402L776 395L781 389ZM775 417L783 412L782 405L778 402L769 407L770 416ZM786 427L786 415L783 412L775 417L780 425L785 428ZM743 430L743 438L733 439L732 439L733 428L738 425ZM826 427L828 444L823 445L816 438L820 429ZM726 440L721 430L716 427L716 441L719 444ZM768 472L772 479L765 482L761 475ZM811 464L810 478L822 477L823 474L812 464ZM838 476L824 480L822 477L823 474L829 466ZM755 491L748 482L758 474L761 475L765 482L760 489ZM752 508L756 510L762 501L755 493L749 500ZM776 499L776 500L781 498L783 492L783 490L775 484L771 493ZM803 498L792 504L789 501L793 491L795 487L804 494ZM712 508L720 502L722 502L725 503L728 511L716 519L716 519ZM740 515L732 519L728 511L725 503L733 501L738 501L739 501ZM766 503L765 512L769 515L777 516L776 500L776 499ZM806 516L814 511L814 507L807 504L800 515ZM731 521L725 523L716 519L728 511L732 519ZM754 526L749 523L745 516L752 508L756 510L759 513L756 525ZM777 525L779 522L778 517L777 516L769 515L764 524L765 524ZM723 529L725 523L731 521L736 529L736 533L734 540L732 540ZM754 532L736 533L734 540L737 542L739 543L755 535ZM723 544L714 547L711 554L718 560L725 556L724 545ZM766 560L779 559L780 563L773 569L766 566ZM748 553L745 552L737 560L739 569L749 569L753 567L752 563ZM709 570L716 566L726 572L727 573L726 578L719 581L708 571ZM719 581L718 585L722 594L734 590L735 589L732 585L726 578ZM759 588L756 581L749 581L744 586L752 596ZM768 580L773 576L779 579L783 586L778 590L768 586ZM797 601L798 600L799 586L794 583L787 587L789 596ZM797 601L789 596L781 603L787 610L796 608ZM782 628L784 639L795 635L790 627ZM765 631L773 632L777 643L777 644L768 645L767 645L762 637L762 637ZM782 628L778 627L773 632L777 643L780 643L784 639ZM745 669L756 670L757 665L749 653L739 664ZM774 660L777 665L781 666L787 663L791 653L778 653ZM806 649L814 661L812 665L807 667L802 666L796 650L796 650ZM799 684L807 680L807 678L807 667L802 666L799 668L795 674L794 680ZM748 676L760 678L760 679L758 686L746 686L744 685ZM778 688L764 693L759 689L758 686L760 679L767 677L779 684ZM780 695L775 700L766 697L764 693L778 688ZM776 709L775 709L764 707L763 704L766 697L775 700ZM780 711L776 709L775 700L780 695L789 699ZM796 711L794 701L793 699L789 699L780 711L782 715L795 713ZM774 727L782 716L789 726L787 733L779 732ZM792 737L787 733L789 726L797 720L801 723L801 728ZM792 737L802 743L807 737L807 734L801 728L792 737Z"/><path fill="#616161" d="M784 383L790 375L794 374L796 383L791 386ZM743 385L739 384L735 387L738 396L738 396L747 393ZM822 394L817 400L813 403L812 403L804 392L803 390L813 381L816 381L816 381ZM753 407L752 394L747 393L738 396L739 402L740 403ZM803 390L803 390L804 392L796 405L790 402L790 395ZM806 422L808 421L810 404L797 407L797 413L800 418ZM805 426L799 431L797 431L785 428L785 428L786 427L800 418L806 422ZM750 442L752 445L760 448L764 445L766 443L755 430ZM784 434L774 439L780 451L789 442ZM797 431L792 443L797 447L803 441L799 431ZM760 449L758 459L765 465L769 465L775 462ZM807 456L797 448L792 455L795 463L807 459ZM795 463L794 465L779 465L777 461L780 456L780 455L792 455ZM747 467L747 482L748 482L758 474L758 471L753 465ZM783 490L790 479L790 479L782 476L774 480L775 484ZM724 486L733 489L733 501L725 503L722 502L722 488ZM745 516L752 508L749 500L739 501L740 515ZM762 501L756 510L759 513L765 512L766 503ZM749 523L745 516L740 515L732 519L731 521L736 529ZM756 525L759 513L765 512L769 515L764 524ZM779 522L787 527L796 520L798 515L792 508L778 517ZM806 516L811 523L810 525L802 528L796 520L798 515L800 515ZM840 516L840 517L851 526L856 520L857 518L845 512ZM771 535L771 537L756 536L755 535L754 532L754 526L756 525L764 524L765 524ZM786 540L772 538L771 537L771 535L777 525L779 522L787 527L789 536ZM801 536L802 528L796 520L787 527L789 536ZM756 536L771 537L772 538L770 550L765 552L756 548ZM756 548L748 553L752 563L765 556L765 552ZM817 545L818 546L820 564L813 557L813 547ZM726 572L729 558L731 558L737 560L739 569L739 570L727 573ZM744 586L749 581L749 569L739 569L739 570L739 572L743 585ZM766 566L758 569L760 577L768 580L773 576L773 569ZM780 563L781 564L784 574L779 579L773 576L773 569ZM819 583L821 589L812 592L811 592L804 587L808 579L812 577ZM769 603L757 601L752 598L752 596L759 588L765 589L769 603ZM769 603L774 601L778 590L768 586L765 589ZM781 603L774 601L778 590L783 586L787 587L789 596ZM752 598L747 603L747 612L752 615L756 614L757 601ZM769 603L772 616L764 621L758 614ZM732 617L731 629L724 627L727 620ZM815 621L813 621L807 624L804 633L813 638ZM747 637L747 648L733 647L731 644ZM768 645L777 644L778 653L774 660L768 658L766 656ZM768 675L777 665L774 660L768 658L764 662ZM837 655L833 663L834 664L847 666L850 662L850 654L848 652ZM757 665L764 662L768 675L767 677L760 679L760 678L756 670ZM822 679L807 678L807 667L812 665L821 671L822 677ZM851 680L847 676L847 666L850 662L857 665L857 677ZM815 688L821 686L822 679L807 678L807 680ZM763 704L753 700L759 689L764 693L766 697ZM831 703L826 690L823 688L820 700ZM831 704L835 701L840 691L836 687L826 690L831 703ZM796 711L808 709L810 721L801 723L797 720L795 713ZM763 733L761 734L756 731L754 727L759 718L770 729ZM772 727L768 718L760 714L759 718L770 729ZM801 728L801 723L810 721L812 722L817 728L807 734ZM788 744L792 737L792 737L787 733L779 732L778 738ZM848 732L855 744L854 745L849 748L836 736L835 733ZM788 744L778 738L776 743L776 746L779 750L787 748ZM788 744L792 737L802 743L804 752L799 757L796 757L787 748ZM864 753L854 745L849 748L848 754L848 755L860 756L864 755ZM760 753L750 747L747 747L747 765L758 760ZM776 756L776 757L775 757L775 766L787 771L789 762ZM804 752L799 757L803 767L815 763L807 752ZM848 755L860 756L854 765L848 764L846 761Z"/><path fill="#666666" d="M861 398L849 389L846 392L849 403L855 405L861 401ZM812 403L804 392L796 405L797 407L810 404ZM782 405L790 402L796 405L797 407L797 413L786 415L783 412ZM837 406L845 405L843 420L832 413ZM867 404L867 419L863 420L855 416L855 405L861 401ZM831 413L829 414L827 427L831 429L843 420L843 420L832 413ZM805 426L812 439L816 438L820 429L812 422L808 421L806 422ZM831 429L837 434L844 432L844 421L843 420ZM869 427L863 435L856 431L856 431L863 420L867 419L869 420ZM834 445L837 434L831 429L827 427L826 427L828 444L833 446ZM850 464L857 465L858 468L848 477L844 475L844 466ZM795 469L790 479L790 479L794 482L806 478L801 470ZM810 491L809 479L806 478L794 482L795 487L804 494ZM824 489L825 485L824 480L822 477L810 478L809 479L810 491L819 494ZM843 494L837 484L839 477L844 475L848 477L850 482L844 493ZM844 493L850 482L852 482L862 496L858 499ZM807 504L803 498L804 494L810 491L819 494L820 502L814 507ZM800 515L798 515L792 508L792 504L803 498L807 504ZM840 516L833 506L842 501L845 507L845 512L840 516ZM821 518L828 508L833 518L826 525ZM787 543L781 552L779 554L770 550L772 538L786 540ZM872 555L868 556L867 556L861 543L862 538L867 535L869 538ZM796 558L781 552L779 554L779 558ZM791 546L798 558L799 557L806 546L804 543ZM766 560L765 556L752 563L753 567L758 569L766 566ZM765 552L765 556L766 560L779 559L779 558L779 554L770 550ZM779 559L779 558L796 558L798 558L797 565L781 564L780 563ZM814 568L808 558L799 557L798 558L798 558L797 565L797 566L814 568ZM814 568L797 566L797 569L808 579L812 577ZM835 570L841 568L847 570L850 579L849 580L840 580ZM765 589L768 586L768 580L760 577L756 581L759 588ZM794 583L795 574L784 574L779 579L783 586L787 587ZM752 598L747 603L737 600L734 590L735 589L743 585L744 586L752 596ZM812 592L819 606L811 606L808 598L811 592ZM825 594L838 601L839 602L838 603L822 610L820 607ZM782 628L778 627L775 618L785 613L791 626L790 627ZM838 603L822 610L823 616L833 618L837 610ZM764 630L749 628L745 631L747 636L762 637L765 631ZM790 627L791 626L799 620L807 624L804 633L796 636L795 635ZM811 644L816 641L813 638L804 633L796 636L796 636ZM816 641L813 638L815 621L818 621L826 634L816 641ZM832 648L827 650L817 643L816 641L826 634L830 634L834 642ZM794 650L791 653L778 653L777 644L777 643L780 643ZM806 649L796 650L796 636L811 644ZM806 649L814 661L817 658L817 643L816 641L816 641L811 644ZM824 657L817 658L817 643L827 650ZM885 644L875 642L874 655L880 658ZM779 684L767 677L768 675L777 665L781 666L782 668L783 682ZM799 690L810 694L815 688L807 680L799 684ZM840 691L845 692L851 688L852 683L851 680L847 676L837 678L836 687ZM789 699L780 695L778 688L779 684L783 682L783 682L794 696L793 699ZM793 699L794 696L799 690L810 694L811 700L794 701ZM812 703L820 700L823 688L821 686L815 688L810 694L811 700ZM796 711L808 709L812 705L812 703L811 700L794 701ZM812 705L818 710L831 707L831 704L831 703L820 700L812 703ZM818 710L819 715L829 721L832 707L831 707ZM829 721L831 729L822 731L817 728L812 722L819 715ZM807 737L816 741L822 731L817 728L807 734ZM852 730L861 731L864 735L855 744L848 732ZM787 748L796 757L789 762L776 756L779 750ZM815 749L818 751L821 757L817 764L815 763L807 752Z"/><path fill="#6b6b6b" d="M796 383L794 374L795 372L805 373L813 381L803 390L803 390ZM836 387L841 391L846 392L849 389L855 380L855 379L851 373L842 374L840 375L835 381ZM863 387L877 377L877 376L870 374L855 379L855 380ZM827 394L836 387L835 381L826 379L816 381L822 394L825 395ZM827 394L836 387L841 391L836 403ZM864 390L863 387L877 377L879 382L871 391ZM883 389L884 392L896 395L895 385L890 385L883 386ZM831 413L832 413L837 406L836 403L827 394L825 395L829 411ZM836 403L841 391L846 392L849 403L846 405L845 405L837 406ZM864 390L863 387L855 380L849 389L861 398ZM864 390L861 398L861 401L867 404L875 403L874 394L871 391ZM812 403L813 403L820 414L812 422L808 421L810 404ZM831 413L829 414L820 414L813 403L817 400L829 411ZM849 419L856 431L863 420L855 416ZM878 422L883 420L892 421L881 428ZM797 431L792 443L789 442L784 434L785 428ZM805 426L812 439L810 440L803 441L799 431ZM869 427L863 435L865 439L877 435ZM807 456L811 454L810 440L803 441L797 447L797 448ZM811 454L819 452L823 445L816 438L812 439L810 440ZM851 447L834 445L837 434L844 432L850 435ZM865 439L865 444L851 448L851 447L850 435L856 431L863 435ZM877 435L865 439L865 444L870 449L877 448L878 435ZM797 448L797 447L792 443L789 442L780 451L780 455L792 455ZM807 456L811 454L819 452L823 460L812 464L811 464L809 462L807 459ZM833 446L828 444L823 445L819 452L823 460L829 463L834 460ZM848 453L851 449L851 448L851 447L834 445L833 446L834 460L838 461ZM867 457L859 460L851 449L851 448L865 444L870 449ZM801 470L806 478L809 479L810 478L811 464L809 462ZM829 466L823 474L812 464L823 460L829 463ZM844 466L844 475L839 477L838 476L829 466L829 463L834 460L838 461ZM843 494L837 484L825 485L824 489L832 494L843 494ZM874 482L876 495L879 496L889 487L887 482L885 479L881 476ZM828 506L829 506L832 494L824 489L819 494L820 502ZM845 507L857 504L858 499L844 493L843 494L843 494L842 501ZM856 481L864 482L864 495L862 496L852 482ZM868 515L871 516L883 504L879 496L876 495L869 497ZM840 516L833 518L828 508L828 506L829 506L833 506ZM823 534L816 532L810 525L811 523L819 517L821 518L826 525L826 530L823 534ZM816 532L803 537L801 536L802 528L810 525ZM806 516L811 523L819 517L814 511ZM844 542L845 540L846 530L840 528L832 530L843 542ZM851 527L846 530L840 528L840 517L851 526ZM851 527L846 530L845 540L860 538ZM791 546L804 543L803 537L801 536L789 536L786 540L787 543ZM813 547L813 557L808 558L799 557L806 546ZM838 545L832 544L827 553L829 559L838 556ZM824 565L829 559L827 553L818 546L820 564L820 565ZM825 567L828 569L835 570L841 568L840 557L838 556L829 559L824 565ZM850 556L851 557L851 564L847 570L841 568L840 557ZM825 567L819 583L812 577L814 568L814 568L820 565L824 565ZM831 584L828 569L835 570L840 580L836 584ZM836 584L840 593L847 588L849 580L840 580ZM852 595L847 588L849 580L850 579L853 580L860 582L862 584ZM811 592L808 598L798 600L799 586L804 587ZM812 592L819 606L820 607L825 594L823 590L821 589ZM880 599L888 587L893 590L894 591L894 600L883 601ZM797 601L798 600L808 598L811 606L807 610L799 610L796 608ZM796 608L799 610L799 620L791 626L785 613L787 610ZM807 610L813 621L807 624L799 620L799 610ZM811 606L819 606L820 607L822 610L823 616L818 621L815 621L813 621L807 610ZM837 610L833 618L835 621L845 618ZM835 629L830 634L826 634L818 621L823 616L833 618L835 621ZM842 630L845 634L859 631L858 626L849 623ZM870 632L859 631L859 631L858 626L860 623L873 621L877 624ZM796 650L796 650L794 650L780 643L784 639L795 635L796 636L796 636ZM832 648L837 655L848 652L846 644L834 642ZM858 651L850 654L848 652L846 644L846 644L859 638L861 642ZM796 650L794 650L791 653L787 663L799 668L802 666ZM866 656L865 665L857 665L850 662L850 654L858 651ZM799 668L787 663L781 666L782 668L795 674ZM883 672L880 666L868 668L867 677L869 680ZM836 687L837 678L835 677L822 677L822 679L821 686L823 688L826 690ZM869 680L867 677L857 677L851 680L852 683L865 687L869 682ZM835 701L840 691L845 692L848 703ZM831 704L835 701L848 703L851 706L847 709L835 709L832 707L831 707ZM808 709L810 721L812 722L819 715L818 710L812 705ZM835 709L842 720L843 720L847 709ZM832 707L829 721L831 729L835 731L842 720L835 709ZM862 722L873 721L876 730L864 735L864 735L861 731ZM835 731L831 729L822 731L816 741L816 744L833 744L836 736L835 733ZM802 743L804 752L807 752L815 749L816 744L816 741L807 737ZM816 744L833 744L832 747L818 751L815 749ZM832 757L821 757L818 751L832 747L833 750ZM880 748L881 753L879 756L866 758L864 755L864 753L869 745L877 745ZM832 757L833 750L848 754L848 755L846 761L833 761ZM866 758L864 755L860 756L854 765L861 770L867 763ZM866 758L879 756L881 767L877 769L867 763Z"/><path fill="#707070" d="M895 385L899 381L903 383L906 397L905 398L896 396L896 395ZM881 405L884 392L896 395L896 396L888 407L887 407ZM869 420L867 419L867 404L875 403L881 405L874 420ZM892 421L897 421L898 416L888 407L887 407L883 420ZM932 421L933 415L923 415L922 426L930 429ZM943 430L937 415L950 419L951 426L947 430L944 431ZM850 435L844 432L844 421L848 419L849 419L856 431L856 431ZM905 440L903 432L897 431L893 436L893 437L897 444L904 444ZM905 440L903 432L913 432L917 438L914 440ZM878 435L877 448L882 450L885 448L893 437L893 436L882 433ZM885 448L897 454L897 444L893 437ZM850 464L857 465L859 460L851 449L848 453ZM850 464L848 453L838 461L844 466ZM872 468L871 462L882 458L886 463L881 472ZM837 484L825 485L824 480L838 476L839 477ZM864 482L866 480L874 482L876 495L869 497L864 495ZM922 483L923 483L922 481L906 481L902 488L906 491L910 490ZM833 506L829 506L832 494L843 494L842 501ZM814 511L819 517L821 518L828 508L828 506L820 502L814 507ZM845 512L857 518L861 515L857 504L845 507ZM857 504L861 515L868 515L869 497L864 495L862 496L858 499ZM921 509L920 511L910 516L904 511L903 507L906 504ZM826 530L832 530L840 528L840 517L840 516L840 516L833 518L826 525ZM791 546L798 558L798 558L796 558L781 552L787 543ZM823 534L817 545L813 547L806 546L804 543L803 537L816 532ZM823 534L817 545L818 546L827 553L832 544L823 534ZM867 556L851 557L851 564L859 568L862 567L867 565L868 556ZM825 567L828 569L831 584L823 590L821 589L819 583ZM860 582L862 567L859 568L853 580ZM823 590L831 584L836 584L840 593L838 601L825 594ZM838 601L839 602L845 603L852 596L852 595L847 588L840 593ZM839 602L845 603L850 609L846 618L845 618L837 610L838 603ZM858 598L852 596L845 603L850 609L855 610ZM859 598L867 608L859 612L855 610L858 598ZM880 599L878 598L873 599L868 607L871 611L883 611L883 601ZM895 611L900 614L911 612L910 601L896 602ZM925 606L911 600L910 601L911 612L912 612L927 612L926 607L926 606ZM846 618L849 623L842 630L835 629L835 621L845 618ZM834 642L830 634L835 629L842 630L845 634L846 644L846 644ZM859 631L859 631L845 634L846 644L859 638ZM874 640L874 641L868 644L861 642L859 638L859 631L870 632ZM874 640L874 641L875 642L885 644L885 644L886 636L883 629ZM866 656L858 651L861 642L868 644L867 655ZM885 644L880 658L882 661L882 661L890 650L887 645L885 644ZM880 658L874 655L867 655L866 656L865 665L868 668L880 666L882 661ZM914 663L902 653L898 657L896 661L897 664L906 670ZM837 678L847 676L847 666L834 664L835 677ZM872 710L876 713L877 713L888 706L887 700L876 696L870 699L870 703ZM894 696L902 703L901 704L893 709L888 706L887 700L890 696ZM847 709L843 720L852 720L855 718L854 708L852 706L851 706ZM893 709L895 715L889 724L877 713L888 706ZM852 730L861 731L862 722L862 721L855 718L852 720ZM873 721L876 713L877 713L889 724L888 729L881 732L876 730ZM895 715L889 724L888 729L894 732L902 731L904 729L905 718ZM864 735L864 735L869 745L864 753L854 745L855 744ZM881 734L881 732L876 730L864 735L869 745L877 745ZM894 744L894 732L902 731L906 743L895 746ZM848 754L849 748L836 736L833 744L832 747L833 750ZM888 744L894 744L895 746L895 752L890 755L881 753L880 748ZM895 752L900 756L901 764L890 769L890 769L890 755ZM901 764L902 765L911 763L910 752L900 756Z"/><path fill="#757575" d="M849 419L848 419L846 405L849 403L855 405L855 416ZM827 427L826 427L820 429L812 422L820 414L829 414ZM882 433L893 436L897 431L897 421L892 421L881 428ZM904 444L897 444L897 454L898 456L901 456L908 449L908 448ZM859 469L866 473L872 468L871 462L867 457L859 460L857 465L858 468ZM924 470L918 460L911 463L909 470L921 477ZM856 481L859 469L866 473L866 480L864 482ZM866 480L874 482L881 476L881 472L872 468L866 473ZM897 477L887 482L885 479L897 470ZM961 480L977 475L978 477L970 486L962 482L961 481ZM902 488L897 477L887 482L889 487L898 490ZM910 490L906 491L909 499L919 502L920 496ZM921 508L919 502L909 499L906 504L921 509ZM861 515L857 518L856 520L867 535L873 530L871 517L871 516L868 515ZM871 517L873 530L875 531L883 526L883 519ZM851 527L860 538L862 538L867 535L867 535L856 520L851 526ZM823 534L832 544L838 545L843 542L832 530L826 530ZM862 538L861 543L850 550L844 542L845 540L860 538ZM869 538L867 535L867 535L873 530L875 531L882 537L882 540L876 545ZM891 547L887 548L882 540L882 537L891 534L892 535ZM844 542L850 550L850 556L840 557L838 556L838 545L843 542ZM883 554L887 548L882 540L876 545L875 554L880 555ZM820 565L820 564L813 557L808 558L814 568ZM880 555L875 554L872 555L868 556L867 565L873 574L883 573L885 569ZM883 554L896 560L896 565L885 569L880 555ZM847 570L850 579L853 580L859 568L851 564ZM867 583L866 585L862 584L860 582L862 567L867 565L873 574ZM885 584L885 576L883 573L873 574L867 583L880 586ZM903 571L905 571L906 571L910 577L902 583L898 579L898 578ZM804 587L799 586L794 583L795 574L797 569L808 579ZM859 598L867 591L866 585L862 584L852 595L852 596L858 598ZM855 610L850 609L846 618L849 623L858 626L860 623L859 612ZM877 624L873 621L871 611L883 611L886 617L885 622L882 624ZM883 629L886 636L897 633L896 627L885 622L882 624ZM931 643L928 636L918 637L916 640L916 644L924 647ZM875 642L874 655L867 655L868 644L874 641ZM887 645L899 642L904 648L902 653L898 657L890 650ZM812 665L821 671L832 663L824 657L817 658L814 661ZM835 677L834 664L833 663L832 663L821 671L822 677ZM867 677L857 677L857 665L865 665L868 668ZM876 685L877 690L876 696L870 699L864 695L865 687L869 682ZM894 696L902 692L900 681L889 680L889 691L890 696ZM848 703L845 692L851 688L860 696L852 706L851 706ZM852 683L851 688L860 696L864 695L865 687ZM890 696L887 700L876 696L877 690L889 691ZM889 691L877 690L876 685L889 680L889 680ZM907 694L902 692L894 696L902 703L907 700ZM870 703L870 699L864 695L860 696L852 706L854 708L856 708ZM862 721L865 713L856 708L854 708L855 718ZM862 721L865 713L872 710L876 713L873 721L862 722ZM932 715L935 709L923 705L921 710L930 716ZM852 730L852 720L843 720L842 720L835 731L835 733L848 732ZM912 732L904 729L902 731L906 743L911 745L916 735ZM937 735L931 739L924 737L922 734L925 725L936 729ZM888 744L880 748L877 745L881 734ZM916 735L911 745L912 749L922 751L924 737L922 734ZM944 739L949 749L946 754L932 753L932 750L943 739ZM832 757L821 757L817 764L819 766L819 767L831 766L833 761ZM890 755L890 769L881 767L879 756L881 753ZM910 752L912 749L922 751L928 756L928 761L923 765L915 765L911 763Z"/><path fill="#7a7a7a" d="M910 382L915 387L914 395L912 396L906 397L903 383ZM958 387L944 384L945 392L949 396L959 395ZM874 394L883 389L884 392L881 405L881 405L875 403ZM902 415L903 413L905 398L896 396L888 407L898 416ZM902 415L903 413L914 405L920 412L920 413L911 418ZM943 430L937 415L934 414L933 415L932 421ZM934 414L936 407L950 406L953 409L953 414L950 419L937 415ZM843 420L845 405L846 405L848 419L844 421L843 420ZM869 427L877 435L878 435L882 433L881 428L878 422L874 420L869 420ZM905 440L914 440L908 448L904 444ZM914 440L917 438L920 440L917 454L908 449L908 448ZM877 448L870 449L867 457L871 462L882 458L882 450ZM926 456L918 458L917 454L920 440L925 440L928 446ZM941 447L941 457L935 460L926 456L928 446L941 447ZM935 460L934 468L924 470L918 460L918 458L926 456ZM856 481L859 469L858 468L848 477L850 482L852 482ZM902 488L906 481L907 472L897 470L897 470L897 477L902 488ZM896 502L898 490L889 487L879 496L883 504L887 506ZM909 499L906 491L902 488L902 488L898 490L896 502L903 507L906 504ZM925 490L928 492L934 504L921 508L919 502L920 496ZM889 515L883 519L871 517L871 516L883 504L887 506ZM903 507L896 502L887 506L889 515L894 518L904 511ZM894 518L895 522L890 528L883 526L883 519L889 515ZM904 511L910 516L910 521L907 526L905 527L895 522L894 518ZM919 525L924 517L920 511L910 516L910 521ZM920 531L925 536L922 537L905 534L905 527L907 526ZM898 549L903 543L903 536L892 535L891 547ZM903 543L915 548L922 537L905 534L903 536ZM954 542L961 533L966 535L967 537L968 546L964 549ZM850 550L861 543L867 556L851 557L850 556ZM872 555L869 538L876 545L875 554ZM898 549L899 555L911 558L911 558L915 550L915 548L903 543ZM915 550L911 558L921 565L922 553ZM934 555L943 553L943 568L943 568L938 569L932 564ZM922 581L922 568L906 571L910 577L916 583ZM878 598L880 586L867 583L866 585L867 591L873 599ZM888 587L893 590L898 579L898 578L885 576L885 584ZM898 579L893 590L894 591L905 589L902 583ZM868 607L867 608L859 598L867 591L873 599ZM880 599L888 587L885 584L880 586L878 598ZM913 594L911 600L910 601L896 602L894 600L894 591L905 589L912 591ZM883 601L894 600L896 602L895 611L886 617L883 611ZM871 611L873 621L860 623L859 612L867 608L868 607ZM885 644L886 636L897 633L899 636L899 642L887 645ZM915 663L916 659L914 646L904 648L902 653L914 663ZM924 647L916 644L914 646L916 659L926 655ZM832 648L827 650L824 657L832 663L833 663L837 655ZM890 650L898 657L896 661L882 661ZM906 677L900 681L889 680L889 680L888 677L897 664L906 670ZM915 663L920 667L922 677L912 680L906 677L906 670L914 663ZM946 669L936 664L933 670L940 681L946 675ZM949 666L952 664L961 663L967 672L965 676L963 678L962 678ZM919 694L924 689L923 678L922 677L912 680L913 691ZM911 705L907 700L902 703L901 704L909 715L911 715L912 713ZM923 705L922 700L920 698L911 705L912 713L921 710ZM932 715L942 724L936 729L925 725L925 725L930 716ZM895 746L906 743L911 745L912 749L910 752L900 756L895 752ZM931 739L932 750L932 753L928 756L922 751L924 737Z"/><path fill="#7f7f7f" d="M871 391L879 382L883 386L883 389L874 394ZM931 385L941 383L944 384L944 384L945 392L935 400ZM903 413L905 398L906 397L912 396L914 405ZM925 398L924 397L929 385L931 385L935 400L934 402ZM874 420L881 405L881 405L887 407L883 420L878 422ZM934 414L936 407L934 402L925 398L920 412L920 413L923 415L933 415ZM978 413L969 414L961 404L963 399L971 402L979 409ZM913 432L914 430L911 418L902 415L898 416L897 421L897 431L903 432ZM923 415L920 413L911 418L914 430L922 426ZM931 434L925 440L920 440L917 438L913 432L914 430L922 426L930 429ZM1000 423L988 422L984 435L987 437L988 437ZM1002 423L1006 427L1008 431L1008 433L1003 439L988 437L1000 423ZM938 435L941 447L928 446L925 440L931 434ZM962 440L949 435L948 444L960 448ZM881 472L886 463L893 463L897 470L897 470L885 479L881 476ZM941 457L949 460L951 467L944 474L937 473L934 468L935 460ZM921 477L922 481L906 481L907 472L909 470ZM933 480L923 483L922 481L921 477L924 470L934 468L937 473L935 478ZM946 491L947 489L935 478L933 480L936 489L945 492ZM946 491L958 499L961 495L962 482L961 481L950 484L947 489ZM945 492L939 505L934 504L928 492L936 489ZM946 491L958 499L958 499L941 508L941 508L939 505L945 492ZM960 507L958 499L941 508L950 512ZM890 528L883 526L875 531L882 537L891 534ZM926 536L931 539L932 545L931 549L922 553L922 553L915 550L915 548L922 537L925 536ZM943 533L948 533L953 543L949 546L940 537ZM898 549L899 555L896 560L883 554L887 548L891 547ZM896 565L903 571L905 571L911 558L899 555L896 560ZM885 569L883 573L885 576L898 578L903 571L896 565ZM946 586L943 587L934 581L938 569L943 568L947 575ZM916 583L910 577L902 583L905 589L912 591ZM913 594L911 600L925 606L922 596ZM926 606L926 607L937 598L930 594ZM941 599L962 591L959 587L946 586L943 587L940 598L941 599ZM929 593L930 594L926 606L925 606L922 596ZM886 617L895 611L900 614L900 623L896 627L885 622ZM911 612L900 614L900 623L910 624L912 623L912 612ZM928 615L921 626L921 626L912 623L912 612L927 612L928 612ZM962 620L957 621L953 621L949 613L953 605L957 604L964 613ZM874 640L883 629L882 624L877 624L870 632ZM918 637L916 640L909 632L910 624L912 623L921 626ZM930 630L921 626L921 626L918 637L928 636ZM904 648L914 646L916 644L916 640L909 632L899 636L899 642ZM940 644L940 644L939 629L930 630L928 636L931 643ZM940 651L934 661L926 655L924 647L931 643L940 644ZM958 636L963 636L969 644L962 650L956 648L951 643L957 636ZM976 645L976 645L969 644L962 650L962 660L980 655L980 655ZM915 663L916 659L926 655L934 661L934 662L920 667ZM940 651L949 657L952 664L949 666L946 669L936 664L934 662L934 661ZM992 656L991 672L990 674L978 668L980 655L980 655ZM937 684L940 681L933 670L927 677ZM889 680L876 685L869 682L869 680L883 672L888 677ZM907 694L902 692L900 681L906 677L912 680L913 691ZM937 684L927 677L923 678L924 689L934 692L937 685ZM962 678L963 678L965 692L957 691L954 684L954 682ZM965 692L966 692L971 689L971 683L965 676L963 678ZM911 705L907 700L907 694L913 691L919 694L920 698ZM933 699L934 693L934 692L924 689L919 694L920 698L922 700ZM937 685L946 690L947 697L934 693L934 692ZM901 704L909 715L905 718L895 715L893 709ZM930 716L925 725L917 721L911 715L912 713L921 710ZM950 704L951 704L958 714L958 715L945 723L944 707ZM917 721L911 715L909 715L905 718L904 729L912 732ZM888 744L894 744L894 732L888 729L881 732L881 734ZM951 730L960 729L963 737L958 743L948 735ZM1002 736L1003 733L1002 732L983 728L982 731L990 736ZM995 746L990 736L1002 736L1003 740L999 743ZM977 823L975 820L959 763L960 762L964 759L970 760ZM979 753L974 759L983 783L984 763Z"/><path fill="#848484" d="M929 385L924 381L915 387L914 395L924 397ZM968 381L969 391L962 398L959 395L958 387L963 380ZM934 402L935 400L945 392L949 396L950 406L936 407ZM971 402L975 393L969 391L962 398L963 399ZM969 414L964 418L953 414L953 409L961 404ZM964 425L964 418L969 414L978 413L978 413L976 427L964 426ZM984 435L980 434L976 427L978 413L985 416L988 422ZM943 430L932 421L930 429L931 434L938 435L944 431ZM962 440L949 435L947 430L951 426L954 427L962 440ZM965 438L964 426L976 427L980 434L976 437ZM944 431L947 430L949 435L948 444L941 447L941 447L938 435ZM962 440L960 448L960 450L968 453L973 451L976 437L965 438L962 440ZM882 450L882 458L886 463L893 463L898 456L897 454L885 448ZM917 454L908 449L901 456L911 463L918 460L918 458ZM909 470L907 472L897 470L893 463L898 456L901 456L911 463ZM957 454L949 460L951 467L961 472L964 470L964 468ZM922 483L925 490L920 496L910 490ZM922 483L923 483L933 480L936 489L928 492L925 490ZM947 489L950 484L944 474L937 473L935 478ZM960 507L958 499L958 499L961 495L976 496L971 503L965 507L961 507ZM992 504L984 507L978 496L986 491L997 497L998 501L998 502ZM961 507L965 507L974 519L973 520L964 521ZM919 525L924 517L929 521L930 526L926 536L925 536L920 531ZM942 526L942 525L938 514L929 521L930 526ZM958 526L958 527L961 533L966 535L974 529L973 520L964 521ZM903 536L905 534L905 527L895 522L890 528L891 534L892 535ZM919 525L910 521L907 526L920 531ZM984 547L994 542L991 536L984 537L983 540L982 544ZM956 559L948 550L949 546L953 543L954 542L964 549L962 555ZM986 559L988 556L984 547L982 544L971 547L977 561ZM922 553L932 564L922 567L921 565L922 553ZM955 564L943 568L943 553L947 550L948 550L956 559ZM957 566L974 562L962 555L956 559L955 564ZM975 562L967 574L962 575L957 566L974 562L975 562ZM975 562L967 574L978 579L978 578L979 576ZM922 581L916 583L912 591L913 594L922 596L929 593L929 583ZM929 583L934 581L943 587L940 598L937 598L930 594L929 593ZM959 587L946 586L947 575L961 578ZM969 611L964 613L957 604L962 592L965 592L968 595ZM972 611L976 612L981 609L981 603L979 599L973 597ZM896 627L900 623L910 624L909 632L899 636L897 633ZM928 615L921 626L930 630L939 629L940 628L938 624ZM957 636L951 643L948 643L949 629ZM940 651L949 657L956 648L951 643L948 643L940 644L940 644ZM920 667L934 662L936 664L933 670L927 677L923 678L922 677ZM975 670L967 672L961 663L962 660L980 655L978 668ZM882 661L896 661L897 664L888 677L883 672L880 666L882 661ZM975 670L980 683L983 685L991 683L990 674L978 668ZM950 704L951 704L952 703L957 691L954 684L946 690L947 697ZM966 700L952 703L957 691L965 692L966 692L967 697ZM967 697L966 692L971 689L978 692L979 697L978 697ZM872 710L865 713L856 708L870 703ZM935 709L937 708L933 699L922 700L923 705ZM937 708L944 707L950 704L947 697L934 693L933 699ZM982 711L997 710L996 705L991 699L987 700ZM932 715L942 724L945 724L945 723L944 707L937 708L935 709ZM974 709L977 712L969 718L961 720L958 715L958 714L970 707ZM983 726L999 719L999 713L997 710L982 711L979 713L982 721ZM945 724L951 730L948 735L944 739L943 739L937 735L936 729L942 724ZM945 724L945 723L958 715L961 720L961 727L960 729L951 730ZM944 739L949 749L954 747L958 745L958 743L948 735ZM1003 740L1011 745L1020 736L1011 732L1003 733L1002 736ZM999 743L1006 757L1009 752L1011 748L1011 745L1003 740ZM949 761L946 754L932 753L928 756L928 761L941 770L941 770ZM977 823L970 760L974 759L983 783L985 794L978 827Z"/><path fill="#898989" d="M993 371L992 370L977 376L976 378L980 385L993 385L994 384ZM979 392L975 393L969 391L968 381L976 378L980 385ZM1005 385L1003 400L1002 400L993 391L993 385L994 384ZM1056 394L1044 391L1044 383L1050 380L1054 382ZM984 399L984 402L979 409L971 402L975 393L979 392ZM1002 400L997 406L984 402L984 399L993 391ZM978 413L978 413L985 416L998 413L997 406L984 402L979 409ZM988 437L987 437L987 439L994 448L1004 445L1003 439ZM968 453L969 458L964 468L957 454L960 450ZM993 457L994 448L987 439L981 454L983 456L987 458ZM1010 466L1008 479L1006 479L1002 465L1003 462L1005 461ZM944 474L950 484L961 481L961 480L961 472L951 467ZM961 480L977 475L977 470L976 469L964 470L961 472ZM1016 473L1019 473L1018 491L1010 479ZM1019 491L1028 476L1034 481L1030 490L1021 493ZM1015 492L1003 490L997 497L998 501L1007 505ZM921 508L934 504L939 505L941 508L938 514L929 521L924 517L920 511L921 509ZM992 504L984 507L983 513L990 515ZM992 504L990 515L995 517L996 517L998 502ZM1023 502L1024 503L1026 510L1020 515L1012 508ZM950 512L941 508L941 508L938 514L942 525L953 521ZM960 507L950 512L953 521L958 526L964 521L961 507ZM953 543L954 542L961 533L958 527L948 533ZM983 540L967 537L966 535L974 529L982 533L984 537ZM931 539L940 537L949 546L948 550L947 550L932 545ZM982 544L971 547L968 546L967 537L983 540ZM931 549L934 555L932 564L932 564L922 553ZM931 549L934 555L943 553L947 550L932 545ZM984 547L988 556L997 553L999 546L994 542ZM911 558L905 571L906 571L922 568L922 567L921 565L911 558ZM922 581L922 568L922 567L932 564L932 564L938 569L934 581L929 583ZM988 565L991 575L978 578L979 576ZM967 574L962 575L961 578L959 587L962 591L962 592L965 592L978 583L978 579ZM953 605L941 599L962 591L962 592L957 604ZM941 599L940 598L937 598L926 607L927 612L928 612L938 608ZM953 605L941 599L941 599L938 608L943 613L949 613ZM938 608L928 612L928 615L938 624L943 613ZM953 621L947 627L940 628L938 624L943 613L949 613ZM1009 602L1012 617L1007 620L1002 618L1001 615L1008 602ZM957 621L958 636L957 636L949 629L947 627L953 621ZM968 626L963 636L958 636L957 621L962 620ZM985 623L977 620L971 626L979 634L984 631ZM984 631L984 631L985 623L989 620L995 621L995 634ZM947 627L940 628L939 629L940 644L948 643L949 629ZM968 626L963 636L969 644L976 645L979 634L971 626ZM956 648L949 657L952 664L961 663L962 660L962 650ZM995 654L1005 667L1013 663L1011 653L1008 652L995 654ZM946 669L946 675L954 682L962 678L949 666ZM975 670L967 672L965 676L971 683L980 683ZM1004 679L993 685L991 683L990 674L991 672L1004 668L1006 677ZM1033 682L1029 695L1032 694L1038 692L1038 684ZM1023 701L1011 701L1006 710L1011 712L1018 713L1023 706ZM1011 712L1010 722L1001 721L999 719L999 713L1006 710ZM925 725L922 734L916 735L912 732L917 721L925 725ZM970 720L969 718L961 720L961 727L973 726ZM970 720L969 718L977 712L979 713L982 721ZM943 739L932 750L931 739L937 735ZM960 762L954 747L958 745L965 752L964 759ZM977 744L977 742L963 737L958 743L958 745L965 752L977 746ZM979 753L977 746L977 744L994 747L995 756L992 756ZM960 762L954 747L949 749L946 754L949 761L959 763ZM979 753L977 746L965 752L964 759L970 760L974 759L979 753ZM979 753L992 756L984 763L979 753ZM1028 766L1029 757L1025 754L1019 759L1014 766L1014 767L1027 770Z"/><path fill="#8e8e8e" d="M963 380L959 374L950 376L944 384L944 384L958 387ZM993 391L984 399L979 392L980 385L993 385ZM925 398L924 397L914 395L912 396L914 405L920 412ZM1011 414L1005 400L1011 399L1016 409L1016 413ZM1019 415L1022 415L1029 411L1030 408L1026 398L1016 409L1016 413ZM1045 414L1037 418L1029 411L1030 408L1043 404L1045 407ZM1056 410L1056 413L1051 418L1045 414L1045 407L1053 404ZM954 427L951 426L950 419L953 414L964 418L964 425ZM1002 423L1002 418L998 413L985 416L988 422L1000 423ZM962 440L954 427L964 425L964 426L965 438ZM1017 427L1015 429L1026 438L1031 436L1032 427L1029 425ZM976 437L980 434L984 435L987 437L987 439L981 454L973 451ZM1003 439L1004 445L1007 450L1014 445L1015 442L1008 433ZM1025 439L1024 450L1023 451L1014 445L1015 442ZM941 447L948 444L960 448L960 450L957 454L949 460L941 457ZM968 453L969 458L976 465L983 456L981 454L973 451ZM1005 461L1008 459L1007 450L1004 445L994 448L993 457L1003 462ZM1033 457L1021 456L1021 457L1027 467L1030 466L1033 459ZM964 468L964 470L976 469L976 465L969 458ZM976 469L977 470L987 469L987 458L983 456L976 465ZM1003 462L993 457L987 458L987 469L993 473L1002 465ZM977 475L977 470L987 469L993 473L992 478L987 483L978 477ZM1010 466L1016 473L1010 479L1008 479ZM962 482L961 495L976 496L976 496L970 486ZM970 486L976 496L978 496L986 491L987 483L978 477ZM992 478L1002 483L1003 490L997 497L986 491L987 483ZM1008 479L1010 479L1018 491L1018 491L1015 492L1003 490L1002 483L1006 479ZM983 513L979 516L971 503L976 496L976 496L978 496L984 507ZM965 507L974 519L978 517L979 516L971 503ZM998 502L998 501L1007 505L1009 508L1008 513L996 517ZM995 517L996 523L999 528L1009 524L1012 522L1008 513L996 517ZM1012 508L1020 515L1018 523L1012 522L1008 513L1009 508ZM926 536L930 526L942 526L943 533L940 537L931 539ZM978 517L985 526L982 533L974 529L973 520L974 519ZM994 542L999 546L1003 542L1004 538L999 530L991 536ZM1022 573L1025 569L1015 555L1007 559L1006 565L1016 571ZM957 566L962 575L961 578L947 575L943 568L943 568L955 564ZM988 565L979 576L975 562L975 562L977 561L986 559L987 563ZM1003 569L1006 565L1016 571L1006 575L1002 574ZM1022 573L1021 578L1017 582L1006 575L1016 571ZM973 597L979 599L986 589L978 583L965 592L968 595ZM978 578L978 579L978 583L986 589L990 589L994 584L995 579L991 575ZM1040 579L1047 584L1046 590L1033 595L1030 592L1030 584ZM972 611L973 597L968 595L969 611ZM1008 602L1001 615L995 607L996 600L1001 599ZM1048 611L1035 609L1035 606L1048 600L1049 601ZM1022 618L1013 617L1018 606L1020 606L1025 614ZM1028 626L1035 615L1034 611L1025 614L1022 618L1024 623ZM1057 623L1050 619L1050 614L1058 610L1062 611L1063 621ZM998 638L1003 637L1008 627L1007 620L1002 618L995 621L995 634ZM1020 637L1008 639L1004 638L1003 637L1008 627L1017 630ZM996 642L995 654L1008 652L1004 638L1003 637L998 638ZM1034 656L1024 649L1023 662ZM1006 677L1004 668L1005 667L1013 663L1020 666L1020 672L1015 679ZM937 684L940 681L946 675L954 682L954 684L946 690L937 685ZM980 683L971 683L971 689L978 692L983 685ZM991 683L993 685L994 688L991 699L987 700L979 697L978 692L983 685ZM1005 693L1006 696L996 705L991 699L994 688ZM970 707L958 714L951 704L952 703L966 700ZM974 709L978 697L967 697L966 700L970 707ZM1006 710L999 713L997 710L996 705L1006 696L1011 701ZM983 728L983 728L1002 732L1001 721L999 719L983 726ZM1027 733L1027 734L1020 736L1011 732L1012 723L1018 722L1025 727ZM1053 722L1050 734L1050 735L1056 736L1063 725L1057 720ZM973 726L961 727L960 729L963 737L977 742L982 731L983 728L983 728ZM1019 759L1009 752L1011 748L1024 752L1025 754ZM1031 739L1040 754L1042 754L1045 740ZM1056 736L1062 741L1059 752L1051 751L1050 735L1050 735Z"/><path fill="#939393" d="M1027 382L1017 393L1026 397L1031 394L1030 383ZM1005 400L1003 400L1005 385L1012 382L1017 393L1011 399ZM1027 382L1017 393L1017 393L1012 382L1013 380L1013 380L1020 378ZM963 399L962 398L959 395L949 396L950 406L953 409L961 404ZM1011 399L1017 393L1017 393L1026 397L1026 398L1016 409ZM1053 404L1045 407L1043 404L1040 395L1044 391L1056 394L1058 396ZM1002 418L998 413L997 406L1002 400L1003 400L1005 400L1011 414ZM1006 427L1019 416L1017 427L1015 429L1008 431ZM1056 410L1056 413L1065 415L1068 412L1068 408ZM1068 408L1068 412L1076 420L1082 411L1083 410L1076 403L1068 406ZM1002 423L1002 418L1011 414L1016 413L1019 415L1019 416L1006 427ZM1019 416L1017 427L1029 425L1022 415L1019 415ZM1022 415L1029 411L1037 418L1036 423L1032 427L1029 425ZM1026 438L1031 436L1037 440L1034 452L1024 450L1025 439ZM1037 440L1034 452L1034 452L1047 455L1048 449L1045 444L1041 440ZM1045 444L1059 434L1060 437L1058 446L1048 449ZM1007 450L1008 459L1021 457L1021 456L1023 451L1014 445ZM1047 455L1047 457L1033 459L1033 457L1034 452ZM1019 491L1028 476L1025 471L1019 473L1018 491L1018 491ZM1030 490L1035 493L1046 492L1050 491L1050 490L1044 479L1034 481ZM1021 493L1030 490L1035 493L1035 501L1024 503L1023 502ZM1040 507L1036 512L1033 513L1026 510L1024 503L1035 501L1039 505ZM995 517L996 523L985 526L978 517L979 516L983 513L990 515ZM943 533L948 533L958 527L958 526L953 521L942 525L942 526ZM984 537L982 533L985 526L996 523L999 528L999 530L991 536ZM1009 524L1012 536L1004 538L999 530L999 528ZM1030 540L1038 534L1037 527L1032 523L1022 527L1022 531ZM1030 541L1031 543L1046 547L1046 547L1042 535L1038 534L1030 540ZM975 562L974 562L962 555L964 549L968 546L971 547L977 561ZM1007 559L997 553L999 546L1003 542L1015 550L1015 555L1015 555ZM988 565L991 575L995 579L1000 577L1002 574L1003 569L987 563ZM987 563L1003 569L1006 565L1007 559L997 553L988 556L986 559ZM1000 577L1011 588L1005 590L994 584L995 579ZM1002 574L1006 575L1017 582L1014 588L1011 588L1000 577ZM1021 578L1030 584L1030 592L1020 594L1016 593L1014 588L1017 582ZM1079 585L1091 579L1097 587L1085 594L1080 590L1080 590ZM979 599L986 589L990 589L996 599L981 603ZM994 584L990 589L996 599L996 600L1001 599L1005 590ZM1005 590L1001 599L1008 602L1009 602L1012 601L1016 593L1014 588L1011 588ZM1048 600L1035 606L1033 602L1033 595L1046 590L1046 591ZM981 603L996 599L996 600L995 607L986 612L981 609ZM1009 602L1012 617L1013 617L1018 606L1012 601ZM972 611L976 612L977 620L971 626L968 626L962 620L964 613L969 611ZM989 620L986 612L981 609L976 612L977 620L985 623ZM989 620L986 612L995 607L1001 615L1002 618L995 621ZM1048 611L1035 609L1034 611L1035 615L1042 625L1050 619L1050 614ZM1034 632L1035 632L1041 629L1042 625L1035 615L1028 626ZM988 642L976 645L976 645L979 634L984 631L984 631ZM988 642L984 631L995 634L998 638L996 642ZM1023 646L1017 648L1008 639L1020 637L1025 641L1025 644ZM1043 649L1035 632L1034 632L1025 641L1025 644ZM1056 635L1051 637L1049 643L1064 651L1066 647L1063 637ZM988 642L976 645L980 655L992 656L995 654L995 654L996 642ZM1017 648L1008 639L1004 638L1008 652L1011 653ZM1043 649L1049 643L1064 651L1063 653L1048 654L1043 651ZM995 654L1005 667L1004 668L991 672L992 656ZM1038 657L1038 663L1035 666L1022 665L1023 662L1034 656ZM1038 657L1043 651L1048 654L1048 654L1047 666L1045 666L1038 663ZM1048 654L1055 665L1055 666L1047 666ZM1036 675L1035 666L1038 663L1045 666L1045 677L1039 677ZM1071 672L1071 674L1086 680L1094 671L1094 670L1089 667ZM1004 679L993 685L994 688L1005 693L1009 689ZM1015 679L1020 672L1028 678L1025 693L1016 686ZM1033 682L1038 684L1039 677L1036 675L1031 677ZM1049 679L1045 677L1039 677L1038 684L1038 692L1041 693L1052 685ZM1066 681L1083 688L1086 684L1086 680L1071 674L1067 680ZM1033 682L1029 695L1026 695L1025 693L1028 678L1031 677ZM974 709L977 712L979 713L982 711L987 700L979 697L978 697ZM1046 709L1039 708L1032 694L1038 692L1041 693L1050 706L1050 706ZM1011 712L1010 722L1012 723L1018 722L1018 713ZM1032 717L1031 713L1039 708L1046 709L1043 719L1042 720ZM1012 723L1011 732L1003 733L1002 732L1001 721L1010 722ZM995 746L994 747L977 744L977 742L982 731L990 736ZM1029 738L1024 752L1011 748L1011 745L1020 736L1027 734ZM992 756L995 756L1000 761L985 794L983 783L984 763Z"/><path fill="#989898" d="M1066 390L1072 389L1076 384L1075 377L1065 373L1062 379ZM1030 383L1031 394L1040 395L1044 391L1044 383L1037 377ZM1008 431L1015 429L1026 438L1025 439L1015 442L1008 433ZM1037 440L1031 436L1032 427L1036 423L1046 429L1041 440ZM1041 440L1046 429L1054 427L1057 428L1058 429L1059 434L1045 444ZM1034 452L1024 450L1023 451L1021 456L1033 457L1034 452ZM1071 442L1071 456L1081 450L1081 441L1080 440ZM1045 469L1030 466L1033 459L1047 457L1050 463ZM1057 478L1055 463L1050 463L1045 469L1045 473ZM1045 473L1044 479L1034 481L1028 476L1025 471L1027 467L1030 466L1045 469ZM1057 478L1061 480L1065 474L1061 462L1055 463ZM1057 478L1061 480L1061 483L1050 490L1044 479L1045 473ZM1074 477L1072 485L1076 487L1085 489L1087 488L1081 476L1081 476ZM1019 491L1021 493L1023 502L1012 508L1009 508L1007 505L1015 492L1018 491ZM1053 497L1044 507L1040 507L1039 505L1046 492L1050 491L1053 495ZM1040 507L1036 512L1049 521L1055 513L1044 507ZM1055 513L1049 521L1049 521L1051 526L1063 526L1067 518L1067 516L1063 512L1056 512ZM1022 531L1022 527L1018 523L1012 522L1009 524L1012 536L1015 537ZM1051 532L1042 535L1038 534L1037 527L1049 521L1051 526ZM1051 532L1055 539L1066 535L1063 526L1051 526ZM1016 547L1015 550L1003 542L1004 538L1012 536L1015 537ZM1030 541L1031 543L1030 553L1015 555L1015 550L1016 547ZM1038 558L1034 558L1030 553L1031 543L1046 547L1044 554ZM1046 591L1046 590L1047 584L1057 578L1061 578L1062 579L1062 594ZM1077 583L1079 585L1080 590L1069 593L1068 581ZM1080 590L1080 590L1073 601L1067 602L1063 596L1063 596L1069 593ZM1025 614L1020 606L1024 602L1033 602L1035 606L1035 609L1034 611ZM1066 609L1062 611L1058 610L1056 602L1063 596L1067 602ZM1063 621L1062 611L1066 609L1077 615L1077 619L1072 625ZM1024 623L1022 618L1013 617L1012 617L1007 620L1008 627L1017 630ZM1025 641L1034 632L1028 626L1024 623L1017 630L1020 637ZM1043 649L1035 632L1041 629L1051 637L1049 643L1043 649ZM1081 641L1081 633L1073 628L1074 641ZM1048 654L1055 665L1064 660L1063 653L1048 654ZM1022 665L1020 666L1013 663L1011 653L1017 648L1023 646L1024 649L1023 662ZM1070 667L1067 662L1082 653L1082 654L1084 662ZM1031 677L1028 678L1020 672L1020 666L1022 665L1035 666L1036 675ZM1049 679L1045 677L1045 666L1047 666L1055 666L1055 671ZM1070 667L1067 662L1064 660L1055 665L1055 666L1055 671L1067 680L1071 674L1071 672ZM1004 679L1009 689L1016 686L1015 679L1006 677ZM1009 689L1005 693L1006 696L1011 701L1023 701L1026 695L1025 693L1016 686ZM970 720L982 721L983 726L983 728L973 726ZM1025 727L1018 722L1018 713L1023 706L1031 713L1032 717ZM1053 722L1043 719L1046 709L1050 706L1057 712L1057 720ZM1057 720L1057 712L1064 710L1070 712L1071 715L1072 721L1069 725L1063 725ZM1071 715L1072 721L1085 721L1084 712ZM1029 757L1040 754L1031 739L1029 738L1024 752L1025 754ZM1083 744L1088 755L1094 756L1097 755L1100 745L1095 739L1093 739L1084 742ZM995 746L994 747L995 756L1000 761L1004 760L1006 757L999 743ZM1028 766L1029 757L1040 754L1042 754L1042 754L1044 760L1039 766ZM1068 755L1061 755L1058 765L1061 768L1076 762L1076 761ZM1076 761L1076 762L1077 763L1086 768L1092 763L1094 756L1088 755L1078 758Z"/><path fill="#9d9d9d" d="M1076 384L1075 377L1081 373L1086 375L1087 384L1081 385ZM1082 397L1086 397L1091 387L1087 384L1081 385ZM1043 404L1040 395L1031 394L1026 397L1026 398L1030 408ZM1082 397L1086 397L1088 399L1092 405L1083 410L1076 403L1080 397ZM1076 420L1082 411L1090 417L1087 425L1077 422ZM1051 418L1054 427L1046 429L1036 423L1037 418L1045 414ZM1057 428L1058 429L1073 426L1074 425L1077 422L1076 420L1068 412L1065 415ZM1060 437L1059 434L1058 429L1073 426L1070 441L1069 441ZM1088 439L1087 452L1085 453L1081 450L1081 441L1087 438ZM1048 449L1058 446L1062 451L1065 459L1061 462L1055 463L1050 463L1047 457L1047 455ZM1088 439L1098 451L1087 452ZM1087 452L1098 451L1099 451L1100 452L1096 465L1085 461L1085 453ZM1002 465L993 473L992 478L1002 483L1006 479ZM1076 499L1085 489L1076 487L1075 499ZM1046 492L1035 493L1035 501L1039 505ZM1053 495L1067 498L1068 497L1068 488L1061 483L1050 490L1050 491ZM1068 497L1075 499L1076 487L1072 485L1068 488ZM1093 492L1090 499L1093 510L1098 510L1112 495L1097 492ZM1053 497L1056 512L1055 513L1044 507ZM1026 510L1033 513L1032 523L1022 527L1018 523L1020 515ZM1073 513L1087 517L1087 520L1076 528L1067 518L1067 516ZM1090 523L1087 520L1076 528L1075 533L1081 535ZM1030 541L1016 547L1015 537L1022 531L1030 540ZM1051 532L1042 535L1046 547L1054 545L1055 539ZM1053 561L1054 561L1056 547L1054 545L1046 547L1046 547L1044 554ZM1058 561L1054 561L1056 547L1066 551L1065 556ZM1081 557L1080 555L1087 546L1095 547L1097 550L1096 555ZM1030 567L1034 558L1030 553L1015 555L1015 555L1025 569ZM1046 567L1039 573L1030 567L1034 558L1038 558ZM1046 567L1038 558L1044 554L1053 561L1050 566ZM1069 567L1070 564L1065 556L1058 561L1065 571ZM1085 569L1081 558L1070 564L1069 567L1080 572ZM1085 569L1081 558L1081 557L1096 555L1096 556L1090 568L1085 569ZM1090 568L1098 570L1099 560L1096 556ZM1022 573L1025 569L1030 567L1039 573L1040 579L1030 584L1021 578ZM1068 581L1062 579L1062 594L1063 596L1069 593ZM1030 592L1020 594L1024 602L1033 602L1033 595ZM1079 613L1079 608L1073 601L1067 602L1066 609L1077 615ZM1057 623L1050 619L1042 625L1041 629L1051 637L1056 635ZM1074 641L1073 628L1073 628L1063 637L1066 647L1069 647ZM1090 631L1092 643L1084 644L1081 641L1081 633L1089 631ZM1038 657L1043 651L1043 649L1043 649L1025 644L1023 646L1024 649L1034 656ZM1081 651L1082 653L1067 662L1064 660L1063 653L1064 651L1066 647L1069 647ZM1084 662L1082 654L1097 654L1097 655L1099 666L1094 670L1089 667ZM1070 667L1084 662L1089 667L1071 672ZM1049 679L1052 685L1057 687L1065 683L1066 681L1067 680L1055 671ZM1086 680L1094 671L1102 682L1103 688L1094 689L1086 684ZM1052 685L1041 693L1050 706L1058 696L1057 687ZM1065 683L1072 693L1066 700L1066 700L1058 696L1057 687ZM1050 706L1050 706L1058 696L1066 700L1064 710L1057 712ZM1066 700L1064 710L1070 712L1075 704L1066 700ZM1070 712L1071 715L1084 712L1084 711L1079 703L1075 704ZM1027 733L1041 728L1042 720L1032 717L1025 727ZM1042 720L1043 719L1053 722L1050 734L1041 728ZM1070 727L1069 725L1072 721L1085 721L1086 722L1085 728L1077 732ZM1077 748L1083 744L1084 742L1077 736L1069 742L1073 747ZM1014 766L1004 760L1006 757L1009 752L1019 759ZM1044 760L1042 754L1051 751L1059 752L1061 755L1058 765L1051 766Z"/><path fill="#a2a2a2" d="M1058 396L1056 394L1054 382L1062 379L1066 390L1061 396ZM1103 386L1103 393L1088 399L1086 397L1091 387ZM1061 396L1066 390L1072 389L1080 397L1076 403L1068 406ZM1051 418L1054 427L1057 428L1065 415L1056 413ZM1070 441L1073 426L1074 425L1080 440L1071 442ZM1077 422L1074 425L1080 440L1081 441L1087 438L1088 437L1090 429L1087 425ZM1010 466L1016 473L1019 473L1025 471L1027 467L1021 457L1008 459L1005 461ZM1071 475L1074 462L1079 464L1081 476L1074 477ZM1096 475L1095 470L1081 476L1087 488L1090 489ZM1093 492L1090 489L1096 475L1100 479L1097 492ZM1076 500L1076 499L1085 489L1087 488L1090 489L1093 492L1090 499L1082 502ZM1053 497L1056 512L1063 512L1067 498L1053 495ZM1076 505L1086 510L1082 502L1076 500ZM1086 510L1089 514L1093 510L1090 499L1082 502ZM1033 513L1032 523L1037 527L1049 521L1049 521L1036 512ZM1096 529L1109 522L1098 510L1093 510L1089 514L1087 517L1087 520L1090 523ZM1075 533L1076 528L1067 518L1063 526L1066 535L1070 537ZM1071 547L1066 551L1056 547L1054 545L1055 539L1066 535L1070 537ZM1084 538L1084 541L1074 548L1071 547L1070 537L1075 533L1081 535ZM1095 534L1096 534L1095 547L1087 546L1084 541L1084 538ZM1046 567L1039 573L1040 579L1047 584L1057 578L1050 566ZM1050 566L1057 578L1061 578L1065 571L1058 561L1054 561L1053 561ZM1077 583L1080 572L1069 567L1065 571L1061 578L1062 579L1068 581ZM1077 583L1080 572L1085 569L1085 569L1091 578L1091 579L1079 585ZM1085 569L1090 568L1098 570L1100 572L1091 578ZM1016 593L1020 594L1024 602L1020 606L1018 606L1012 601ZM1049 601L1048 600L1046 591L1062 594L1063 596L1063 596L1056 602ZM1079 608L1086 595L1085 594L1080 590L1073 601ZM1048 611L1049 601L1056 602L1058 610L1050 614ZM1079 613L1088 612L1094 604L1086 595L1079 608ZM1057 623L1056 635L1063 637L1073 628L1072 625L1063 621ZM1089 625L1077 619L1072 625L1073 628L1073 628L1081 633L1089 631ZM1105 629L1090 631L1089 631L1089 625L1094 619L1102 620L1109 627ZM1105 629L1096 643L1094 644L1092 643L1090 631ZM1081 641L1074 641L1069 647L1081 651L1084 644ZM1094 644L1097 654L1082 654L1082 653L1081 651L1084 644L1092 643ZM1066 681L1083 688L1080 695L1072 693L1065 683ZM1086 684L1083 688L1080 695L1081 697L1090 699L1094 689ZM1103 688L1104 688L1098 706L1097 706L1090 699L1094 689ZM1023 701L1026 695L1029 695L1032 694L1039 708L1031 713L1023 706ZM1084 711L1097 706L1090 699L1081 697L1079 703ZM1086 722L1093 721L1100 727L1100 728L1095 739L1093 739L1085 728ZM1027 733L1027 734L1029 738L1031 739L1045 740L1050 735L1050 735L1050 734L1041 728ZM1077 736L1077 732L1070 727L1064 741L1069 742ZM1073 747L1069 742L1064 741L1062 741L1059 752L1061 755L1068 755ZM1099 772L1110 764L1097 755L1094 756L1092 763Z"/><path fill="#a7a7a7" d="M1092 405L1092 406L1105 404L1103 393L1088 399ZM1105 404L1092 406L1092 415L1102 417L1108 407ZM1088 439L1098 451L1099 451L1100 440L1088 437L1087 438ZM1060 437L1058 446L1062 451L1069 441ZM1102 428L1106 430L1100 440L1088 437L1090 429ZM1065 474L1071 475L1074 462L1069 458L1065 459L1061 462ZM1074 462L1069 458L1071 456L1081 450L1085 453L1085 461L1079 464ZM1065 474L1071 475L1074 477L1072 485L1068 488L1061 483L1061 480ZM1076 505L1073 513L1087 517L1089 514L1086 510ZM1096 529L1095 534L1084 538L1081 535L1090 523ZM1080 555L1074 548L1084 541L1087 546ZM1081 558L1070 564L1065 556L1066 551L1071 547L1074 548L1080 555L1081 557ZM1096 604L1103 598L1101 587L1097 587L1085 594L1086 595L1094 604ZM1094 619L1088 612L1079 613L1077 615L1077 619L1089 625ZM1084 712L1085 721L1086 722L1093 721L1100 708L1098 706L1097 706L1084 711ZM1063 725L1069 725L1070 727L1064 741L1062 741L1056 736ZM1050 735L1051 751L1042 754L1042 754L1045 740ZM1084 742L1093 739L1085 728L1077 732L1077 736ZM1077 748L1078 758L1076 761L1068 755L1073 747Z"/><path fill="#acacac" d="M1082 397L1081 385L1076 384L1072 389L1080 397ZM1083 410L1082 411L1090 417L1092 415L1092 406L1092 405ZM1102 417L1102 428L1090 429L1087 425L1090 417L1092 415ZM1069 441L1070 441L1071 442L1071 456L1069 458L1065 459L1062 451ZM1081 476L1081 476L1095 470L1097 466L1096 465L1085 461L1079 464ZM1067 498L1063 512L1067 516L1073 513L1076 505L1076 500L1076 499L1075 499L1068 497ZM1102 620L1102 612L1096 604L1094 604L1088 612L1094 619ZM1066 700L1075 704L1079 703L1081 697L1080 695L1072 693ZM1077 748L1083 744L1088 755L1078 758Z"/><path fill="#b1b1b1" d="M1056 410L1068 408L1068 406L1061 396L1058 396L1053 404ZM1091 579L1097 587L1101 587L1111 579L1100 572L1091 578Z"/></g><g filter="url(#tb2)"><path fill="#0c0c0c" d="M753 379L754 391L752 393L747 392L744 385ZM743 417L739 403L739 403L733 411L732 412L740 417ZM765 427L766 428L781 426L776 416L770 415L765 420ZM733 477L730 477L726 480L725 485L733 488L739 484L741 482ZM749 523L745 516L740 515L732 519L731 521L736 530ZM719 581L718 585L722 594L734 590L735 589L732 584L726 578ZM768 602L758 600L753 598L753 596L759 589L764 590L768 602ZM781 627L784 640L795 635L791 626ZM734 662L732 649L724 655L729 662ZM707 695L712 704L712 704L719 699L716 692ZM730 713L729 728L728 729L720 728L717 720L720 712L721 712ZM779 711L776 709L776 709L768 718L772 727L774 727L782 716L782 715ZM774 727L782 716L789 726L788 733L779 732ZM741 743L747 747L747 766L747 766L743 763L734 750L739 743ZM743 762L734 749L733 750L730 760Z"/><path fill="#141414" d="M785 383L790 376L794 375L796 383L791 385ZM804 425L812 440L816 439L821 429L812 421L807 421L806 421ZM743 456L755 460L751 465L747 466L740 461L740 461L743 456ZM768 472L772 479L765 481L761 475ZM811 464L810 478L823 477L823 474L812 464ZM779 523L787 527L797 521L799 515L792 508L777 516ZM708 539L708 541L714 546L721 543L715 534L713 534ZM732 541L734 540L737 542L731 558L729 558L725 556L724 545ZM792 583L793 575L784 575L780 579L784 585L787 586ZM719 672L730 663L723 654L718 652L714 655L712 665L718 672ZM768 677L778 665L775 659L767 657L763 661ZM708 679L715 674L722 687L718 690ZM778 688L764 693L759 689L758 686L760 679L767 677L779 684ZM835 731L831 729L822 730L815 742L815 744L833 744L836 736L836 732Z"/><path fill="#1c1c1c" d="M769 407L765 405L764 393L765 392L776 395L778 402ZM849 418L848 418L847 406L850 405L854 406L854 415ZM738 425L733 428L728 424L724 415L732 413L741 418ZM832 447L827 446L823 446L820 452L824 459L829 461L833 459ZM860 468L865 472L870 467L870 462L866 459L860 460L858 465L859 467ZM739 462L734 475L743 482L747 481L746 468ZM783 490L790 479L790 479L782 475L774 480L774 485ZM810 491L809 479L806 478L794 482L795 487L804 494ZM783 492L793 491L789 502L781 498ZM839 545L832 543L827 553L829 559L838 556ZM727 571L729 559L731 559L736 561L738 569L738 569L728 572ZM825 569L827 571L830 583L823 588L822 587L820 583ZM826 595L838 601L838 602L837 603L823 609L821 606ZM765 656L766 658L763 661L757 663L750 654L751 652L754 651L756 651ZM729 714L734 713L738 710L730 699L727 700L721 713ZM868 703L868 700L864 696L860 697L853 705L855 707L857 707ZM874 721L876 714L878 714L888 724L887 728L881 731L876 729ZM738 744L733 749L732 749L725 748L721 743L730 738ZM831 757L821 757L819 751L832 747L833 750ZM804 753L800 757L804 766L814 763L806 753ZM775 766L776 757L762 762L768 776Z"/><path fill="#242424" d="M821 394L817 399L813 401L812 401L805 392L805 390L813 383L815 383L816 383ZM929 384L925 381L914 387L914 395L924 398ZM790 393L791 395L790 402L782 405L778 403L776 395L781 388ZM925 398L924 397L914 395L912 396L914 405L920 413ZM869 421L866 419L866 404L876 402L882 404L874 420ZM786 427L786 416L783 412L776 417L780 425L785 428ZM826 427L828 445L823 445L815 439L820 428ZM905 440L903 432L897 431L892 436L892 437L897 444L904 444ZM743 440L735 441L739 449L742 453L743 453L750 445L749 442ZM864 439L864 443L852 447L851 447L851 435L856 432L863 435ZM796 449L796 447L792 444L789 443L781 451L781 455L791 454ZM725 468L730 476L733 476L739 461L739 460L730 458L728 459ZM901 488L897 478L888 482L890 487L897 489ZM754 527L749 524L744 516L752 507L756 509L760 512L756 526ZM891 528L883 525L874 531L882 538L892 534ZM754 532L736 533L734 540L737 542L739 543L755 535ZM756 548L749 553L753 562L764 556L765 552ZM844 542L850 550L851 556L839 557L838 556L838 545L843 542ZM765 561L764 556L753 563L753 566L758 569L765 566ZM744 586L750 581L749 569L739 569L738 570L739 572L743 586ZM831 585L828 568L835 570L840 581L836 584ZM797 601L798 600L799 587L794 584L787 587L789 595ZM797 601L789 595L781 603L786 610L796 608ZM859 600L866 607L859 611L856 609L858 600ZM810 605L819 606L821 606L823 610L823 616L818 622L815 622L813 622L807 610ZM815 622L813 622L808 624L805 632L813 636ZM884 645L885 636L898 633L900 635L900 642L887 646ZM745 670L756 670L757 665L749 653L739 664ZM795 711L808 710L813 705L813 703L812 700L792 700ZM776 743L763 733L761 734L761 737L764 745L776 746ZM788 744L792 737L792 737L787 733L779 732L778 738ZM777 757L776 758L776 758L776 765L786 769L787 762Z"/><path fill="#2c2c2c" d="M863 386L876 377L876 376L870 375L856 379L856 380ZM923 415L920 413L911 418L914 429L922 426ZM933 421L933 414L923 414L921 426L930 429ZM869 427L863 435L856 431L856 431L863 419L867 419L870 420ZM794 463L793 465L780 464L777 461L780 456L780 456L791 455ZM807 504L803 498L804 494L810 490L819 493L820 502L814 507ZM840 515L833 506L842 502L845 507L844 512L840 516ZM889 515L883 518L872 517L871 516L883 505L887 507ZM822 533L816 531L812 525L812 524L819 519L820 519L825 525L825 529L822 533ZM918 524L923 517L920 512L911 516L911 520ZM814 532L804 536L802 535L803 528L810 526ZM768 645L777 643L778 653L774 660L767 659L766 656ZM821 679L808 677L807 668L813 665L821 671L822 677ZM793 699L794 696L799 690L810 694L811 700L794 701ZM911 706L906 700L906 694L913 690L920 693L921 699Z"/><path fill="#343434" d="M731 372L739 375L738 383L735 386L727 383L730 373ZM716 382L710 384L706 395L712 404L723 385ZM728 426L722 430L727 439L729 439L731 438L733 429ZM743 430L743 438L733 439L732 439L733 428L738 425ZM931 434L925 440L919 440L916 438L913 432L914 430L922 425L930 429ZM963 440L948 434L947 445L961 449ZM721 457L728 459L730 459L731 450L729 440L727 440L719 444L718 446ZM850 464L857 465L860 460L851 448L848 453ZM877 449L871 450L868 457L872 460L881 458L880 451ZM850 464L848 452L838 461L843 467ZM712 495L712 485L723 487L723 503L720 503ZM803 498L792 505L789 502L793 491L795 487L804 494ZM732 522L725 524L715 519L728 510L733 519ZM851 527L860 538L862 538L867 535L867 535L856 520L851 526ZM714 600L722 594L729 607L729 608L720 609ZM972 610L976 611L980 608L980 603L978 599L973 598ZM873 640L873 641L868 643L862 642L860 638L860 632L869 633ZM890 650L897 657L896 661L883 661ZM907 694L902 692L895 696L902 702L906 700ZM846 709L843 720L852 720L855 718L854 708L852 705L851 705ZM832 708L829 721L831 729L835 731L842 720L835 709ZM863 722L872 722L875 730L864 735L864 735L861 731ZM1002 735L1002 733L1002 732L984 729L983 731L990 736ZM720 743L724 749L719 758L717 759L707 751L714 741L715 740ZM943 741L947 748L945 753L933 753L934 750L942 740Z"/><path fill="#3c3c3c" d="M743 384L739 383L735 387L737 396L738 397L747 393ZM884 389L884 392L895 395L894 386L890 385L884 386ZM993 391L984 399L978 393L980 384L994 385ZM753 427L755 429L755 430L750 441L743 438L744 430ZM947 492L948 490L934 477L932 479L936 489L946 493ZM762 489L766 482L771 480L773 481L774 484L771 491ZM724 486L733 489L733 501L725 503L722 502L722 488ZM756 493L762 500L766 503L775 499L771 493L760 490L756 492ZM992 504L984 506L983 513L990 515ZM711 526L716 519L717 519L725 524L722 529L715 533L713 532ZM724 529L726 524L731 522L735 530L736 533L734 539L732 539ZM755 526L749 523L735 530L735 533L755 532ZM723 544L713 547L710 554L718 561L726 556L724 544ZM900 549L901 554L910 557L910 557L914 550L913 549L904 544ZM880 600L889 587L885 583L880 586L877 599ZM880 599L888 588L893 590L894 592L894 600L883 601ZM926 607L926 607L937 597L930 594ZM838 603L822 610L823 616L833 619L837 610ZM837 610L833 618L835 621L845 618ZM722 629L724 627L727 621L716 617L712 628L715 629ZM919 637L916 641L908 632L910 624L912 622L922 626ZM958 620L958 637L957 637L949 629L947 626L953 620ZM720 672L730 680L731 683L730 685L722 685L716 675L719 672ZM762 704L753 701L750 704L749 708L759 711L762 707ZM775 708L774 708L765 706L765 704L766 698L774 701ZM932 714L935 709L923 705L921 710L930 716ZM729 715L729 727L733 726L734 723L734 714ZM734 713L734 724L746 717L745 710L738 709ZM771 727L768 718L761 715L760 718L769 728ZM729 728L728 728L730 737L739 743L741 742L741 742L739 729L733 727ZM864 736L864 736L868 745L864 752L855 745L855 744ZM731 759L729 761L726 763L718 758L724 749L733 750ZM895 752L900 756L901 764L891 769L890 769L890 755ZM979 753L977 746L965 752L963 759L970 760L974 759L979 753ZM1014 766L1004 760L1006 757L1009 752L1019 759ZM743 762L747 766L745 777L728 761L730 759Z"/><path fill="#444444" d="M752 407L752 394L747 394L738 397L739 402L740 402ZM800 418L797 412L786 415L785 428ZM805 426L799 431L797 431L786 428L786 428L786 427L800 418L806 422ZM942 430L933 423L931 429L932 433L938 434L943 431ZM1017 427L1015 429L1026 438L1031 436L1031 427L1029 426ZM750 442L751 445L760 448L764 445L766 443L755 430ZM807 455L810 453L809 441L803 442L798 447L798 448ZM760 448L764 446L779 455L777 461L775 461L760 449ZM769 472L770 464L765 464L758 471L758 475L760 476ZM923 483L923 483L922 481L905 481L901 488L906 491L910 491ZM762 500L756 510L759 513L765 512L767 503ZM778 517L777 516L776 499L781 498L789 501L792 504L792 508ZM960 507L965 507L974 519L973 520L963 522ZM756 525L759 513L765 512L769 515L764 523ZM777 525L779 522L778 517L777 516L769 515L765 524L765 524ZM791 547L797 557L797 557L795 557L783 552L788 544ZM1030 541L1031 543L1046 548L1046 547L1042 535L1038 534L1030 540ZM716 567L718 560L726 555L729 557L727 573ZM765 552L764 556L766 561L779 559L779 558L779 554L770 549ZM778 559L778 558L797 557L800 558L799 566L781 565L778 564ZM766 566L759 569L760 576L768 579L773 576L773 569ZM780 563L782 564L784 574L779 579L773 576L773 569ZM796 566L796 566L796 569L794 573L786 573L784 565ZM768 579L773 575L779 578L784 587L778 590L767 586ZM1000 577L1011 587L1005 589L995 584L996 580ZM734 591L723 594L723 594L729 606L736 600ZM747 603L746 612L737 618L733 616L729 608L729 607L737 600ZM752 599L747 604L747 611L752 614L756 614L757 601ZM769 603L769 603L758 615L756 614L757 600ZM985 631L984 631L985 623L989 620L994 622L994 633ZM765 632L773 632L777 643L777 644L768 645L767 644L762 637L762 637ZM767 645L761 637L754 650L756 650ZM768 646L766 655L756 651L767 645ZM719 671L728 663L735 663L736 664L731 680ZM734 681L739 681L743 671L743 670L739 665L737 666L733 679ZM799 683L806 680L807 677L806 668L802 667L800 669L796 674L795 679ZM1032 678L1028 679L1019 672L1019 666L1022 664L1036 665L1037 675ZM745 669L739 684L744 686L748 676ZM748 677L759 678L760 679L757 685L747 686L745 685ZM748 705L753 701L760 688L759 685L745 685L743 696ZM789 698L780 694L779 688L780 685L783 683L784 683L793 696L792 698ZM1024 701L1027 696L1029 695L1032 695L1038 707L1031 711L1024 705ZM795 713L798 720L789 726L781 716L782 714ZM975 709L977 712L969 718L961 720L958 715L958 714L970 707ZM916 721L911 715L909 716L905 718L904 729L911 731ZM815 748L818 751L821 757L817 764L815 764L806 752ZM977 825L970 758L974 757L983 782L985 795L978 829Z"/><path fill="#4c4c4c" d="M831 412L832 412L836 406L836 403L827 395L826 396L829 410ZM812 402L813 402L820 414L812 422L807 421L810 404ZM1051 418L1054 427L1057 429L1065 415L1056 413ZM1103 417L1103 429L1090 430L1086 425L1090 417L1092 414ZM926 456L919 458L917 454L920 440L924 440L928 446ZM808 458L810 462L801 470L794 470L793 465L794 463ZM782 490L790 479L794 482L796 487L793 491L782 492ZM1016 473L1019 474L1018 490L1010 479ZM766 503L764 512L769 516L778 517L777 499L776 498ZM815 511L819 516L821 517L827 508L827 507L820 503L815 507ZM923 508L934 504L938 506L939 508L937 513L929 519L924 516L921 511L922 509ZM825 531L832 531L840 528L841 516L841 515L840 515L832 518L825 525ZM800 535L801 528L796 522L788 527L790 535ZM786 543L781 551L779 553L771 549L773 539L786 541ZM926 536L930 540L931 545L930 548L922 552L922 552L916 549L916 548L922 538L924 537ZM767 561L778 560L779 563L773 569L767 566ZM797 558L781 552L778 554L778 558ZM824 565L828 559L827 553L818 547L821 564L821 564ZM1046 567L1039 573L1030 567L1034 558L1038 557ZM825 567L819 582L812 577L814 568L814 568L820 565L824 566ZM804 587L799 587L793 583L795 574L797 569L809 579ZM781 604L773 602L778 590L783 586L787 586L789 596ZM1066 609L1062 612L1058 610L1055 601L1063 595L1068 601ZM1022 617L1014 616L1018 607L1020 607L1024 614ZM782 628L778 627L773 632L777 643L780 643L784 639ZM816 642L813 638L815 621L818 620L827 634L816 642ZM813 665L821 671L831 663L824 657L817 658L814 661ZM995 655L1005 667L1004 668L992 672L993 656ZM950 667L953 664L961 664L966 672L965 675L963 677L961 678ZM974 669L979 684L983 686L992 684L990 673L978 667ZM783 682L794 680L796 674L782 667L783 682ZM836 687L838 678L836 677L822 677L821 679L820 687L823 688L826 690ZM974 708L977 698L968 698L967 700L970 706ZM1050 706L1050 706L1058 696L1066 700L1065 710L1057 712ZM803 743L805 751L807 751L814 748L815 744L815 742L807 739Z"/><path fill="#545454" d="M827 395L837 387L836 381L826 378L816 381L822 395L825 395ZM872 391L878 382L883 386L883 389L874 394ZM829 411L817 400L823 394L825 395ZM836 403L841 391L846 392L849 403L846 405L845 405L837 406ZM864 390L863 387L856 380L850 389L861 398ZM1057 409L1068 408L1068 406L1061 397L1058 397L1053 404ZM1092 406L1092 406L1106 405L1104 392L1088 399ZM837 406L846 405L843 421L832 413ZM1001 422L1002 418L998 413L987 417L989 422L1000 423ZM850 434L845 431L845 422L848 421L849 420L855 430L855 431ZM966 437L965 427L976 427L979 434L975 437ZM877 434L876 449L881 451L885 449L894 436L894 435L882 431ZM848 453L850 449L850 448L850 448L835 446L834 446L835 459L839 460ZM992 456L993 449L987 441L982 453L983 455L987 457ZM1006 449L1007 459L1021 458L1022 456L1024 451L1013 445ZM857 481L860 470L865 473L866 480L864 481ZM856 481L865 481L864 496L862 497L852 482ZM1077 500L1076 499L1085 489L1087 488L1090 489L1092 492L1090 499L1082 501ZM967 508L974 518L977 516L978 516L972 505ZM822 518L827 509L832 518L826 524ZM822 535L817 545L813 547L806 546L804 543L803 537L816 533ZM791 546L798 558L799 557L806 546L804 543ZM1029 543L1030 544L1029 552L1016 554L1016 549L1017 547ZM820 564L820 564L813 558L808 558L814 567ZM851 556L851 557L851 564L847 570L841 568L839 557ZM812 592L809 598L798 601L799 586L804 586ZM812 592L819 606L820 606L825 594L823 590L821 589ZM1078 591L1079 591L1072 600L1068 601L1064 596L1064 596L1069 593ZM857 599L852 597L845 603L850 609L855 609ZM807 610L813 621L807 623L799 620L799 610ZM878 623L874 620L872 612L882 612L885 617L884 621L882 623ZM1073 641L1072 630L1072 630L1064 637L1067 646L1069 645ZM835 641L832 635L836 631L842 632L844 635L845 643L845 643ZM832 648L827 650L825 657L832 663L833 663L837 655ZM837 679L847 676L848 666L834 664L835 677ZM866 676L858 676L858 666L865 665L867 668ZM840 691L845 691L850 688L851 683L851 680L846 677L838 679L837 687ZM849 702L846 693L851 690L859 696L852 705L851 705ZM861 720L864 713L856 709L854 709L855 717ZM892 710L895 715L889 723L879 713L888 707ZM853 731L853 719L843 719L842 719L833 732L834 733L849 733ZM945 724L946 723L958 716L960 720L961 727L960 729L951 730ZM880 734L880 733L876 731L866 736L870 743L877 744ZM888 744L894 744L894 732L888 729L881 732L881 734ZM1019 759L1008 752L1011 747L1025 752L1026 755ZM832 757L834 750L847 755L848 755L846 761L833 760Z"/><path fill="#5c5c5c" d="M1067 389L1072 388L1075 384L1074 378L1065 375L1064 380ZM864 389L860 399L860 402L866 405L877 404L875 394L872 390ZM1012 399L1017 394L1017 394L1025 397L1025 398L1016 407ZM874 420L881 405L881 405L887 407L883 420L878 422ZM892 421L896 421L898 416L888 407L887 407L883 420ZM879 422L883 420L891 421L881 428ZM916 455L909 450L902 456L911 463L917 459L918 458ZM856 481L859 469L858 468L848 477L851 482L853 482ZM866 480L874 482L882 477L881 472L871 467L865 472ZM843 541L844 539L846 531L840 529L834 531L843 541ZM869 538L866 535L867 535L873 530L875 530L883 537L882 540L876 545ZM848 570L850 579L853 579L859 568L851 565ZM877 597L879 587L868 584L866 585L868 590L873 598ZM973 596L978 598L985 589L978 584L966 592L968 594ZM839 601L839 602L845 603L852 596L852 595L847 589L841 593ZM868 608L867 608L858 598L867 590L873 599ZM1007 602L1001 615L995 607L996 600L1001 600ZM832 648L837 655L847 652L845 644L834 642ZM879 658L874 655L868 656L867 657L866 664L869 667L879 665L881 661ZM867 680L866 678L858 678L853 680L854 682L865 686L868 681ZM889 691L876 691L876 685L889 680L889 680ZM932 698L933 693L933 692L924 689L919 694L920 698L922 700ZM832 704L835 701L848 703L850 706L846 709L836 709L832 707L832 707ZM872 710L865 713L855 708L870 703ZM1032 717L1031 713L1039 708L1046 709L1042 719L1042 719ZM867 757L865 754L859 756L854 765L861 770L867 763ZM866 757L879 756L881 767L877 769L866 763ZM889 756L889 767L881 765L880 757L881 754ZM1029 766L1030 757L1040 754L1041 754L1042 754L1044 760L1039 765Z"/><path fill="#646464" d="M1056 394L1044 391L1044 383L1050 380L1054 382ZM905 440L902 432L913 432L917 438L914 440ZM962 441L953 427L964 425L965 425L965 438ZM905 440L915 440L908 448L903 444ZM937 435L940 447L928 445L925 440L931 434ZM904 444L897 443L897 454L898 457L901 457L909 449L909 447ZM882 472L886 464L893 464L896 470L895 470L885 477L883 476ZM924 471L918 459L911 463L909 471L921 478ZM936 460L935 469L924 472L916 459L917 458L926 455ZM922 484L924 490L920 495L911 490ZM927 535L931 527L941 526L942 533L939 536L931 538ZM899 548L900 555L897 560L882 554L887 547L891 546ZM884 554L896 560L895 564L885 568L881 556ZM910 557L904 571L905 571L923 568L923 567L922 565L911 557ZM886 569L884 572L886 576L897 578L902 571L895 566ZM914 594L912 600L910 602L895 602L893 600L893 591L906 588L913 590ZM925 606L911 600L910 602L912 611L912 612L926 611L925 607L925 606ZM929 594L929 595L926 606L925 605L923 596ZM929 615L921 627L921 627L911 623L910 611L928 611L929 612ZM1025 640L1032 632L1027 627L1024 625L1018 630L1021 636ZM915 662L920 666L923 678L912 681L905 678L905 670L914 662ZM907 694L903 691L900 682L906 678L912 680L912 691ZM919 693L924 689L923 678L922 678L912 680L913 691ZM937 684L927 678L924 679L924 689L933 691L937 685ZM916 737L912 745L913 748L921 750L923 738L921 736ZM911 752L913 750L922 752L927 756L927 760L923 765L915 764L912 762Z"/><path fill="#6c6c6c" d="M958 387L944 385L945 392L949 396L958 394ZM968 382L969 391L963 397L959 394L958 387L963 380ZM1005 385L1003 400L1002 400L993 391L993 385L995 384ZM943 429L937 416L934 414L933 415L933 421ZM1056 410L1055 413L1051 417L1046 413L1046 407L1052 405ZM1076 420L1082 410L1090 417L1087 425L1077 422ZM964 425L964 418L969 414L978 413L978 414L976 426L965 426ZM984 436L980 435L976 427L978 413L985 416L989 422ZM944 431L947 431L949 435L948 444L941 447L941 447L938 435ZM962 441L961 447L961 449L968 452L972 450L974 438L965 439L962 441ZM941 458L948 461L949 467L944 473L938 472L935 467L936 461ZM945 474L950 484L960 481L960 480L961 473L951 467ZM946 488L949 484L944 475L938 474L936 478ZM946 491L958 499L958 499L941 508L941 508L939 505L945 492ZM950 513L941 508L941 508L939 514L942 524L952 521ZM996 517L997 523L985 526L978 516L978 516L983 512L991 515ZM956 542L961 534L966 536L966 537L967 545L964 547ZM915 551L912 558L921 564L921 553ZM931 548L934 555L932 565L932 565L921 552ZM934 556L943 554L943 568L943 568L938 569L932 564ZM976 562L967 574L962 575L957 566L974 562L976 562ZM987 567L990 575L979 577L980 575ZM979 578L979 579L979 583L986 588L990 588L994 584L995 580L990 576ZM1078 585L1091 579L1097 587L1085 594L1080 590L1079 590ZM953 605L942 599L961 592L961 592L957 603ZM962 620L957 621L954 621L949 613L953 606L957 604L964 613ZM988 642L976 645L976 645L979 634L984 631L984 631ZM940 651L934 661L926 655L924 647L931 643L940 644ZM993 655L992 672L990 674L978 668L980 655L980 654ZM937 684L939 681L946 675L955 682L954 684L947 690L937 685ZM971 708L958 715L950 704L951 703L967 699ZM1085 712L1086 720L1087 720L1092 719L1098 709L1097 707L1096 707L1085 712ZM970 720L969 718L961 720L962 727L972 726ZM971 720L969 718L977 712L979 713L981 721ZM943 739L932 751L930 739L937 735ZM959 761L954 748L949 749L947 754L949 761L958 762Z"/><path fill="#747474" d="M1027 383L1017 393L1026 397L1030 394L1030 383ZM975 470L976 471L988 469L988 457L983 455L976 465ZM1001 466L993 473L993 478L1001 482L1005 479ZM971 486L977 494L978 494L984 490L985 484L978 479ZM993 479L1001 483L1003 490L997 496L986 490L987 484ZM1020 491L1028 477L1033 482L1030 490L1022 492ZM981 539L969 536L968 535L974 531L981 534L982 536ZM1023 532L1022 527L1018 523L1012 522L1009 524L1012 537L1015 538ZM995 542L999 545L1003 542L1003 538L999 531L991 536ZM987 563L1004 570L1007 565L1008 559L997 553L987 555L985 559ZM975 562L967 574L978 578L978 578L979 576ZM987 565L979 574L976 562L976 562L977 562L986 560L987 563ZM1004 569L1006 565L1015 571L1006 575L1003 574ZM959 587L946 585L947 575L960 578ZM981 603L995 600L995 600L994 606L987 611L981 608ZM958 635L964 635L971 645L962 651L955 649L950 643L956 635ZM1094 644L1097 654L1082 654L1082 653L1081 651L1084 644L1092 643ZM974 670L967 672L962 663L963 660L980 656L978 668ZM1039 657L1038 663L1035 666L1022 665L1023 662L1034 655ZM974 671L967 672L966 676L971 683L979 682ZM1005 679L1009 688L1015 686L1014 679L1007 677ZM966 700L952 703L957 691L965 692L966 692L967 697ZM1032 683L1029 693L1027 693L1026 692L1028 679L1031 679ZM974 709L977 712L979 713L982 711L987 700L979 697L978 697ZM1022 702L1011 702L1008 709L1012 711L1018 712L1022 706ZM982 728L982 729L1003 732L1002 721L1000 718L982 726ZM994 745L993 747L978 744L978 742L983 732L989 736ZM1030 737L1025 754L1010 748L1010 746L1020 735L1027 733ZM995 746L994 748L995 756L1000 760L1004 759L1005 756L999 744ZM979 754L975 759L983 782L983 763Z"/><path fill="#7c7c7c" d="M1004 422L1004 418L1011 414L1015 414L1017 416L1017 417L1007 426ZM1043 438L1047 430L1054 428L1056 429L1057 430L1057 434L1047 441ZM1061 436L1060 434L1059 430L1072 428L1069 440L1068 439ZM1045 444L1059 434L1060 437L1058 446L1048 449ZM1005 461L1008 459L1007 450L1004 445L994 449L994 457L1003 462ZM1003 462L994 457L988 458L987 469L993 473L1001 465ZM1057 479L1061 481L1066 475L1061 461L1054 461ZM1021 493L1030 490L1035 493L1036 501L1024 503L1023 502ZM1047 492L1034 493L1035 501L1039 505ZM1023 502L1024 503L1026 510L1020 515L1012 508ZM1012 509L1019 515L1017 522L1012 521L1009 513L1010 509ZM986 559L988 556L984 547L982 544L971 547L977 561ZM1007 559L996 553L999 545L1003 542L1015 549L1015 555L1015 555ZM1070 568L1071 564L1065 555L1057 560L1065 572ZM1050 566L1057 578L1062 579L1065 571L1058 561L1053 560L1052 561ZM1041 578L1047 583L1046 590L1033 595L1030 592L1029 584ZM1016 592L1020 594L1024 602L1020 606L1018 606L1012 601ZM1048 611L1036 609L1035 606L1047 600L1048 601ZM1025 623L1023 618L1013 616L1011 616L1006 620L1007 628L1017 631ZM988 642L984 631L995 634L998 638L996 642ZM1022 665L1020 666L1013 663L1011 653L1017 648L1023 646L1024 649L1023 662ZM1038 657L1043 651L1048 654L1048 654L1047 666L1045 666L1038 664ZM1016 679L1020 674L1026 678L1024 691L1017 685ZM1009 689L1005 693L1006 696L1011 701L1023 701L1026 695L1025 693L1016 686ZM1052 686L1042 693L1051 705L1057 696L1057 688ZM1006 709L1000 712L998 709L997 705L1005 698L1009 702ZM1011 712L1010 722L1012 723L1019 722L1018 712ZM1011 723L1010 731L1003 732L1003 731L1002 722L1010 723ZM1046 760L1044 755L1052 752L1058 753L1059 755L1057 764L1052 764Z"/><path fill="#848484" d="M1082 397L1086 397L1088 400L1091 405L1083 408L1078 402L1081 398ZM1056 409L1055 414L1065 416L1069 412L1069 407ZM1065 474L1071 475L1074 462L1069 459L1065 459L1061 462ZM1076 506L1073 513L1087 517L1088 514L1085 510ZM1068 581L1062 578L1062 595L1063 596L1069 593ZM1079 612L1079 608L1073 602L1067 602L1066 609L1077 615ZM1057 623L1050 620L1042 625L1041 629L1051 636L1056 634ZM1043 648L1036 633L1041 630L1050 637L1049 643L1043 648ZM1048 655L1055 665L1054 665L1048 665ZM1071 666L1068 662L1081 654L1082 655L1083 662ZM1069 667L1067 663L1064 662L1057 666L1056 666L1056 670L1066 678L1070 674L1070 671ZM1067 681L1082 688L1080 695L1072 693L1065 684ZM1053 722L1050 734L1050 735L1056 736L1063 725L1057 720ZM1064 725L1069 726L1069 728L1064 740L1063 740L1057 736ZM1033 741L1040 752L1041 752L1044 741ZM1056 737L1061 741L1059 750L1052 750L1051 736L1051 736Z"/><path fill="#8c8c8c" d="M1082 397L1081 385L1076 384L1072 389L1080 397ZM1102 387L1102 393L1089 399L1087 396L1092 388ZM1060 396L1066 390L1072 389L1081 397L1077 403L1068 407ZM1070 441L1073 425L1075 424L1081 441L1071 442ZM1088 439L1098 450L1099 450L1099 440L1088 438L1088 438ZM1101 428L1105 431L1100 440L1088 437L1091 429ZM1088 440L1098 450L1088 451ZM1057 477L1054 463L1050 463L1046 469L1046 472ZM1068 497L1075 499L1076 487L1072 485L1068 488ZM1080 555L1073 548L1084 540L1088 546ZM1105 629L1090 631L1089 631L1089 625L1094 619L1102 620L1109 627ZM1082 641L1081 633L1073 628L1074 641ZM1090 632L1092 642L1084 644L1082 640L1081 633L1089 631ZM1080 651L1080 653L1068 661L1065 660L1064 653L1064 652L1066 648L1069 647ZM1058 719L1059 713L1064 711L1069 713L1070 715L1071 720L1069 724L1064 723ZM1077 748L1078 758L1076 761L1068 755L1073 747ZM1077 761L1077 762L1077 763L1086 767L1092 763L1094 757L1087 755L1079 758Z"/></g><g fill="none" stroke="#fafafa" stroke-linecap="round"><g filter="url(#tb3)" stroke-width="1.1"><path stroke-opacity="0.3" d="M915 387Q913 391 914 395M755 392Q753 393 752 394M813 621Q814 623 815 621M914 395Q919 397 924 397M797 407Q794 408 796 405M766 503Q761 507 762 501M769 515Q767 514 765 512M777 665Q774 663 774 660M749 569Q744 569 739 569M772 616Q766 615 764 621M849 403Q853 401 855 405M848 419Q848 421 849 419M887 407Q885 404 881 405M829 414Q829 421 827 427M844 421Q842 426 844 432M837 434Q840 433 844 432M822 394Q824 396 825 395M780 451Q781 453 780 455M780 455Q778 454 780 456M770 439Q768 440 766 443M801 470Q798 469 795 469M783 586Q780 588 778 590M739 461Q742 460 739 461M742 455Q743 455 743 455M820 564Q818 559 813 557M876 730Q877 725 873 721M760 753Q761 752 762 751M766 656Q766 650 768 645M731 629Q735 629 736 632M836 584Q833 583 831 584M779 579Q786 581 784 574M757 601Q764 599 769 603M768 586Q765 586 765 589M752 563Q752 557 748 553M759 513Q755 519 756 525M755 535Q755 533 754 532M736 533Q735 531 736 529M824 657Q829 659 832 663M776 395Q778 392 781 389M834 460Q834 453 833 446M780 425Q780 420 775 417M766 427Q765 428 765 426M810 440Q809 447 811 454M792 455Q793 459 795 463M797 447Q798 448 797 448M779 558Q778 558 779 559M752 563Q759 561 765 556M738 425Q741 427 743 430M777 516Q777 517 778 517M904 729Q905 732 902 731M856 708Q864 708 870 703M885 622Q886 619 886 617M747 724Q753 721 754 727M775 709Q769 710 764 707M764 693Q765 694 766 697M748 704Q748 706 747 709M756 670Q750 669 745 669M762 637Q759 632 765 631M819 606Q815 611 811 606M787 587Q786 592 789 596M794 583Q797 583 799 586M798 600Q803 598 808 598M811 592Q811 591 812 592M765 552Q760 551 756 548M850 556Q854 553 850 550M882 540Q878 542 876 545M860 623Q860 625 858 626M850 609Q852 609 855 610M867 591Q861 593 859 598M909 470Q914 476 921 477M859 460Q856 454 851 449M870 449Q874 453 877 448M797 413Q799 415 800 418M765 524Q771 524 777 525M842 720Q843 720 843 720M822 731Q820 737 816 741M880 666Q885 665 882 661M873 599Q875 599 878 598M882 624Q881 626 883 629M883 629Q879 635 874 640M873 621Q879 617 877 624M796 650Q796 650 796 650M731 686Q730 683 732 683M821 589Q817 587 819 583M903 432Q904 436 905 440M802 743Q797 740 792 737M721 713Q725 713 729 714M826 690Q830 696 831 703M835 701Q831 700 831 704M831 707Q830 705 831 704M843 494Q844 495 843 494M867 419Q865 425 869 420M810 525Q812 524 811 523M811 523Q815 521 819 517M783 682Q782 685 779 684M794 701Q795 706 796 711M789 699Q781 702 780 711"/><path stroke-opacity="0.5" d="M1067 516Q1070 514 1073 513M1076 487Q1076 493 1075 499M999 530Q1002 534 1004 538M1012 536Q1011 530 1009 524M790 479Q788 480 790 479M790 479Q787 475 782 476M774 480Q773 482 775 484M790 479Q788 485 783 490M775 484Q779 486 783 490M793 491Q788 489 783 492M794 482Q793 479 790 479M793 491Q793 488 795 487M783 492Q782 491 783 490M1072 485Q1070 486 1068 488M1079 464Q1076 465 1074 462M1081 476Q1082 474 1081 476M733 501Q735 502 738 501M741 485Q741 493 738 501M815 621Q817 624 818 621M859 568Q860 566 862 567M1020 515Q1025 514 1026 510M828 444Q825 444 823 445M816 438Q819 442 823 445M816 438Q815 432 820 429M804 392Q802 400 796 405M758 474Q760 474 761 475M769 465Q770 469 768 472M822 477Q821 475 823 474M823 474Q815 472 812 464M759 513Q756 514 756 510M974 519Q969 513 965 507M1054 561Q1056 561 1058 561M1081 535Q1087 531 1090 523M1071 547Q1072 549 1074 548M1046 492Q1048 491 1050 491M1053 495Q1052 496 1053 497M1062 451Q1066 446 1069 441M1058 429Q1054 432 1059 434M1059 434Q1062 434 1060 437M1035 493Q1031 494 1030 490M1034 481Q1033 486 1030 490M1080 555Q1081 556 1081 557M760 678Q758 674 756 670M749 569Q751 575 749 581M737 618Q734 619 732 616M729 608Q732 609 729 607M737 600Q742 602 747 603M730 476Q731 478 733 476M845 634Q842 633 842 630M849 623Q848 629 842 630M835 629Q838 632 842 630M860 582Q861 583 862 584M994 448Q1000 453 993 457M1009 508Q1010 505 1007 505M997 497Q998 499 998 501M959 395Q960 396 962 398M961 404Q961 401 963 399M953 409Q956 405 961 404M998 413Q991 411 985 416M997 406Q991 403 984 402M978 413Q980 412 978 413M984 402Q985 400 984 399M1088 399Q1089 403 1092 405M863 420Q858 424 856 431M855 416Q852 419 849 419M976 496Q974 490 970 486M905 398Q902 405 903 413M935 400Q935 401 934 402M914 405Q917 409 920 412M911 418Q908 413 902 415M888 407Q894 411 898 416M782 405Q780 404 778 402M766 405Q768 405 769 407M813 403Q813 398 817 400M820 414Q825 417 829 414M837 434Q833 433 831 429M836 403Q832 398 827 394M758 459Q761 454 760 449M774 439Q772 439 770 439M779 579Q776 577 773 576M773 576Q770 577 768 580M753 465Q749 465 747 467M760 448Q756 446 752 445M756 460Q750 455 743 455M733 439Q737 444 738 449M739 461Q739 457 742 455M750 442Q746 441 743 438M799 557Q804 552 806 546M806 546Q810 544 813 547M924 737Q927 738 931 739M860 756Q853 759 848 755M821 757Q826 753 832 757M876 713Q875 717 873 721M854 745Q858 751 864 753M860 756Q863 758 864 755M958 745Q957 748 954 747M949 749Q951 749 954 747M984 507Q982 510 983 513M968 546Q965 546 964 549M950 512Q958 515 960 507M964 521Q961 514 961 507M941 508Q941 511 938 514M941 508Q942 506 941 508M938 514Q943 519 942 525M942 525Q947 523 953 521M941 508Q950 505 958 499M974 529Q969 531 966 535M943 568Q942 566 943 568M934 581Q936 575 938 569M847 676Q846 671 847 666M857 677Q854 679 851 680M900 623Q899 626 896 627M963 737Q963 742 958 743M977 742Q978 743 977 744M977 744Q985 746 994 747M1006 757Q1002 750 999 743M1009 752Q1008 749 1011 748M1008 639Q1012 644 1017 648M982 533Q980 536 984 537M1030 592Q1031 588 1030 584M1054 561Q1053 560 1053 561M1061 578Q1065 576 1065 571M1021 457Q1019 456 1021 456M1021 456Q1027 456 1033 457M1008 459Q1009 454 1007 450M1047 457Q1050 459 1050 463M1010 479Q1012 475 1016 473M1008 627Q1004 631 1003 637M1008 639Q1014 639 1020 637M782 668Q782 667 781 666M782 668Q789 671 795 674M729 608Q725 604 720 608M729 558Q726 559 725 556M847 588Q843 588 840 593M845 603Q848 599 852 596M852 596Q853 596 852 595M849 580Q844 578 840 580M783 586Q785 590 787 587M820 607Q825 601 825 594M757 601Q754 600 752 598M753 567Q753 565 752 563M851 557Q859 553 867 556M848 652Q846 648 846 644M850 654Q848 658 850 662M833 663Q832 664 832 663M921 626Q921 626 921 626M921 626Q923 632 918 637M866 585Q866 584 867 583M964 426Q966 424 964 425M1076 403Q1077 399 1080 397M1037 418Q1033 415 1029 411M1056 413Q1056 411 1056 410M1040 395Q1041 392 1044 391M1002 400Q1001 397 1003 400M803 390Q803 389 803 390M883 389Q878 391 874 394M856 431Q855 431 856 431M856 431Q854 435 850 435M961 472Q956 470 951 467M961 472Q963 476 961 480M977 475Q969 477 961 480M914 430Q919 430 922 426M885 479Q888 470 897 470M825 485Q831 485 837 484M758 569Q763 570 766 566M797 565Q796 562 798 558M755 429Q754 428 753 427M778 517Q775 520 779 522M889 724Q890 718 895 715M904 729Q903 723 905 718M905 718Q901 714 895 715M917 721Q922 720 925 725M948 735Q947 732 951 730M942 724Q943 721 945 724M961 720Q963 716 958 715M854 745Q853 744 855 744M855 744Q861 741 864 735M864 755Q864 757 866 758M879 756Q881 755 881 753M895 715Q892 713 893 709M870 703Q869 707 872 710M854 708Q851 709 852 706M887 700Q891 703 888 706M973 726Q973 723 970 720M969 718Q969 719 970 720M977 712Q979 711 979 713M979 713Q980 711 982 711M1066 700Q1066 700 1066 700M1024 752Q1028 746 1029 738M927 612Q927 609 926 607M953 543Q951 545 949 546M929 521Q933 516 938 514M1001 615Q1000 609 995 607M1012 617Q1013 609 1009 602M876 696Q874 693 877 690M868 644Q866 650 867 655M1026 695Q1026 699 1023 701M1029 695Q1031 697 1032 694M991 683Q989 679 990 674M1055 665Q1053 659 1048 654M1025 641Q1024 642 1025 644M1051 637Q1046 633 1041 629M1013 663Q1016 665 1020 666M1017 582Q1018 579 1021 578M1014 588Q1013 584 1017 582M1048 449Q1047 446 1045 444M1032 427Q1029 431 1031 436M1029 425Q1027 419 1022 415M1003 400Q1004 398 1005 400M976 427Q983 428 980 434M988 422Q984 428 984 435M1050 619Q1049 626 1042 625M1077 619Q1076 623 1072 625M753 700Q750 702 748 704M760 714Q761 713 760 713M745 716Q748 713 744 711M739 729Q740 736 741 743M728 728Q726 733 730 737M747 747Q744 745 741 743M760 714Q763 718 768 718M766 697Q762 700 763 704M799 668Q801 667 802 666M821 671Q817 668 812 665M821 671Q821 674 822 677M747 648Q748 650 749 651M784 639Q787 633 782 628M796 636Q796 634 795 635M799 610Q803 612 807 610M789 596Q785 600 781 603M796 608Q796 605 797 601M823 590Q821 592 821 589M797 569Q801 576 808 579M889 487Q888 485 887 482M897 470Q895 469 897 470M883 519Q877 520 871 517M898 579Q894 579 898 578M882 537Q887 536 891 534M905 571Q909 565 911 558M915 550Q918 548 915 548M931 539Q928 538 926 536M932 564Q932 564 932 564M838 556Q837 551 838 545M840 557Q845 555 850 556M827 553Q831 555 829 559M876 545Q873 549 875 554M875 554Q873 553 872 555M873 530Q869 532 867 535M860 623Q862 617 859 612M852 596Q856 595 858 598M866 585Q865 588 867 591M907 472Q908 471 909 470M897 470Q895 467 893 463M865 444Q858 445 851 448M865 444Q868 445 870 449M881 476Q884 474 881 472M881 476Q876 477 874 482M893 463Q890 462 886 463M885 479Q883 478 881 476M871 462Q869 465 872 468M914 430Q917 432 913 432M897 431Q896 426 897 421M901 456Q905 453 908 449M893 437Q888 442 885 448M907 526Q913 531 920 531M894 518Q899 514 904 511M904 511Q905 509 903 507M883 519Q887 517 889 515M812 439Q808 432 805 426M857 465Q860 463 859 460M810 491Q815 490 819 494M819 494Q822 491 824 489M764 524Q764 525 765 524M833 744Q825 742 816 744M880 748Q883 745 888 744M881 734Q883 740 888 744M869 745Q873 749 877 745M944 707Q949 709 950 704M946 690Q949 685 954 684M947 697Q951 699 950 704M852 720Q850 725 852 730M842 720Q839 726 835 731M848 732Q849 730 852 730M855 718Q852 717 852 720M831 729Q832 732 835 731M855 744Q851 739 848 732M961 663Q957 662 952 664M952 664Q951 665 949 666M978 697Q975 703 974 709M970 707Q973 705 974 709M979 697Q978 697 978 697M966 692Q967 695 967 697M1036 675Q1035 679 1031 677M1045 677Q1047 671 1045 666M1067 680Q1061 675 1055 671M1055 671Q1052 675 1049 679M1067 662Q1069 664 1070 667M940 598Q938 600 941 599M969 644Q966 641 963 636M956 648Q951 648 951 643M914 646Q918 648 916 644M914 646Q909 644 904 648M880 658Q883 651 885 644M874 655Q878 654 880 658M904 648Q903 651 902 653M888 587Q883 593 880 599M882 624Q880 625 877 624M924 647Q927 644 931 643M987 437Q987 436 988 437M1002 418Q1004 420 1002 423M733 726Q730 725 729 727M837 678Q836 683 836 687M845 692Q842 695 840 691M836 687Q836 691 840 691M840 691Q835 695 835 701M842 720Q842 713 835 709M829 721Q825 714 832 707M814 568Q817 567 820 565M824 565Q826 565 825 567M921 509Q924 509 921 508M902 488Q904 490 906 491M906 491Q906 496 909 499M939 505Q936 505 934 504M899 555Q899 552 898 549M889 680Q895 677 900 681M877 690Q883 688 889 691M916 659Q918 662 915 663M902 692Q905 692 907 694M913 691Q911 694 907 694M907 700Q910 697 907 694M960 448Q964 445 962 440M964 426Q964 432 965 438M838 461Q841 464 844 466M935 478Q936 482 933 480M947 489Q948 491 946 491M922 481Q920 483 923 483M937 473Q937 470 934 468M906 491Q908 488 910 490M923 483Q919 482 922 483M856 520Q856 519 857 518M863 435Q866 436 865 439M914 440Q910 440 905 440M897 444Q900 449 904 444M897 431Q895 433 893 436M934 468Q934 464 935 460M930 429Q933 431 931 434M938 435Q942 435 944 431M922 426Q925 430 930 429M807 734Q807 736 807 737M801 723Q806 723 810 721M804 752Q800 748 802 743M965 592Q971 587 978 583M943 568Q949 566 955 564M996 599Q988 601 981 603M977 620Q981 621 985 623M986 612Q989 615 989 620M981 609Q979 611 976 612M819 715Q818 712 818 710M782 716Q785 721 789 726M770 729Q771 727 772 727M776 746Q774 745 776 743M776 746Q775 749 779 750M858 499Q858 501 857 504M869 420Q871 424 869 427M883 420Q881 420 878 422M893 436Q888 432 882 433M881 405Q877 412 874 420M829 506Q828 504 828 506M820 502Q824 503 828 506M984 631Q984 631 984 631M1003 637Q1000 636 998 638M944 707Q940 708 937 708M933 699Q936 702 937 708M845 512Q842 514 840 516M833 518Q830 513 828 508M828 506Q832 508 828 508M800 515Q803 513 806 516M820 502Q817 504 814 507M991 575Q988 571 988 565M978 578Q981 577 979 576M971 547Q973 554 977 561M783 682Q783 683 783 682M811 700Q802 702 794 701M797 720Q799 716 795 713M921 710Q923 708 923 705M922 700Q924 702 923 705"/><path stroke-opacity="0.7" d="M1087 520Q1087 519 1087 517M1081 441Q1085 442 1087 438M1087 438Q1090 437 1088 439M1085 461Q1083 457 1085 453M1076 500Q1076 503 1076 505M1090 499Q1086 501 1082 502M1055 539Q1056 534 1051 532M1042 535Q1046 532 1051 532M1054 545Q1056 542 1055 539M1070 537Q1070 542 1071 547M1067 516Q1064 516 1063 512M1074 477Q1071 479 1071 475M1072 485Q1073 481 1074 477M1074 548Q1078 551 1080 555M1084 541Q1087 543 1087 546M1087 546Q1085 551 1080 555M862 567Q859 575 860 582M945 392Q942 399 935 400M1036 512Q1033 509 1033 513M1003 490Q1005 486 1002 483M1080 440Q1076 441 1071 442M1082 411Q1086 414 1090 417M1087 425Q1082 423 1077 422M810 404Q811 404 812 403M761 475Q764 472 768 472M912 749Q913 751 910 752M973 520Q973 519 974 519M974 529Q977 534 982 533M1084 541Q1085 540 1084 538M1050 491Q1052 493 1053 495M1036 512Q1038 509 1040 507M1035 501Q1038 502 1039 505M1035 493Q1033 497 1035 501M1061 483Q1056 488 1050 490M1069 458Q1067 460 1065 459M1061 483Q1058 481 1061 480M764 662Q762 670 768 675M760 678Q765 675 760 679M756 581Q753 583 749 581M722 594Q728 590 734 590M747 612Q752 608 747 603M741 485Q743 485 743 483M830 634Q832 631 835 629M900 614Q906 613 911 612M912 623Q910 622 910 624M1016 547Q1023 544 1030 541M1012 536Q1014 533 1015 537M1003 542Q1004 540 1004 538M1009 508Q1010 507 1012 508M1007 505Q1012 499 1015 492M1018 491Q1019 489 1019 491M1024 503Q1023 503 1023 502M1030 490Q1026 493 1021 493M1034 481Q1033 476 1028 476M1025 471Q1022 472 1019 473M961 404Q964 410 969 414M979 409Q976 411 978 413M953 409Q953 411 953 414M964 418Q959 414 953 414M964 418Q965 414 969 414M1040 395Q1035 392 1031 394M1026 397Q1028 395 1031 394M1082 411Q1082 410 1083 410M1092 405Q1086 404 1083 410M1086 397Q1085 390 1091 387M884 392Q889 396 896 395M896 396Q893 398 896 395M855 405Q858 410 855 416M987 469Q989 472 993 473M978 477Q979 476 977 475M978 496Q977 496 976 496M961 495Q961 489 962 482M970 486Q966 483 962 482M983 456Q980 461 976 465M987 469Q984 463 987 458M976 465Q973 467 976 469M888 407Q887 409 887 407M934 402Q929 400 925 398M898 416Q900 414 902 415M786 415Q787 411 783 412M817 400Q817 395 822 394M825 395Q831 402 829 411M831 429Q830 425 827 427M849 403Q849 397 846 392M823 460Q827 459 829 463M829 466Q833 471 838 476M747 482Q746 475 747 467M910 752Q906 757 900 756M833 750Q835 754 832 757M1081 697Q1086 698 1090 699M1079 703Q1083 706 1084 711M1084 711Q1085 712 1084 712M1072 721Q1079 716 1085 721M1072 721Q1072 718 1071 715M978 496Q981 501 984 507M961 533Q959 538 954 542M966 535Q966 536 967 537M953 521Q957 521 958 526M958 499Q958 503 960 507M1069 567Q1074 571 1080 572M1081 558Q1082 564 1085 569M1080 572Q1082 571 1085 569M1090 568Q1088 570 1085 569M1085 569Q1085 568 1085 569M947 575Q949 581 946 586M864 695Q862 695 860 696M857 665Q853 666 850 662M845 634Q841 639 846 644M1003 733Q1006 731 1011 732M990 736Q993 741 995 746M999 743Q998 746 995 746M1003 733Q1007 735 1002 736M1002 732Q993 729 983 728M1011 745Q1016 741 1020 736M1011 745Q1006 744 1003 740M1011 745Q1013 746 1011 748M995 756Q992 752 994 747M1011 653Q1013 649 1017 648M985 526Q991 524 996 523M1038 558Q1043 561 1046 567M1034 558Q1037 560 1038 558M1057 578Q1052 582 1047 584M1027 467Q1025 461 1021 457M1023 451Q1023 454 1021 456M1050 463Q1052 460 1055 463M1047 457Q1040 458 1033 459M1061 480Q1058 481 1057 478M1062 579Q1060 580 1061 578M1035 606Q1042 604 1048 600M1046 591Q1050 595 1048 600M1018 606Q1016 611 1013 617M1018 606Q1018 611 1020 606M1025 614Q1021 614 1022 618M1017 630Q1019 626 1024 623M1028 626Q1029 631 1034 632M1034 632Q1029 637 1025 641M1020 637Q1024 637 1025 641M1008 627Q1008 624 1007 620M1034 611Q1031 614 1035 615M1035 632Q1035 637 1034 632M732 647Q727 650 723 655M739 570Q734 574 727 573M840 580Q840 586 836 584M825 594Q822 593 823 590M834 664Q836 661 833 663M921 626Q927 625 930 630M912 623Q915 628 921 626M976 427Q977 420 978 413M1080 397Q1081 399 1082 397M1072 389Q1069 389 1066 390M1044 391Q1050 391 1056 394M1068 412Q1068 415 1065 415M1029 411Q1032 410 1030 408M1056 413Q1055 417 1051 418M1068 406Q1067 399 1061 396M1068 408Q1063 412 1056 410M1061 396Q1060 397 1058 396M1058 396Q1055 400 1053 404M1053 404Q1056 406 1056 410M1076 403Q1073 405 1068 406M1045 407Q1049 406 1053 404M861 401Q862 406 867 404M867 404Q871 402 875 403M874 394Q871 394 871 391M837 434Q836 440 834 445M834 445Q843 445 851 447M951 467Q950 473 944 474M964 470Q963 472 961 472M976 465Q972 462 969 458M969 458Q967 463 964 468M812 439Q810 438 810 440M795 463Q802 464 807 459M780 455Q786 457 792 455M797 566Q796 566 797 565M780 563Q780 561 779 559M773 576Q772 573 773 569M749 417Q749 422 753 427M743 438Q741 434 743 430M804 494Q801 495 803 498M912 732Q911 725 917 721M911 745Q915 741 916 735M911 715Q910 716 909 715M911 715Q915 717 917 721M958 743Q955 737 948 735M963 737Q961 733 960 729M960 729Q956 730 951 730M932 750Q936 743 943 739M888 706Q890 708 893 709M870 699Q866 701 870 703M865 713Q864 717 862 721M855 718Q858 720 862 721M864 735Q863 733 861 731M862 722Q862 721 862 721M966 692Q967 690 965 692M987 700Q980 704 982 711M999 713Q997 712 997 710M999 713Q999 716 999 719M983 728Q984 728 983 728M969 718Q965 720 961 720M1071 715Q1070 714 1070 712M1075 704Q1070 703 1066 700M1064 710Q1064 705 1066 700M1011 748Q1018 749 1024 752M1088 755Q1088 749 1083 744M1051 751Q1055 752 1059 752M1040 754Q1034 752 1029 757M1031 739Q1030 738 1029 738M1068 755Q1072 752 1073 747M1069 742Q1070 745 1073 747M996 517Q994 516 995 517M998 502Q993 500 992 504M942 525Q942 526 942 526M996 600Q999 600 1001 599M1018 606Q1015 603 1012 601M1007 620Q1005 619 1002 618M939 629Q938 628 940 628M940 628Q941 625 938 624M927 612Q927 612 928 612M869 682Q871 680 869 680M869 682Q872 684 876 685M876 685Q883 684 889 680M865 687Q866 684 869 682M861 642Q865 640 868 644M1018 713Q1015 712 1011 712M1006 710Q1010 709 1011 712M1006 696Q1005 702 1011 701M995 756Q994 758 992 756M977 746Q980 749 979 753M993 685Q991 685 991 683M961 663Q965 667 967 672M980 655Q981 662 978 668M1048 654Q1047 654 1048 654M1035 632Q1036 642 1043 649M1049 643Q1057 646 1064 651M1064 651Q1065 653 1063 653M1034 656Q1037 655 1038 657M1009 689Q1005 684 1004 679M1006 677Q1005 678 1004 679M1025 693Q1020 691 1016 686M1025 693Q1028 686 1028 678M1004 668Q1007 672 1006 677M1017 582Q1012 579 1006 575M1021 578Q1022 576 1022 573M1034 452Q1040 454 1047 455M1034 452Q1038 446 1037 440M1045 444Q1045 440 1041 440M1024 450Q1029 449 1034 452M1033 457Q1034 454 1034 452M1047 457Q1046 456 1047 455M1046 429Q1045 436 1041 440M1031 436Q1034 438 1037 440M1015 429Q1017 428 1017 427M1017 393Q1016 398 1011 399M1008 479Q1009 473 1010 466M1002 465Q1000 462 1003 462M1002 483Q1003 480 1006 479M993 473Q995 467 1002 465M993 457Q999 458 1003 462M1008 459Q1009 462 1005 461M1063 596Q1062 596 1063 596M1035 609Q1041 613 1048 611M1050 619Q1048 617 1050 614M1073 601Q1075 605 1079 608M1066 609Q1070 615 1077 615M1079 608Q1079 610 1079 613M1062 611Q1060 612 1058 610M1069 593Q1075 594 1080 590M1063 596Q1066 594 1069 593M1080 590Q1078 591 1080 590M1062 579Q1065 580 1068 581M1063 621Q1059 619 1057 623M1066 647Q1068 641 1063 637M1050 619Q1052 623 1057 623M1062 611Q1064 616 1063 621M1077 619Q1077 617 1077 615M761 737Q759 735 761 734M741 743Q742 743 741 743M753 700Q757 704 763 704M764 707Q765 705 763 704M817 658Q815 659 814 661M821 671Q829 670 832 663M822 677Q829 678 835 677M835 677Q837 677 837 678M790 627Q786 626 782 628M775 618Q782 618 785 613M785 613Q786 620 791 626M747 637Q745 636 747 636M807 610Q808 607 811 606M765 556Q766 554 765 552M875 531Q881 531 883 526M905 589Q900 591 894 591M893 590Q896 585 898 579M906 571Q905 571 905 571M883 526Q888 524 890 528M922 568Q913 566 906 571M922 553Q922 555 922 553M922 553Q918 552 915 550M915 548Q918 543 922 537M922 537Q923 536 925 536M921 565Q923 559 922 553M932 564Q924 560 922 553M947 550Q947 549 948 550M943 553Q945 552 947 550M832 544Q835 544 838 545M841 568Q837 563 840 557M856 520Q860 528 867 535M851 526Q849 526 851 527M880 586Q881 583 885 584M918 460Q924 463 924 470M898 456Q900 458 901 456M901 456Q908 457 911 463M859 460Q863 459 867 457M874 482Q870 480 866 480M866 473Q868 476 866 480M879 496Q877 496 876 495M876 495Q875 489 874 482M882 458Q877 459 871 462M883 420Q888 418 892 421M937 415Q936 414 934 414M897 444Q895 440 893 437M920 531Q920 528 919 525M924 517Q923 522 919 525M910 516Q909 518 910 521M887 506Q892 505 896 502M896 502Q899 504 903 507M910 516Q907 513 904 511M800 418Q804 419 806 422M799 431Q803 430 805 426M804 543Q806 540 803 537M776 757Q778 759 776 756M799 757Q802 755 804 752M881 753Q881 750 880 748M945 723Q942 715 944 707M958 715Q958 715 958 714M958 714Q954 710 951 704M951 704Q950 709 950 704M954 684Q955 688 957 691M861 731Q856 732 852 730M831 729Q826 730 822 731M949 666Q949 670 946 669M1045 677Q1042 678 1039 677M1067 680Q1064 680 1066 681M1083 688Q1075 683 1066 681M1045 677Q1046 679 1049 679M1071 674Q1078 678 1086 680M1050 735Q1049 736 1050 734M1057 720Q1055 721 1053 722M1062 741Q1059 739 1056 736M1069 725Q1066 724 1063 725M1042 720Q1037 718 1032 717M1027 734Q1028 734 1027 733M1084 644Q1081 644 1081 641M1067 662Q1066 662 1064 660M1073 628Q1077 629 1081 633M1089 667Q1086 665 1084 662M1089 667Q1080 668 1071 672M1082 654Q1086 658 1084 662M929 583Q925 583 922 581M910 577Q913 581 916 583M922 568Q923 574 922 581M943 587Q941 592 940 598M990 589Q989 584 994 584M948 643Q949 636 949 629M885 622Q884 624 882 624M874 641Q869 641 874 640M859 631Q865 630 870 632M924 689Q929 689 934 692M940 681Q939 683 937 684M933 670Q930 674 927 677M947 697Q940 695 934 693M926 655Q930 658 934 661M936 664Q935 663 934 662M1017 427Q1016 421 1019 416M998 413Q999 416 1002 418M1008 433Q1007 437 1003 439M1008 431Q1005 430 1006 427M1015 429Q1011 428 1008 431M1019 416Q1013 423 1006 427M822 731Q820 729 817 728M796 636Q795 643 796 650M821 686Q822 687 823 688M851 688Q848 691 845 692M852 706Q851 708 851 706M760 678Q754 676 748 676M731 680Q730 683 732 683M814 568Q815 570 814 568M934 504Q928 505 921 508M896 560Q889 557 883 554M885 569Q884 561 880 555M875 554Q878 554 880 555M882 540Q884 544 887 548M903 536Q905 540 903 543M903 543Q899 544 898 549M905 534Q907 537 903 536M889 680Q892 686 889 691M890 696Q892 696 894 696M912 680Q910 676 906 677M920 667Q917 665 915 663M914 663Q914 663 915 663M897 664Q902 667 906 670M913 691Q914 696 919 694M960 450Q960 449 960 448M965 438Q963 439 962 440M948 444Q954 445 960 448M844 475Q841 473 839 477M937 473Q937 476 935 478M928 492Q933 492 936 489M925 490Q926 486 922 483M910 490Q915 484 922 483M908 448Q907 444 904 444M917 438Q918 439 920 440M935 460Q939 460 941 457M944 431Q944 430 943 430M941 447Q939 441 938 435M807 737Q806 742 802 743M1011 588Q1008 580 1000 577M994 584Q994 581 995 579M961 578Q962 577 962 575M986 612Q983 610 981 609M964 613Q963 616 962 620M977 620Q972 622 971 626M980 655Q982 656 980 655M980 655Q986 656 992 656M729 727Q730 721 729 714M820 700Q826 699 831 703M779 732Q781 735 778 738M852 482Q854 480 856 481M850 482Q849 488 844 493M881 428Q881 430 882 433M878 422Q877 419 874 420M874 420Q872 424 869 420M978 583Q984 584 986 589M968 595Q970 596 973 597M998 638Q999 641 996 642M995 621Q991 627 995 634M818 710Q817 705 812 705M843 494Q845 498 842 501M810 525Q814 528 816 532M832 530Q829 527 826 530M977 561Q981 559 986 559M987 563Q989 564 988 565M988 556Q987 558 986 559M782 668Q782 675 783 682M794 680Q789 680 783 682"/><path stroke-opacity="0.9" d="M1087 488Q1085 482 1081 476M1067 518Q1072 523 1076 528M1085 489Q1081 487 1076 487M1075 499Q1075 500 1076 499M1088 437Q1087 438 1087 438M1082 502Q1088 504 1086 510M1085 489Q1087 490 1087 488M1076 499Q1078 499 1076 500M1089 514Q1085 514 1087 517M1049 521Q1042 522 1037 527M1049 521Q1052 523 1051 526M1070 537Q1072 534 1075 533M1054 545Q1056 544 1056 547M1076 487Q1075 485 1072 485M1068 497Q1066 496 1067 498M1049 521Q1051 521 1049 521M1063 512Q1059 514 1056 512M1079 464Q1084 469 1081 476M1071 456Q1077 454 1081 450M1037 527Q1036 523 1032 523M1049 521Q1042 518 1036 512M1032 523Q1034 518 1033 513M997 497Q991 495 986 491M1018 523Q1021 520 1020 515M1018 523Q1020 525 1022 527M1088 437Q1092 434 1090 429M1071 442Q1071 441 1070 441M1081 441Q1080 441 1080 440M1082 411Q1080 415 1076 420M1077 422Q1077 421 1076 420M1090 429Q1090 426 1087 425M982 533Q986 530 985 526M985 526Q981 522 978 517M1033 602Q1028 604 1024 602M1065 556Q1068 560 1070 564M1070 564Q1068 565 1069 567M1056 547Q1054 554 1054 561M1075 533Q1079 533 1081 535M1087 520Q1088 522 1090 523M1044 507Q1049 502 1053 497M1039 505Q1041 505 1040 507M1056 512Q1052 505 1053 497M1055 513Q1049 510 1044 507M1024 503Q1026 506 1026 510M1035 493Q1040 491 1046 492M1062 451Q1057 451 1058 446M1070 441Q1070 438 1069 441M1058 429Q1066 430 1073 426M1065 459Q1065 463 1061 462M1061 480Q1063 477 1065 474M1070 564Q1077 563 1081 558M1081 557Q1081 557 1081 558M847 588Q850 592 852 595M1015 537Q1017 542 1016 547M1030 540Q1033 541 1030 541M1015 555Q1023 554 1030 553M1031 543Q1030 543 1030 541M987 439Q984 446 981 454M983 456Q982 455 981 454M1012 508Q1018 506 1023 502M1015 492Q1017 493 1018 491M1008 513Q1010 511 1009 508M1020 515Q1019 508 1012 508M1025 471Q1026 474 1028 476M1040 395Q1043 399 1043 404M1030 408Q1037 408 1043 404M975 393Q977 393 979 392M1086 397Q1089 397 1088 399M992 478Q994 476 993 473M977 470Q982 468 987 469M978 496Q982 493 986 491M958 745Q961 749 965 752M946 754Q947 751 949 749M1081 697Q1077 699 1079 703M1085 721Q1085 717 1084 712M1084 712Q1077 713 1071 715M1069 725Q1071 726 1070 727M961 533Q965 531 966 535M958 527Q958 526 958 526M958 499Q958 499 958 499M1091 578Q1088 574 1085 569M1086 684Q1085 682 1086 680M1083 688Q1082 692 1080 695M1083 688Q1086 688 1086 684M938 569Q941 571 943 568M943 553Q939 556 934 555M958 527Q954 531 948 533M946 586Q953 585 959 587M990 736Q996 736 1002 736M982 731Q983 730 983 728M1006 696Q1000 699 996 705M991 536Q988 537 984 537M994 542Q989 545 984 547M984 537Q987 540 983 540M999 530Q994 532 991 536M967 537Q975 539 983 540M1034 558Q1032 563 1030 567M1047 584Q1046 587 1046 590M1047 584Q1042 584 1040 579M1030 584Q1036 584 1040 579M1050 566Q1048 564 1046 567M1030 567Q1034 571 1039 573M1039 573Q1044 573 1046 567M1027 467Q1029 467 1030 466M1045 473Q1052 475 1057 478M1061 462Q1058 461 1055 463M1062 579Q1061 587 1062 594M1062 594Q1055 591 1046 591M1020 606Q1024 609 1025 614M1035 606Q1034 608 1035 609M1003 637Q1002 639 1004 638M1022 618Q1025 620 1024 623M1035 615Q1031 620 1028 626M850 654Q849 653 848 652M834 664Q841 663 847 666M873 574Q870 579 867 583M976 427Q970 428 964 426M1076 403Q1079 406 1083 410M1057 428Q1056 426 1054 427M1036 423Q1034 420 1037 418M1045 414Q1049 415 1051 418M1056 394Q1058 394 1058 396M961 481Q956 485 950 484M964 470Q962 469 964 468M920 413Q920 417 923 415M887 482Q890 476 897 477M911 745Q910 748 912 749M945 723Q953 721 958 715M961 727Q960 728 960 729M961 727Q961 723 961 720M894 732Q895 738 894 744M895 746Q893 746 894 744M864 695Q867 698 870 699M999 719Q1000 720 1001 721M1075 704Q1073 709 1070 712M1080 695Q1076 692 1072 693M1070 712Q1068 710 1064 710M1042 754Q1045 747 1045 740M1040 754Q1035 747 1031 739M1066 700Q1061 699 1058 696M1057 712Q1053 710 1050 706M1032 694Q1034 702 1039 708M1050 706Q1046 699 1041 693M1039 708Q1043 708 1046 709M1064 741Q1067 741 1069 742M1077 732Q1078 734 1077 736M1069 742Q1074 740 1077 736M1059 752Q1059 754 1061 755M1025 754Q1028 754 1029 757M1073 747Q1075 747 1077 748M1083 744Q1079 744 1077 748M990 515Q993 516 995 517M1008 513Q1001 513 996 517M926 607Q924 608 926 606M930 594Q928 600 926 606M912 612Q919 611 927 612M948 533Q945 530 943 533M949 546Q944 542 940 537M942 526Q941 529 943 533M995 607Q994 603 996 600M1001 599Q1004 602 1008 602M1020 594Q1017 595 1016 593M921 626Q927 622 928 615M1011 701Q1007 705 1006 710M1010 722Q1012 717 1011 712M1026 695Q1028 697 1029 695M990 674Q982 674 978 668M978 668Q978 671 975 670M987 700Q984 696 979 697M965 676Q964 673 967 672M961 663Q962 662 962 660M1055 665Q1055 666 1055 666M1055 665Q1059 661 1064 660M1064 660Q1065 657 1063 653M1049 643Q1047 647 1043 649M1043 651Q1044 650 1043 649M1043 649Q1043 650 1043 649M1013 663Q1010 658 1011 653M1024 649Q1027 656 1023 662M1015 679Q1010 679 1006 677M1005 667Q1005 668 1004 668M1007 559Q1007 562 1006 565M1034 452Q1034 452 1034 452M1023 451Q1025 452 1024 450M1031 436Q1028 436 1026 438M1029 425Q1023 428 1017 427M1016 409Q1016 402 1011 399M1011 399Q1008 402 1005 400M980 434Q983 431 984 435M1006 479Q1007 479 1008 479M994 448Q999 447 1004 445M1056 602Q1057 606 1058 610M1063 596Q1060 600 1056 602M1077 615Q1077 613 1079 613M1063 596Q1062 601 1067 602M1085 594Q1084 590 1080 590M1088 612Q1084 614 1079 613M1069 593Q1066 587 1068 581M1079 585Q1079 583 1077 583M1068 581Q1072 584 1077 583M1080 572Q1078 578 1077 583M1063 637Q1069 634 1073 628M1056 635Q1060 629 1057 623M1051 637Q1053 634 1056 635M873 530Q873 533 875 531M902 583Q908 583 910 577M922 567Q926 564 932 564M911 463Q917 466 918 460M897 444Q896 449 897 454M905 534Q913 535 922 537M920 511Q916 515 910 516M871 516Q874 515 871 517M967 697Q967 699 966 700M1038 684Q1036 682 1033 682M1031 677Q1035 678 1033 682M1028 678Q1029 676 1031 677M1057 687Q1055 687 1052 685M1065 683Q1062 680 1066 681M1052 685Q1050 682 1049 679M1058 696Q1060 691 1057 687M1056 736Q1059 730 1063 725M1050 735Q1050 735 1050 735M1043 719Q1047 723 1053 722M1041 728Q1035 733 1027 733M1032 717Q1026 721 1025 727M1025 727Q1025 731 1027 733M1031 713Q1031 715 1032 717M1081 651Q1081 647 1084 644M1066 647Q1068 647 1069 647M1082 653Q1081 652 1081 651M1073 628Q1074 635 1074 641M1081 633Q1082 636 1081 641M1082 653Q1084 652 1082 654M916 583Q918 581 922 581M911 600Q912 597 913 594M937 598Q938 598 940 598M1011 588Q1008 589 1005 590M996 599Q993 594 990 589M952 664Q953 659 949 657M962 650Q958 651 956 648M962 591Q950 592 941 599M940 644Q944 642 948 643M949 629Q955 630 957 636M949 613Q948 608 953 605M947 627Q949 622 953 621M897 664Q894 672 888 677M867 591Q870 595 873 599M923 678Q925 683 924 689M927 677Q932 681 937 684M1022 415Q1021 413 1019 415M1019 415Q1019 416 1019 416M1006 427Q1004 425 1002 423M1015 442Q1013 436 1008 433M987 437Q985 437 984 435M922 677Q916 673 920 667M912 680Q912 685 913 691M960 450Q963 454 968 453M973 451Q970 451 968 453M969 458Q971 455 968 453M958 499Q952 495 946 491M917 438Q916 439 914 440M941 457Q943 452 941 447M930 429Q932 425 932 421M932 421Q937 426 943 430M1081 633Q1085 632 1089 631M1077 619Q1083 621 1089 625M965 592Q963 594 962 592M962 555Q959 557 956 559M962 555Q968 558 974 562M955 564Q956 565 957 566M957 621Q960 621 962 620M979 634Q979 640 976 645M979 634Q983 635 984 631M976 645Q975 646 976 645M1008 652Q1002 656 995 654M995 654Q994 653 995 654M864 482Q860 484 856 481M866 480Q867 483 864 482M991 575Q985 579 978 578M973 597Q971 604 972 611M969 611Q970 609 972 611M984 631Q984 638 988 642M996 642Q992 643 988 642M921 710Q926 712 930 716"/></g></g></g>
<text x="728.5" y="436" font-size="43.5" fill="#fff">(c)</text>
<text x="731.5" y="724.5" font-size="36.5" fill="#fff">50 nm</text>
<rect x="761.4" y="734.5" width="39.2" height="7" fill="#fff"/>
<!-- panel d -->
<g clip-path="url(#cd)">
<rect x="1129" y="392.5" width="361" height="360.5" fill="url(#glow)"/>
<circle cx="1300.5" cy="575.8" r="103.3" fill="none" stroke="#fff" stroke-opacity="0.07" stroke-width="10" filter="url(#rb)"/>
<g fill="#fff" filter="url(#sb)"><ellipse cx="1268.8" cy="478.8" rx="3.4" ry="2.4" transform="rotate(-18 1268.8 478.8)" fill-opacity="1.00"/><ellipse cx="1276" cy="475.6" rx="3.4" ry="2.1" transform="rotate(-14 1276 475.6)" fill-opacity="0.49"/><ellipse cx="1287.2" cy="473.7" rx="3.4" ry="2.2" transform="rotate(-7 1287.2 473.7)" fill-opacity="0.61"/><ellipse cx="1300.8" cy="470.8" rx="3.4" ry="2.2" transform="rotate(0 1300.8 470.8)" fill-opacity="0.67"/><ellipse cx="1330.4" cy="474.8" rx="5.4" ry="1.9" transform="rotate(16 1330.4 474.8)" fill-opacity="0.23"/><ellipse cx="1352.8" cy="486.8" rx="4.4" ry="2.0" transform="rotate(30 1352.8 486.8)" fill-opacity="0.38"/><ellipse cx="1362.4" cy="490.8" rx="4.4" ry="2.1" transform="rotate(36 1362.4 490.8)" fill-opacity="0.49"/><ellipse cx="1372" cy="499.6" rx="3.4" ry="1.9" transform="rotate(43 1372 499.6)" fill-opacity="0.23"/><ellipse cx="1381.6" cy="514" rx="4.4" ry="2.0" transform="rotate(53 1381.6 514)" fill-opacity="0.38"/><ellipse cx="1386.4" cy="518.8" rx="4.4" ry="2.0" transform="rotate(56 1386.4 518.8)" fill-opacity="0.38"/><ellipse cx="1392.8" cy="531.6" rx="3.4" ry="1.8" transform="rotate(64 1392.8 531.6)" fill-opacity="0.19"/><ellipse cx="1245.6" cy="488.4" rx="3.4" ry="1.9" transform="rotate(-32 1245.6 488.4)" fill-opacity="0.28"/><ellipse cx="1236.8" cy="494.8" rx="3.4" ry="2.0" transform="rotate(-38 1236.8 494.8)" fill-opacity="0.38"/><ellipse cx="1231.2" cy="501.2" rx="3.4" ry="1.9" transform="rotate(-43 1231.2 501.2)" fill-opacity="0.28"/><ellipse cx="1217.6" cy="515.6" rx="3.4" ry="2.3" transform="rotate(-54 1217.6 515.6)" fill-opacity="0.80"/><ellipse cx="1209.6" cy="527.6" rx="3.4" ry="2.0" transform="rotate(-62 1209.6 527.6)" fill-opacity="0.43"/><ellipse cx="1200.8" cy="549.2" rx="3.4" ry="1.8" transform="rotate(-75 1200.8 549.2)" fill-opacity="0.19"/><ellipse cx="1197.6" cy="563.6" rx="3.4" ry="1.9" transform="rotate(-83 1197.6 563.6)" fill-opacity="0.28"/><ellipse cx="1199.2" cy="598" rx="5.4" ry="2.1" transform="rotate(258 1199.2 598)" fill-opacity="0.49"/><ellipse cx="1208" cy="624.4" rx="3.4" ry="2.0" transform="rotate(242 1208 624.4)" fill-opacity="0.38"/><ellipse cx="1216.8" cy="638.8" rx="4.4" ry="2.0" transform="rotate(233 1216.8 638.8)" fill-opacity="0.43"/><ellipse cx="1232.8" cy="652.4" rx="3.4" ry="1.9" transform="rotate(221 1232.8 652.4)" fill-opacity="0.23"/><ellipse cx="1252" cy="667.6" rx="3.4" ry="2.3" transform="rotate(208 1252 667.6)" fill-opacity="0.80"/><ellipse cx="1324" cy="675.6" rx="8.4" ry="2.2" transform="rotate(167 1324 675.6)" fill-opacity="0.61"/><ellipse cx="1357.6" cy="662.8" rx="3.4" ry="2.0" transform="rotate(147 1357.6 662.8)" fill-opacity="0.33"/><ellipse cx="1365.6" cy="657.2" rx="4.4" ry="2.1" transform="rotate(141 1365.6 657.2)" fill-opacity="0.55"/><ellipse cx="1381.6" cy="638.8" rx="3.4" ry="1.8" transform="rotate(128 1381.6 638.8)" fill-opacity="0.19"/><ellipse cx="1386.4" cy="630.8" rx="3.4" ry="1.8" transform="rotate(123 1386.4 630.8)" fill-opacity="0.19"/><ellipse cx="1280.8" cy="455.6" rx="2.4" ry="1.8" transform="rotate(-9 1280.8 455.6)" fill-opacity="0.19"/><ellipse cx="1311.2" cy="454.8" rx="2.4" ry="1.8" transform="rotate(5 1311.2 454.8)" fill-opacity="0.19"/><ellipse cx="1310.4" cy="513.2" rx="2.4" ry="1.9" transform="rotate(9 1310.4 513.2)" fill-opacity="0.28"/><ellipse cx="1319.2" cy="514" rx="2.4" ry="1.9" transform="rotate(17 1319.2 514)" fill-opacity="0.23"/><ellipse cx="1240" cy="587.6" rx="2.4" ry="1.9" transform="rotate(259 1240 587.6)" fill-opacity="0.28"/><ellipse cx="1290.4" cy="638.8" rx="2.9" ry="2.0" transform="rotate(189 1290.4 638.8)" fill-opacity="0.38"/><ellipse cx="1352" cy="614.8" rx="2.4" ry="1.8" transform="rotate(127 1352 614.8)" fill-opacity="0.19"/></g>
<path d="M1287,570 L1292,566 L1298,564.2 L1301.5,565.8 L1350,558.2 L1411,544.7 C1430,534 1445,522 1456.6,518 L1491,510 L1491,664.6 L1471.8,662.6 C1460,660 1445,653 1431.3,644.8 L1411,633.4 L1394.5,625.8 L1350,607.8 L1293.4,587.6 L1288.2,583.6 Z" fill="#000"/>
</g>
<text x="1131" y="436" font-size="43.5" fill="#fff">(d)</text>
<text transform="translate(1416,621.5) rotate(-90)" font-size="42" fill="#fff">311</text>
<text x="1144.5" y="724.5" font-size="36.5" fill="#fff">5 1/nm</text>
<rect x="1164.6" y="733.5" width="67" height="7" fill="#fff"/>
</svg>
</body></html>
